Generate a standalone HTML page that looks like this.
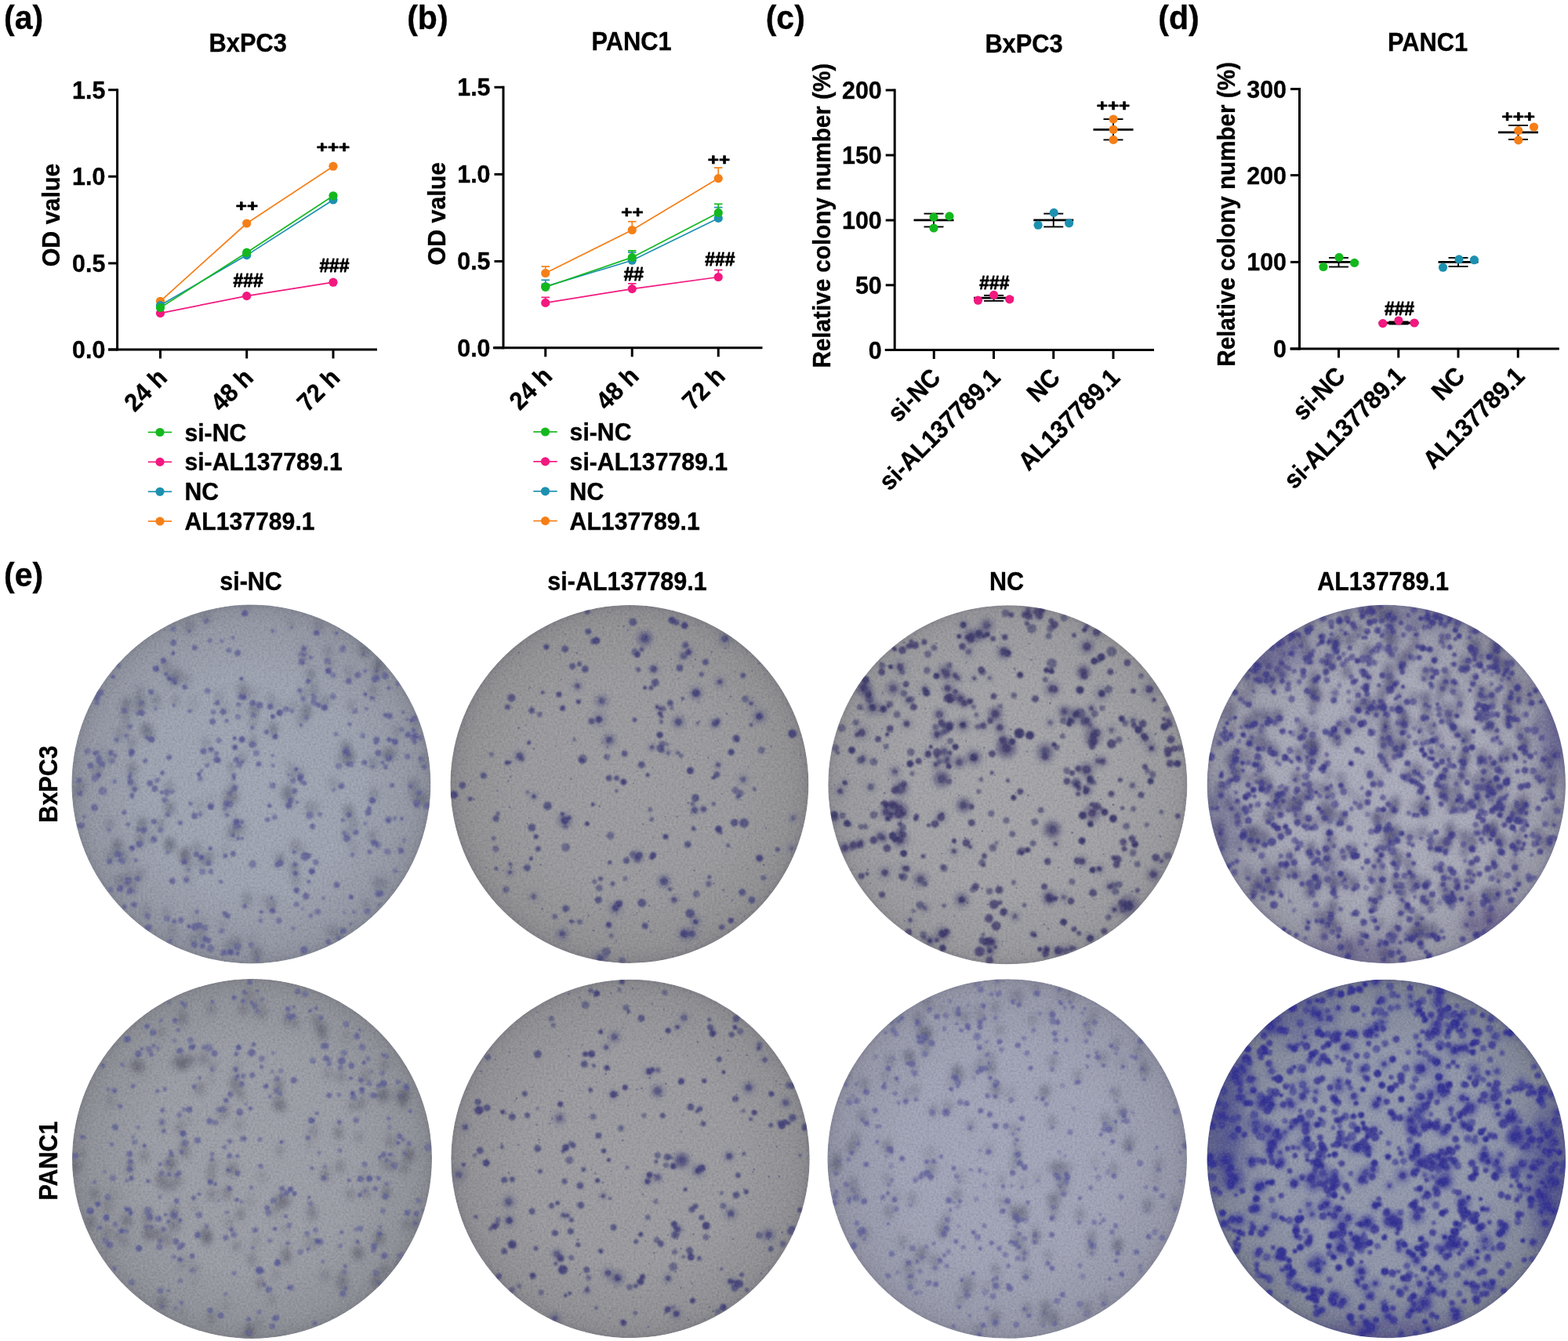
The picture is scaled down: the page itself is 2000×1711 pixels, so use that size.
<!DOCTYPE html>
<html lang="en"><head><meta charset="utf-8"><title>Figure</title>
<style>
html,body{margin:0;padding:0;background:#fff;}
body{width:2000px;height:1711px;overflow:hidden;}
svg{display:block;}
</style></head><body>
<svg width="2000" height="1711" viewBox="0 0 2000 1711" font-family="Liberation Sans, Arial, Helvetica, sans-serif" font-weight="bold" fill="#000">
<style>text{stroke:#000;stroke-width:0.35px;stroke-linejoin:round}</style>
<rect width="2000" height="1711" fill="#fff"/>
<text transform="translate(5 36.7) scale(1 1.03)" font-size="41" text-anchor="start">(a)</text>
<text transform="translate(519.2 36.7) scale(1 1.03)" font-size="41" text-anchor="start">(b)</text>
<text transform="translate(976.7 36.7) scale(1 1.03)" font-size="41" text-anchor="start">(c)</text>
<text transform="translate(1477.3 36.7) scale(1 1.03)" font-size="41" text-anchor="start">(d)</text>
<text transform="translate(5 748.2) scale(1 1.03)" font-size="41" text-anchor="start">(e)</text>
<text transform="translate(316.2 65.9) scale(1 1.06)" font-size="30.8" text-anchor="middle">BxPC3</text>
<text transform="translate(76.4 274.5) rotate(-90) scale(1 1.06)" font-size="30.4" text-anchor="middle">OD value</text>
<line x1="149.6" y1="113.2" x2="149.6" y2="447.4" stroke="#000" stroke-width="3.0" stroke-linecap="butt"/>
<line x1="138" y1="445.9" x2="481" y2="445.9" stroke="#000" stroke-width="3.0" stroke-linecap="butt"/>
<line x1="138.1" y1="114.7" x2="149.6" y2="114.7" stroke="#000" stroke-width="3.0" stroke-linecap="butt"/>
<text transform="translate(134.3 125.79) scale(1 1.06)" font-size="30.4" text-anchor="end">1.5</text>
<line x1="138.1" y1="225.2" x2="149.6" y2="225.2" stroke="#000" stroke-width="3.0" stroke-linecap="butt"/>
<text transform="translate(134.3 236.29) scale(1 1.06)" font-size="30.4" text-anchor="end">1.0</text>
<line x1="138.1" y1="335.9" x2="149.6" y2="335.9" stroke="#000" stroke-width="3.0" stroke-linecap="butt"/>
<text transform="translate(134.3 346.99) scale(1 1.06)" font-size="30.4" text-anchor="end">0.5</text>
<line x1="138.1" y1="446" x2="149.6" y2="446" stroke="#000" stroke-width="3.0" stroke-linecap="butt"/>
<text transform="translate(134.3 457.09) scale(1 1.06)" font-size="30.4" text-anchor="end">0.0</text>
<line x1="204.5" y1="445.9" x2="204.5" y2="457.4" stroke="#000" stroke-width="3.0" stroke-linecap="butt"/>
<line x1="314.7" y1="445.9" x2="314.7" y2="457.4" stroke="#000" stroke-width="3.0" stroke-linecap="butt"/>
<line x1="425" y1="445.9" x2="425" y2="457.4" stroke="#000" stroke-width="3.0" stroke-linecap="butt"/>
<polyline points="204.5,384.3 314.7,285 425,212.2" fill="none" stroke="#F57F17" stroke-width="1.7"/>
<circle cx="204.5" cy="384.3" r="5.6" fill="#F57F17"/>
<circle cx="314.7" cy="285" r="5.6" fill="#F57F17"/>
<circle cx="425" cy="212.2" r="5.6" fill="#F57F17"/>
<polyline points="204.5,389.6 314.7,325.6 425,255" fill="none" stroke="#1D90B0" stroke-width="1.7"/>
<circle cx="204.5" cy="389.6" r="5.6" fill="#1D90B0"/>
<circle cx="314.7" cy="325.6" r="5.6" fill="#1D90B0"/>
<circle cx="425" cy="255" r="5.6" fill="#1D90B0"/>
<polyline points="204.5,399.6 314.7,377.6 425,360.2" fill="none" stroke="#F2187F" stroke-width="1.7"/>
<circle cx="204.5" cy="399.6" r="5.6" fill="#F2187F"/>
<circle cx="314.7" cy="377.6" r="5.6" fill="#F2187F"/>
<circle cx="425" cy="360.2" r="5.6" fill="#F2187F"/>
<polyline points="204.5,392.6 314.7,322.2 425,249.8" fill="none" stroke="#14B81E" stroke-width="1.7"/>
<circle cx="204.5" cy="392.6" r="5.6" fill="#14B81E"/>
<circle cx="314.7" cy="322.2" r="5.6" fill="#14B81E"/>
<circle cx="425" cy="249.8" r="5.6" fill="#14B81E"/>
<text transform="translate(315 269.72) scale(1.03 0.86)" font-size="23.5" text-anchor="middle" style="stroke-width:0.8px">++</text>
<text transform="translate(425 195.12) scale(1.03 0.86)" font-size="23.5" text-anchor="middle" style="stroke-width:0.8px">+++</text>
<text transform="translate(316.6 365.73) scale(0.97 1.03)" font-size="23.5" text-anchor="middle" style="stroke-width:0.85px">###</text>
<text transform="translate(426.4 347.43) scale(0.97 1.03)" font-size="23.5" text-anchor="middle" style="stroke-width:0.85px">###</text>
<text transform="translate(214.8 483.8) rotate(-45) scale(1 1.06)" font-size="30.4" text-anchor="end">24 h</text>
<text transform="translate(325.0 483.8) rotate(-45) scale(1 1.06)" font-size="30.4" text-anchor="end">48 h</text>
<text transform="translate(435.3 483.8) rotate(-45) scale(1 1.06)" font-size="30.4" text-anchor="end">72 h</text>
<line x1="188.8" y1="551.5" x2="219.2" y2="551.5" stroke="#14B81E" stroke-width="1.7" stroke-linecap="butt"/>
<circle cx="204" cy="551.5" r="5.6" fill="#14B81E"/>
<text transform="translate(235.4 562.5) scale(1 1.06)" font-size="30.2" text-anchor="start">si-NC</text>
<line x1="188.8" y1="589.4" x2="219.2" y2="589.4" stroke="#F2187F" stroke-width="1.7" stroke-linecap="butt"/>
<circle cx="204" cy="589.4" r="5.6" fill="#F2187F"/>
<text transform="translate(235.4 600.4) scale(1 1.06)" font-size="30.2" text-anchor="start">si-AL137789.1</text>
<line x1="188.8" y1="627.3" x2="219.2" y2="627.3" stroke="#1D90B0" stroke-width="1.7" stroke-linecap="butt"/>
<circle cx="204" cy="627.3" r="5.6" fill="#1D90B0"/>
<text transform="translate(235.4 638.3) scale(1 1.06)" font-size="30.2" text-anchor="start">NC</text>
<line x1="188.8" y1="665.1" x2="219.2" y2="665.1" stroke="#F57F17" stroke-width="1.7" stroke-linecap="butt"/>
<circle cx="204" cy="665.1" r="5.6" fill="#F57F17"/>
<text transform="translate(235.4 676.1) scale(1 1.06)" font-size="30.2" text-anchor="start">AL137789.1</text>
<text transform="translate(805.6 63.9) scale(1 1.06)" font-size="30.8" text-anchor="middle">PANC1</text>
<text transform="translate(567.8 272.6) rotate(-90) scale(1 1.06)" font-size="30.4" text-anchor="middle">OD value</text>
<line x1="642" y1="109.8" x2="642" y2="445.25" stroke="#000" stroke-width="3.0" stroke-linecap="butt"/>
<line x1="629" y1="443.75" x2="972.5" y2="443.75" stroke="#000" stroke-width="3.0" stroke-linecap="butt"/>
<line x1="630.5" y1="111.3" x2="642" y2="111.3" stroke="#000" stroke-width="3.0" stroke-linecap="butt"/>
<text transform="translate(625.5 122.39) scale(1 1.06)" font-size="30.4" text-anchor="end">1.5</text>
<line x1="630.5" y1="222.4" x2="642" y2="222.4" stroke="#000" stroke-width="3.0" stroke-linecap="butt"/>
<text transform="translate(625.5 233.49) scale(1 1.06)" font-size="30.4" text-anchor="end">1.0</text>
<line x1="630.5" y1="333.4" x2="642" y2="333.4" stroke="#000" stroke-width="3.0" stroke-linecap="butt"/>
<text transform="translate(625.5 344.49) scale(1 1.06)" font-size="30.4" text-anchor="end">0.5</text>
<line x1="630.5" y1="443.75" x2="642" y2="443.75" stroke="#000" stroke-width="3.0" stroke-linecap="butt"/>
<text transform="translate(625.5 454.84) scale(1 1.06)" font-size="30.4" text-anchor="end">0.0</text>
<line x1="695.75" y1="443.75" x2="695.75" y2="455.25" stroke="#000" stroke-width="3.0" stroke-linecap="butt"/>
<line x1="806.25" y1="443.75" x2="806.25" y2="455.25" stroke="#000" stroke-width="3.0" stroke-linecap="butt"/>
<line x1="916.25" y1="443.75" x2="916.25" y2="455.25" stroke="#000" stroke-width="3.0" stroke-linecap="butt"/>
<line x1="695.75" y1="348.5" x2="695.75" y2="340" stroke="#F57F17" stroke-width="1.7" stroke-linecap="butt"/>
<line x1="690.5" y1="340" x2="701.0" y2="340" stroke="#F57F17" stroke-width="1.7" stroke-linecap="butt"/>
<line x1="806.25" y1="293.5" x2="806.25" y2="282.7" stroke="#F57F17" stroke-width="1.7" stroke-linecap="butt"/>
<line x1="801.0" y1="282.7" x2="811.5" y2="282.7" stroke="#F57F17" stroke-width="1.7" stroke-linecap="butt"/>
<line x1="916.25" y1="227.6" x2="916.25" y2="214" stroke="#F57F17" stroke-width="1.7" stroke-linecap="butt"/>
<line x1="911.0" y1="214" x2="921.5" y2="214" stroke="#F57F17" stroke-width="1.7" stroke-linecap="butt"/>
<polyline points="695.75,348.5 806.25,293.5 916.25,227.6" fill="none" stroke="#F57F17" stroke-width="1.7"/>
<circle cx="695.75" cy="348.5" r="5.6" fill="#F57F17"/>
<circle cx="806.25" cy="293.5" r="5.6" fill="#F57F17"/>
<circle cx="916.25" cy="227.6" r="5.6" fill="#F57F17"/>
<line x1="695.75" y1="365.6" x2="695.75" y2="357.3" stroke="#1D90B0" stroke-width="1.7" stroke-linecap="butt"/>
<line x1="690.5" y1="357.3" x2="701.0" y2="357.3" stroke="#1D90B0" stroke-width="1.7" stroke-linecap="butt"/>
<line x1="806.25" y1="332.2" x2="806.25" y2="322" stroke="#1D90B0" stroke-width="1.7" stroke-linecap="butt"/>
<line x1="801.0" y1="322" x2="811.5" y2="322" stroke="#1D90B0" stroke-width="1.7" stroke-linecap="butt"/>
<line x1="916.25" y1="278.4" x2="916.25" y2="264.6" stroke="#1D90B0" stroke-width="1.7" stroke-linecap="butt"/>
<line x1="911.0" y1="264.6" x2="921.5" y2="264.6" stroke="#1D90B0" stroke-width="1.7" stroke-linecap="butt"/>
<polyline points="695.75,365.6 806.25,332.2 916.25,278.4" fill="none" stroke="#1D90B0" stroke-width="1.7"/>
<circle cx="695.75" cy="365.6" r="5.6" fill="#1D90B0"/>
<circle cx="806.25" cy="332.2" r="5.6" fill="#1D90B0"/>
<circle cx="916.25" cy="278.4" r="5.6" fill="#1D90B0"/>
<line x1="695.75" y1="386.4" x2="695.75" y2="379.4" stroke="#F2187F" stroke-width="1.7" stroke-linecap="butt"/>
<line x1="690.5" y1="379.4" x2="701.0" y2="379.4" stroke="#F2187F" stroke-width="1.7" stroke-linecap="butt"/>
<line x1="806.25" y1="368.6" x2="806.25" y2="361.8" stroke="#F2187F" stroke-width="1.7" stroke-linecap="butt"/>
<line x1="801.0" y1="361.8" x2="811.5" y2="361.8" stroke="#F2187F" stroke-width="1.7" stroke-linecap="butt"/>
<line x1="916.25" y1="353.5" x2="916.25" y2="344.5" stroke="#F2187F" stroke-width="1.7" stroke-linecap="butt"/>
<line x1="911.0" y1="344.5" x2="921.5" y2="344.5" stroke="#F2187F" stroke-width="1.7" stroke-linecap="butt"/>
<polyline points="695.75,386.4 806.25,368.6 916.25,353.5" fill="none" stroke="#F2187F" stroke-width="1.7"/>
<circle cx="695.75" cy="386.4" r="5.6" fill="#F2187F"/>
<circle cx="806.25" cy="368.6" r="5.6" fill="#F2187F"/>
<circle cx="916.25" cy="353.5" r="5.6" fill="#F2187F"/>
<line x1="695.75" y1="366.3" x2="695.75" y2="362.5" stroke="#14B81E" stroke-width="1.7" stroke-linecap="butt"/>
<line x1="690.5" y1="362.5" x2="701.0" y2="362.5" stroke="#14B81E" stroke-width="1.7" stroke-linecap="butt"/>
<line x1="806.25" y1="328.4" x2="806.25" y2="319.8" stroke="#14B81E" stroke-width="1.7" stroke-linecap="butt"/>
<line x1="801.0" y1="319.8" x2="811.5" y2="319.8" stroke="#14B81E" stroke-width="1.7" stroke-linecap="butt"/>
<line x1="916.25" y1="271.4" x2="916.25" y2="260.3" stroke="#14B81E" stroke-width="1.7" stroke-linecap="butt"/>
<line x1="911.0" y1="260.3" x2="921.5" y2="260.3" stroke="#14B81E" stroke-width="1.7" stroke-linecap="butt"/>
<polyline points="695.75,366.3 806.25,328.4 916.25,271.4" fill="none" stroke="#14B81E" stroke-width="1.7"/>
<circle cx="695.75" cy="366.3" r="5.6" fill="#14B81E"/>
<circle cx="806.25" cy="328.4" r="5.6" fill="#14B81E"/>
<circle cx="916.25" cy="271.4" r="5.6" fill="#14B81E"/>
<text transform="translate(806.5 278.12) scale(1.03 0.86)" font-size="23.5" text-anchor="middle" style="stroke-width:0.8px">++</text>
<text transform="translate(917 210.72) scale(1.03 0.86)" font-size="23.5" text-anchor="middle" style="stroke-width:0.8px">++</text>
<text transform="translate(808.3 357.93) scale(0.97 1.03)" font-size="23.5" text-anchor="middle" style="stroke-width:0.85px">##</text>
<text transform="translate(918.3 339.43) scale(0.97 1.03)" font-size="23.5" text-anchor="middle" style="stroke-width:0.85px">###</text>
<text transform="translate(706.05 481.8) rotate(-45) scale(1 1.06)" font-size="30.4" text-anchor="end">24 h</text>
<text transform="translate(816.55 481.8) rotate(-45) scale(1 1.06)" font-size="30.4" text-anchor="end">48 h</text>
<text transform="translate(926.55 481.8) rotate(-45) scale(1 1.06)" font-size="30.4" text-anchor="end">72 h</text>
<line x1="680.3" y1="551" x2="710.7" y2="551" stroke="#14B81E" stroke-width="1.7" stroke-linecap="butt"/>
<circle cx="695.5" cy="551" r="5.6" fill="#14B81E"/>
<text transform="translate(726.6 562.0) scale(1 1.06)" font-size="30.2" text-anchor="start">si-NC</text>
<line x1="680.3" y1="588.9" x2="710.7" y2="588.9" stroke="#F2187F" stroke-width="1.7" stroke-linecap="butt"/>
<circle cx="695.5" cy="588.9" r="5.6" fill="#F2187F"/>
<text transform="translate(726.6 599.9) scale(1 1.06)" font-size="30.2" text-anchor="start">si-AL137789.1</text>
<line x1="680.3" y1="626.8" x2="710.7" y2="626.8" stroke="#1D90B0" stroke-width="1.7" stroke-linecap="butt"/>
<circle cx="695.5" cy="626.8" r="5.6" fill="#1D90B0"/>
<text transform="translate(726.6 637.8) scale(1 1.06)" font-size="30.2" text-anchor="start">NC</text>
<line x1="680.3" y1="664.6" x2="710.7" y2="664.6" stroke="#F57F17" stroke-width="1.7" stroke-linecap="butt"/>
<circle cx="695.5" cy="664.6" r="5.6" fill="#F57F17"/>
<text transform="translate(726.6 675.6) scale(1 1.06)" font-size="30.2" text-anchor="start">AL137789.1</text>
<text transform="translate(1306 66.6) scale(1 1.06)" font-size="30.8" text-anchor="middle">BxPC3</text>
<text transform="translate(1059 275.2) rotate(-90) scale(1 1.06)" font-size="29.65" text-anchor="middle">Relative colony number (%)</text>
<line x1="1141.2" y1="113.5" x2="1141.2" y2="448.0" stroke="#000" stroke-width="3.0" stroke-linecap="butt"/>
<line x1="1128.75" y1="446.5" x2="1472" y2="446.5" stroke="#000" stroke-width="3.0" stroke-linecap="butt"/>
<line x1="1129.7" y1="115" x2="1141.2" y2="115" stroke="#000" stroke-width="3.0" stroke-linecap="butt"/>
<text transform="translate(1124.7 126.09) scale(1 1.06)" font-size="30.4" text-anchor="end">200</text>
<line x1="1129.7" y1="198" x2="1141.2" y2="198" stroke="#000" stroke-width="3.0" stroke-linecap="butt"/>
<text transform="translate(1124.7 209.09) scale(1 1.06)" font-size="30.4" text-anchor="end">150</text>
<line x1="1129.7" y1="281" x2="1141.2" y2="281" stroke="#000" stroke-width="3.0" stroke-linecap="butt"/>
<text transform="translate(1124.7 292.09) scale(1 1.06)" font-size="30.4" text-anchor="end">100</text>
<line x1="1129.7" y1="363.8" x2="1141.2" y2="363.8" stroke="#000" stroke-width="3.0" stroke-linecap="butt"/>
<text transform="translate(1124.7 374.89) scale(1 1.06)" font-size="30.4" text-anchor="end">50</text>
<line x1="1129.7" y1="446.5" x2="1141.2" y2="446.5" stroke="#000" stroke-width="3.0" stroke-linecap="butt"/>
<text transform="translate(1124.7 457.59) scale(1 1.06)" font-size="30.4" text-anchor="end">0</text>
<line x1="1191.25" y1="446.5" x2="1191.25" y2="458.0" stroke="#000" stroke-width="3.0" stroke-linecap="butt"/>
<line x1="1267.5" y1="446.5" x2="1267.5" y2="458.0" stroke="#000" stroke-width="3.0" stroke-linecap="butt"/>
<line x1="1343.75" y1="446.5" x2="1343.75" y2="458.0" stroke="#000" stroke-width="3.0" stroke-linecap="butt"/>
<line x1="1420" y1="446.5" x2="1420" y2="458.0" stroke="#000" stroke-width="3.0" stroke-linecap="butt"/>
<line x1="1165.5" y1="280.9" x2="1216.5" y2="280.9" stroke="#000" stroke-width="2.8" stroke-linecap="butt"/>
<line x1="1191" y1="272.6" x2="1191" y2="289.4" stroke="#000" stroke-width="1.9" stroke-linecap="butt"/>
<line x1="1178.5" y1="272.6" x2="1203.5" y2="272.6" stroke="#000" stroke-width="1.9" stroke-linecap="butt"/>
<line x1="1178.5" y1="289.4" x2="1203.5" y2="289.4" stroke="#000" stroke-width="1.9" stroke-linecap="butt"/>
<circle cx="1191" cy="277.1" r="5.6" fill="#14B81E"/>
<circle cx="1211" cy="275.9" r="5.6" fill="#14B81E"/>
<circle cx="1191" cy="291" r="5.6" fill="#14B81E"/>
<line x1="1242.1" y1="380.2" x2="1293.1" y2="380.2" stroke="#000" stroke-width="2.8" stroke-linecap="butt"/>
<line x1="1267.6" y1="376.9" x2="1267.6" y2="383.9" stroke="#000" stroke-width="1.9" stroke-linecap="butt"/>
<line x1="1255.1" y1="376.9" x2="1280.1" y2="376.9" stroke="#000" stroke-width="1.9" stroke-linecap="butt"/>
<line x1="1255.1" y1="383.9" x2="1280.1" y2="383.9" stroke="#000" stroke-width="1.9" stroke-linecap="butt"/>
<circle cx="1247.5" cy="383.2" r="5.6" fill="#F2187F"/>
<circle cx="1267.6" cy="376.4" r="5.6" fill="#F2187F"/>
<circle cx="1287.7" cy="381.9" r="5.6" fill="#F2187F"/>
<line x1="1318.25" y1="280.9" x2="1369.25" y2="280.9" stroke="#000" stroke-width="2.8" stroke-linecap="butt"/>
<line x1="1343.75" y1="272.6" x2="1343.75" y2="289.4" stroke="#000" stroke-width="1.9" stroke-linecap="butt"/>
<line x1="1331.25" y1="272.6" x2="1356.25" y2="272.6" stroke="#000" stroke-width="1.9" stroke-linecap="butt"/>
<line x1="1331.25" y1="289.4" x2="1356.25" y2="289.4" stroke="#000" stroke-width="1.9" stroke-linecap="butt"/>
<circle cx="1324.1" cy="287.2" r="5.6" fill="#1D90B0"/>
<circle cx="1344.2" cy="271.4" r="5.6" fill="#1D90B0"/>
<circle cx="1363.6" cy="284.7" r="5.6" fill="#1D90B0"/>
<line x1="1394.5" y1="165.3" x2="1445.5" y2="165.3" stroke="#000" stroke-width="2.8" stroke-linecap="butt"/>
<line x1="1420" y1="152" x2="1420" y2="178.4" stroke="#000" stroke-width="1.9" stroke-linecap="butt"/>
<line x1="1407.5" y1="152" x2="1432.5" y2="152" stroke="#000" stroke-width="1.9" stroke-linecap="butt"/>
<line x1="1407.5" y1="178.4" x2="1432.5" y2="178.4" stroke="#000" stroke-width="1.9" stroke-linecap="butt"/>
<circle cx="1420.1" cy="152" r="5.6" fill="#F57F17"/>
<circle cx="1420.1" cy="165.3" r="5.6" fill="#F57F17"/>
<circle cx="1420.1" cy="178.4" r="5.6" fill="#F57F17"/>
<text transform="translate(1420 141.92) scale(1.03 0.86)" font-size="23.5" text-anchor="middle" style="stroke-width:0.8px">+++</text>
<text transform="translate(1268.3 368.73) scale(0.97 1.03)" font-size="23.5" text-anchor="middle" style="stroke-width:0.85px">###</text>
<text transform="translate(1201.55 483.8) rotate(-45) scale(1 1.06)" font-size="30.4" text-anchor="end">si-NC</text>
<text transform="translate(1277.8 483.8) rotate(-45) scale(1 1.06)" font-size="30.4" text-anchor="end">si-AL137789.1</text>
<text transform="translate(1354.05 483.8) rotate(-45) scale(1 1.06)" font-size="30.4" text-anchor="end">NC</text>
<text transform="translate(1430.3 483.8) rotate(-45) scale(1 1.06)" font-size="30.4" text-anchor="end">AL137789.1</text>
<text transform="translate(1821 64.8) scale(1 1.06)" font-size="30.8" text-anchor="middle">PANC1</text>
<text transform="translate(1575.2 273.4) rotate(-90) scale(1 1.06)" font-size="29.65" text-anchor="middle">Relative colony number (%)</text>
<line x1="1657.5" y1="112.1" x2="1657.5" y2="446.5" stroke="#000" stroke-width="3.0" stroke-linecap="butt"/>
<line x1="1645.5" y1="445" x2="1988.75" y2="445" stroke="#000" stroke-width="3.0" stroke-linecap="butt"/>
<line x1="1646.0" y1="113.6" x2="1657.5" y2="113.6" stroke="#000" stroke-width="3.0" stroke-linecap="butt"/>
<text transform="translate(1641.0 124.69) scale(1 1.06)" font-size="30.4" text-anchor="end">300</text>
<line x1="1646.0" y1="223.6" x2="1657.5" y2="223.6" stroke="#000" stroke-width="3.0" stroke-linecap="butt"/>
<text transform="translate(1641.0 234.69) scale(1 1.06)" font-size="30.4" text-anchor="end">200</text>
<line x1="1646.0" y1="334.4" x2="1657.5" y2="334.4" stroke="#000" stroke-width="3.0" stroke-linecap="butt"/>
<text transform="translate(1641.0 345.49) scale(1 1.06)" font-size="30.4" text-anchor="end">100</text>
<line x1="1646.0" y1="445" x2="1657.5" y2="445" stroke="#000" stroke-width="3.0" stroke-linecap="butt"/>
<text transform="translate(1641.0 456.09) scale(1 1.06)" font-size="30.4" text-anchor="end">0</text>
<line x1="1707.5" y1="445" x2="1707.5" y2="456.5" stroke="#000" stroke-width="3.0" stroke-linecap="butt"/>
<line x1="1783.75" y1="445" x2="1783.75" y2="456.5" stroke="#000" stroke-width="3.0" stroke-linecap="butt"/>
<line x1="1860" y1="445" x2="1860" y2="456.5" stroke="#000" stroke-width="3.0" stroke-linecap="butt"/>
<line x1="1936.25" y1="445" x2="1936.25" y2="456.5" stroke="#000" stroke-width="3.0" stroke-linecap="butt"/>
<line x1="1682.0" y1="334.4" x2="1733.0" y2="334.4" stroke="#000" stroke-width="2.8" stroke-linecap="butt"/>
<line x1="1707.5" y1="328.9" x2="1707.5" y2="340.5" stroke="#000" stroke-width="1.9" stroke-linecap="butt"/>
<line x1="1695.0" y1="328.9" x2="1720.0" y2="328.9" stroke="#000" stroke-width="1.9" stroke-linecap="butt"/>
<line x1="1695.0" y1="340.5" x2="1720.0" y2="340.5" stroke="#000" stroke-width="1.9" stroke-linecap="butt"/>
<circle cx="1688" cy="340.5" r="5.6" fill="#14B81E"/>
<circle cx="1708" cy="328.4" r="5.6" fill="#14B81E"/>
<circle cx="1727.6" cy="335.4" r="5.6" fill="#14B81E"/>
<line x1="1758.5" y1="412" x2="1809.5" y2="412" stroke="#000" stroke-width="2.8" stroke-linecap="butt"/>
<line x1="1784" y1="410.5" x2="1784" y2="413.5" stroke="#000" stroke-width="1.9" stroke-linecap="butt"/>
<line x1="1771.5" y1="410.5" x2="1796.5" y2="410.5" stroke="#000" stroke-width="1.9" stroke-linecap="butt"/>
<line x1="1771.5" y1="413.5" x2="1796.5" y2="413.5" stroke="#000" stroke-width="1.9" stroke-linecap="butt"/>
<circle cx="1763.8" cy="412.6" r="5.6" fill="#F2187F"/>
<circle cx="1783.9" cy="409" r="5.6" fill="#F2187F"/>
<circle cx="1804" cy="412" r="5.6" fill="#F2187F"/>
<line x1="1834.5" y1="334.4" x2="1885.5" y2="334.4" stroke="#000" stroke-width="2.8" stroke-linecap="butt"/>
<line x1="1860" y1="328.9" x2="1860" y2="340" stroke="#000" stroke-width="1.9" stroke-linecap="butt"/>
<line x1="1847.5" y1="328.9" x2="1872.5" y2="328.9" stroke="#000" stroke-width="1.9" stroke-linecap="butt"/>
<line x1="1847.5" y1="340" x2="1872.5" y2="340" stroke="#000" stroke-width="1.9" stroke-linecap="butt"/>
<circle cx="1840.5" cy="341.2" r="5.6" fill="#1D90B0"/>
<circle cx="1861" cy="330.9" r="5.6" fill="#1D90B0"/>
<circle cx="1880.4" cy="331.7" r="5.6" fill="#1D90B0"/>
<line x1="1911.0" y1="168.8" x2="1962.0" y2="168.8" stroke="#000" stroke-width="2.8" stroke-linecap="butt"/>
<line x1="1936.5" y1="160" x2="1936.5" y2="177.9" stroke="#000" stroke-width="1.9" stroke-linecap="butt"/>
<line x1="1924.0" y1="160" x2="1949.0" y2="160" stroke="#000" stroke-width="1.9" stroke-linecap="butt"/>
<line x1="1924.0" y1="177.9" x2="1949.0" y2="177.9" stroke="#000" stroke-width="1.9" stroke-linecap="butt"/>
<circle cx="1936.7" cy="166.6" r="5.6" fill="#F57F17"/>
<circle cx="1956.5" cy="162" r="5.6" fill="#F57F17"/>
<circle cx="1936.7" cy="178.9" r="5.6" fill="#F57F17"/>
<text transform="translate(1936.7 156.22) scale(1.03 0.86)" font-size="23.5" text-anchor="middle" style="stroke-width:0.8px">+++</text>
<text transform="translate(1785 401.93) scale(0.97 1.03)" font-size="23.5" text-anchor="middle" style="stroke-width:0.85px">###</text>
<text transform="translate(1717.8 481.8) rotate(-45) scale(1 1.06)" font-size="30.4" text-anchor="end">si-NC</text>
<text transform="translate(1794.05 481.8) rotate(-45) scale(1 1.06)" font-size="30.4" text-anchor="end">si-AL137789.1</text>
<text transform="translate(1870.3 481.8) rotate(-45) scale(1 1.06)" font-size="30.4" text-anchor="end">NC</text>
<text transform="translate(1946.55 481.8) rotate(-45) scale(1 1.06)" font-size="30.4" text-anchor="end">AL137789.1</text>
<text transform="translate(320 752.5) scale(1 1.06)" font-size="30.5" text-anchor="middle">si-NC</text>
<text transform="translate(800 752.5) scale(1 1.06)" font-size="30.5" text-anchor="middle">si-AL137789.1</text>
<text transform="translate(1284 752.5) scale(1 1.06)" font-size="30.5" text-anchor="middle">NC</text>
<text transform="translate(1764 752.5) scale(1 1.06)" font-size="30.5" text-anchor="middle">AL137789.1</text>
<text transform="translate(73.2 1000.5) rotate(-90) scale(1 1.06)" font-size="30.5" text-anchor="middle">BxPC3</text>
<text transform="translate(73.2 1481) rotate(-90) scale(1 1.06)" font-size="30.5" text-anchor="middle">PANC1</text>
<defs>
<filter id="bS9" x="-5%" y="-5%" width="110%" height="110%"><feGaussianBlur stdDeviation="0.9"/></filter>
<filter id="bS10" x="-5%" y="-5%" width="110%" height="110%"><feGaussianBlur stdDeviation="1.0"/></filter>
<filter id="bS11" x="-5%" y="-5%" width="110%" height="110%"><feGaussianBlur stdDeviation="1.1"/></filter>
<filter id="bS12" x="-5%" y="-5%" width="110%" height="110%"><feGaussianBlur stdDeviation="1.2"/></filter>
<filter id="bL" x="-5%" y="-5%" width="110%" height="110%"><feGaussianBlur stdDeviation="4"/></filter>
<filter id="bB" x="-5%" y="-5%" width="110%" height="110%"><feGaussianBlur stdDeviation="12"/></filter>
<filter id="bH" x="-5%" y="-5%" width="110%" height="110%"><feGaussianBlur stdDeviation="3"/></filter>
<filter id="bR" x="-5%" y="-5%" width="110%" height="110%"><feGaussianBlur stdDeviation="2.5"/></filter>
<filter id="grain" x="0" y="0" width="100%" height="100%"><feTurbulence type="fractalNoise" baseFrequency="0.35" numOctaves="2" seed="3"/><feColorMatrix type="matrix" values="0 0 0 0 0  0 0 0 0 0  0 0 0 0 0  1.6 0 0 0 -0.62"/></filter>
<filter id="grainw" x="0" y="0" width="100%" height="100%"><feTurbulence type="fractalNoise" baseFrequency="0.35" numOctaves="2" seed="9"/><feColorMatrix type="matrix" values="0 0 0 0 1  0 0 0 0 1  0 0 0 0 1  1.6 0 0 0 -0.62"/></filter>
<radialGradient id="pg0" gradientUnits="userSpaceOnUse" cx="320.4" cy="1000.5" r="229.0"><stop offset="0" stop-color="#a3a8b7"/><stop offset="0.6" stop-color="#a0a5b3"/><stop offset="0.9" stop-color="#9599a6"/><stop offset="1" stop-color="#8a8e9a"/></radialGradient>
<clipPath id="pc0"><circle cx="320.4" cy="1000.5" r="229.0"/></clipPath>
<radialGradient id="pg1" gradientUnits="userSpaceOnUse" cx="802.9" cy="1000.5" r="228.5"><stop offset="0" stop-color="#9f9fa3"/><stop offset="0.6" stop-color="#9c9ca0"/><stop offset="0.9" stop-color="#939396"/><stop offset="1" stop-color="#89898d"/></radialGradient>
<clipPath id="pc1"><circle cx="802.9" cy="1000.5" r="228.5"/></clipPath>
<radialGradient id="pg2" gradientUnits="userSpaceOnUse" cx="1285.3" cy="1001.3" r="229.0"><stop offset="0" stop-color="#a6a6ab"/><stop offset="0.6" stop-color="#a3a3a8"/><stop offset="0.9" stop-color="#9b9ba0"/><stop offset="1" stop-color="#939397"/></radialGradient>
<clipPath id="pc2"><circle cx="1285.3" cy="1001.3" r="229.0"/></clipPath>
<radialGradient id="pg3" gradientUnits="userSpaceOnUse" cx="1768.3" cy="1000.5" r="228.7"><stop offset="0" stop-color="#adaebe"/><stop offset="0.6" stop-color="#aaabba"/><stop offset="0.9" stop-color="#9d9eac"/><stop offset="1" stop-color="#90919e"/></radialGradient>
<clipPath id="pc3"><circle cx="1768.3" cy="1000.5" r="228.7"/></clipPath>
<radialGradient id="pg4" gradientUnits="userSpaceOnUse" cx="321.5" cy="1478.5" r="229.5"><stop offset="0" stop-color="#a0a2ab"/><stop offset="0.6" stop-color="#9d9fa8"/><stop offset="0.9" stop-color="#92949c"/><stop offset="1" stop-color="#878990"/></radialGradient>
<clipPath id="pc4"><circle cx="321.5" cy="1478.5" r="229.5"/></clipPath>
<radialGradient id="pg5" gradientUnits="userSpaceOnUse" cx="804.0" cy="1478.5" r="228.7"><stop offset="0" stop-color="#9f9fa4"/><stop offset="0.6" stop-color="#9c9ca1"/><stop offset="0.9" stop-color="#939397"/><stop offset="1" stop-color="#89898e"/></radialGradient>
<clipPath id="pc5"><circle cx="804.0" cy="1478.5" r="228.7"/></clipPath>
<radialGradient id="pg6" gradientUnits="userSpaceOnUse" cx="1284.7" cy="1478.5" r="229.3"><stop offset="0" stop-color="#a5a8bc"/><stop offset="0.6" stop-color="#a2a5b8"/><stop offset="0.9" stop-color="#989bad"/><stop offset="1" stop-color="#8f91a2"/></radialGradient>
<clipPath id="pc6"><circle cx="1284.7" cy="1478.5" r="229.3"/></clipPath>
<radialGradient id="pg7" gradientUnits="userSpaceOnUse" cx="1768.3" cy="1478.5" r="228.7"><stop offset="0" stop-color="#959baf"/><stop offset="0.6" stop-color="#9298ac"/><stop offset="0.9" stop-color="#83899b"/><stop offset="1" stop-color="#757a8a"/></radialGradient>
<clipPath id="pc7"><circle cx="1768.3" cy="1478.5" r="228.7"/></clipPath>
</defs>
<g clip-path="url(#pc0)">
<circle cx="320.4" cy="1000.5" r="229.0" fill="url(#pg0)"/>
<g filter="url(#bL)" fill="none" stroke="#565a6e" stroke-linecap="round">
<path stroke-width="7" stroke-opacity="0.2" d="M246.9 1166.5v6M219.8 789v6M510.7 1076.1v6M154.8 1123.8v6M305.8 900.1v6M303.7 1058.2v6"/>
<path stroke-width="7" stroke-opacity="0.4" d="M127.1 976.9v6M467.2 1149.9v6M178.6 1065.3v6M346.9 892.8v6M279.3 884.2v6M314.4 769.9v6M373.6 897v6M163.9 1120.9v6M122.8 981.5v6M211.9 1161.3v6"/>
<path stroke-width="7" stroke-opacity="0.6" d="M495.3 958.3v6M237.6 1084v6"/>
<path stroke-width="8" stroke-opacity="0.2" d="M268.9 1017.9v6M432.6 964v6M265.7 964.7v6M123 981.1v6M356.8 898.6v6"/>
<path stroke-width="8" stroke-opacity="0.4" d="M528.6 921.6v6M150.9 1119.1v6M296.5 999.2v6M178.2 878.5v6M444.9 854.8v6M420.5 844v6M505.8 929.8v6M424.4 995.6v6M386.9 881.8v6M262.5 944.6v6M140.6 962.8v6M170.3 998.4v6M152.2 1119.2v6M98.7 1005.7v6M297.9 1055.7v6M448 896.9v6M420.8 1183.8v6M493.1 961.3v6M490.5 958.9v6M296.9 1010.8v6M167.9 1126.6v6M238.5 863.6v6M186.7 1157.7v6M322.9 919.3v6M489.6 1124.5v6M223.7 890.6v6"/>
<path stroke-width="8" stroke-opacity="0.6" d="M140.8 1090.4v6M392.7 904.8v6M162.1 893v6M325.4 903.4v6"/>
<path stroke-width="9" stroke-opacity="0.2" d="M128 957.4v6M385.1 980.8v6M531.6 999.5v6M161.5 925.7v6M443.9 964.5v6M344 885.2v6M289.3 1016.6v6M323.9 940.9v6M265.1 1091.8v6M387.2 823.9v6"/>
<path stroke-width="9" stroke-opacity="0.4" d="M220 1184.2v6M348.4 926.1v6M479.2 854.2v6M160.3 913.7v6M446.2 962.7v6M179.6 1070.9v6M321.6 903.1v6M139.4 1048.8v6M400.7 875.8v6M418.2 827.3v6M289.9 1012.1v6M151.7 933.6v6M311.7 881.7v6M430.1 1187.9v6M288.4 1027.3v6M376.4 1102v6M368.1 1006.6v6M181.1 898.7v6M295.1 975.6v6M240.7 1100.4v6M268.5 1090v6M263.7 784.7v6"/>
<path stroke-width="9" stroke-opacity="0.6" d="M357 1092.4v6M396.4 857.2v6"/>
<path stroke-width="10" stroke-opacity="0.2" d="M371.5 792v6M287.6 1082v6M298.7 1042.2v6M284.7 1175.8v6M440.5 947.6v6M403.9 1026.2v6M346.2 1153.4v6M219.7 862.8v6M171.9 1129.2v6M321.7 1194.1v6M534 1018.8v6"/>
<path stroke-width="10" stroke-opacity="0.4" d="M159.3 1090.5v6M308.3 1053v6M308.6 963.9v6M150.4 1077.4v6M387.2 836.8v6M384.5 915.4v6M178.5 1112.6v6M234.9 1090v6M245.8 1195.5v6M168.2 944.4v6M215.7 1001.7v6M377.7 1118.7v6M476.9 1010.1v6M451.2 1048v6M476.3 876.9v6M474.8 1063.1v6M204.5 1048.8v6M251 1078.3v6M291.9 1203.3v6M448 962.4v6M181.5 1048.8v6M394.8 1027.2v6M442.9 1061.1v6M482.2 848.4v6M217.9 1075.8v6"/>
<path stroke-width="10" stroke-opacity="0.6" d="M149.1 1075.2v6M185.9 928.3v6"/>
<path stroke-width="11" stroke-opacity="0.2" d="M255 1026.1v6M372.7 1106.1v6M257.2 1174.4v6M399.9 879.1v6M194.3 1064.9v6M175.9 899.6v6M168.2 978v6M246 893.5v6M368 1006.8v6M385.6 1083.6v6M336.5 1145v6M158.8 1119.5v6M322 941.9v6M324.1 881.2v6M369.1 973.5v6"/>
<path stroke-width="11" stroke-opacity="0.4" d="M159 900.6v6M390.3 901.7v6M374.7 986.1v6M212.6 847.2v6M294.8 1059.3v6M185.9 927.2v6M439.6 963.3v6M528.8 1011.9v6M369.7 1018v6M475.4 970.1v6M198.7 889.9v6M348.4 927.8v6M376.3 1076.3v6M223 864.8v6M168.6 977.9v6M414.5 892.1v6M327.2 1213.2v6M406.4 796.3v6M500.4 958.4v6M257.1 1188.7v6M103.5 1000.4v6M541.8 968.7v6M527 996.9v6M346.8 1149.6v6M191.3 932.9v6"/>
<path stroke-width="11" stroke-opacity="0.6" d="M216.6 1028.2v6M539.6 1016.7v6M483.7 843.8v6M444.7 1031.9v6"/>
<path stroke-width="12" stroke-opacity="0.2" d="M286.8 901.3v6M239.7 1116.5v6M450.6 1077.7v6M164.6 1109.5v6"/>
<path stroke-width="12" stroke-opacity="0.4" d="M302.1 1199.3v6M481.5 1123.6v6M315.1 1144.1v6M224 859.1v6M258 1095.2v6M241.4 796.8v6M364.5 1008.7v6M298.4 1014.7v6M181.8 1048.9v6M177.6 891.1v6M327.5 1214.5v6M309.3 876.1v6M441.6 950.8v6M226.1 858.3v6"/>
<path stroke-width="12" stroke-opacity="0.6" d="M235.7 1089.1v6M216.1 1074.3v6M464.7 826.2v6"/>
</g>
<g filter="url(#bS10)" fill="none" stroke="#5c5c96" stroke-linecap="round">
<path stroke-width="4" stroke-opacity="0.6" d="M367.8 988.5h.01M385.9 1159.7h.01M240.5 1109.4h.01M371.8 800.4h.01M439.4 1164.6h.01M489.7 859.2h.01"/>
<path stroke-width="4" stroke-opacity="0.8" d="M347.8 964h.01M399 886.3h.01M447.6 1178.8h.01M241.6 805.3h.01M378.9 1023.4h.01M221.8 900.1h.01M412.5 1146.2h.01M346.2 1145.4h.01M483.3 1154.4h.01M383.6 925.2h.01M308.9 1070.1h.01M514.5 908.8h.01M519.7 918h.01M463.7 835.3h.01"/>
<path stroke-width="4" d="M305.7 1054.5h.01M480.4 856.4h.01M298.5 993.4h.01"/>
<path stroke-width="5" stroke-opacity="0.6" d="M438.6 825.5h.01M347.9 976.6h.01M466.2 1050.6h.01M213.8 1087.3h.01M377.7 1134.8h.01M425.6 1007.9h.01M166.4 987.4h.01M297 813.7h.01M256.8 983.6h.01M287 1032h.01M451.6 1164h.01M467.3 904.3h.01M494.7 969.6h.01M198.6 904.5h.01M374 1184.5h.01M170.1 1137.5h.01M476.1 978h.01M168.3 1017h.01M503.7 1043.7h.01M220.1 1009.9h.01M282.7 817.8h.01M328.1 1225.1h.01M139 1059.1h.01M161.5 1128.1h.01M515.5 1071.7h.01M107.5 1042.1h.01M309.1 971.7h.01"/>
<path stroke-width="5" stroke-opacity="0.8" d="M242.1 907.2h.01M303.8 1069.8h.01M206 1011.1h.01M429.1 808.1h.01M333.3 1163.6h.01M487.8 973h.01M475.7 891.3h.01M163.3 1051.7h.01M175.7 910.2h.01M393.8 1124.9h.01M281.8 1125h.01M465.5 856h.01M496 878h.01M166.1 1134.8h.01M348.3 804.9h.01M394.4 868.9h.01M437.4 1046.6h.01M293 1012.1h.01M172.9 1097.5h.01M396.5 838.9h.01M289.1 919.8h.01M374.9 1087.2h.01M251.3 1163.2h.01M187.3 940.9h.01M475.2 1074h.01M297.1 1065.7h.01M473.8 890.2h.01M179.4 907.7h.01M512.6 1044.6h.01M289.4 1039.9h.01M321.8 928.4h.01M146.9 964.1h.01M446 924.1h.01M176.2 1058.6h.01M243.2 1025.3h.01"/>
<path stroke-width="5" d="M377.8 981.6h.01M466 885.8h.01M165.2 991.5h.01M241 1182.1h.01M303 1216.6h.01M343.7 1028h.01M144.3 863.5h.01M307.9 866.1h.01M253.6 987.9h.01M439.3 959.6h.01M220.9 833.5h.01M268.5 1082.6h.01M525.4 919.1h.01M299.2 942h.01"/>
<path stroke-width="6" stroke-opacity="0.6" d="M495.4 1047.9h.01M220.8 867h.01M408 1039.2h.01M297.9 1007.1h.01M439.1 1063.2h.01M384 834.5h.01M166.9 963.4h.01M449.5 1090.8h.01M152.5 1097.6h.01M267.8 817.4h.01M507.3 872.8h.01M372 907h.01M123.9 960.7h.01M391.3 916.1h.01M396.3 1168.4h.01M146.3 997.3h.01M323.6 912.8h.01M222.8 867h.01M332.2 1174.5h.01M512.7 930.8h.01M160.9 939.1h.01M428.6 936.5h.01M264.4 976.5h.01M255.5 1038.9h.01M304.2 898.9h.01M387.9 835.4h.01M384.1 996.8h.01M308.1 1048.4h.01M504.2 1111.3h.01"/>
<path stroke-width="6" stroke-opacity="0.8" d="M207.1 986.1h.01M212 860.2h.01M180.6 896.8h.01M541.2 978.7h.01M481.9 865h.01M298 989.8h.01M125.3 966.8h.01M479.7 947.3h.01M341.3 1046.1h.01M388.3 999.2h.01M376.2 1103.3h.01M491.9 978.4h.01M382.3 881h.01M158.5 1157h.01M214 1039.4h.01M229.8 1049.9h.01M120.9 960.8h.01M470.9 1031.4h.01M222 1176.1h.01M312.2 1156.2h.01M170.2 1154.1h.01M286.3 1165.4h.01M125.4 971.6h.01M491.1 912.3h.01M392.6 869.4h.01M339.7 934h.01M471.4 1086.8h.01M528.9 946.8h.01M287.2 1092.1h.01M168.4 1014.5h.01M127.6 968.1h.01M291.8 830.1h.01M394.3 1091.8h.01M185.2 970.8h.01M158.5 1036.4h.01M500 1002h.01M536.7 968.2h.01M527.7 932.1h.01"/>
<path stroke-width="6" d="M216 865.8h.01M376.8 1114.2h.01M347.9 914.3h.01M222.8 870.5h.01M447.7 1144.6h.01M496.6 943.8h.01M125.8 988.8h.01"/>
<path stroke-width="7" stroke-opacity="0.6" d="M255.5 993.4h.01M275.9 961.6h.01M165.5 927.3h.01M303.6 914.8h.01M536.3 941.6h.01M350.1 1042.5h.01M443.6 975h.01M142.7 971h.01M200.5 995.5h.01M263 792.6h.01M373.8 996.3h.01M386.7 891.7h.01M148.8 944.1h.01M432 1197.1h.01M462.7 938.5h.01M424.7 861.8h.01M171.9 1154.2h.01M268.9 1111.9h.01M217.1 1200.7h.01M272.1 908.6h.01M300.7 1055.3h.01M531.4 939h.01M221 802.6h.01M523.6 1003.1h.01M141.1 1135.1h.01M453.1 907.4h.01M204.9 1059h.01M320.4 1205.4h.01M480.5 864.2h.01M306.3 889.1h.01M153 1134.9h.01M150.7 849.5h.01M378.3 1153.7h.01M123.8 896.6h.01M282.7 1187.8h.01M279.1 944.7h.01"/>
<path stroke-width="7" stroke-opacity="0.8" d="M235.8 876.7h.01M299.6 1005.1h.01M171.7 1006.7h.01M175.6 1121.1h.01M534.9 1011.6h.01M101.9 1053.4h.01M329.9 975h.01M445.2 1039.8h.01M215.5 966.2h.01M301.5 969.5h.01M254.4 1180.6h.01M406.1 899.4h.01M464.9 973h.01M486.2 1140.1h.01M181.2 909.9h.01M269.1 956.2h.01M278.7 970.3h.01M443.2 961.9h.01M375.8 1009.2h.01M250.4 1089.9h.01M290.2 1168.4h.01M158.8 906.8h.01M297.6 1089.3h.01M141.3 960.6h.01M387.7 827.7h.01M191.9 943.5h.01M258.1 1207.1h.01M370.5 1020.6h.01M100.6 995.8h.01M101.8 1012.2h.01M266.1 1101.3h.01M277 896.7h.01M237.6 1122.8h.01M398.7 1054.5h.01M196.2 1048.2h.01M353.4 1103.4h.01M139.8 1099.1h.01M192.6 882.7h.01M453.7 1062h.01M230.7 1174.1h.01M265.9 1200.1h.01M418.8 1201.4h.01M248.4 826.3h.01"/>
<path stroke-width="7" d="M347.6 1161.9h.01M382.8 992.4h.01M256.9 1094.3h.01M208.4 843.1h.01M529.1 939h.01M168.5 1081.9h.01M234.9 1099.4h.01M403.7 807.6h.01M350.9 939.7h.01M299.6 953.5h.01"/>
<path stroke-width="8" stroke-opacity="0.6" d="M531.1 1023.7h.01M400.1 896.2h.01M383.6 990.1h.01M436.6 828.4h.01M327 961h.01M264.6 881.5h.01M258.1 1112.2h.01M447.4 974.9h.01M364.7 904.7h.01M425 888.8h.01M153.2 1090.2h.01M210.3 1020.7h.01M402.8 1099.9h.01M305.5 975.8h.01M368.3 1027.7h.01M111.2 958.6h.01M213.2 1172.1h.01M104.4 1053.2h.01M468.6 1162.4h.01M417.8 843.2h.01M188.3 1169.1h.01M405.2 1163.2h.01M156.3 1098.8h.01M432 977.5h.01M261.2 1183.8h.01M527.2 941.4h.01M494.1 1086.5h.01M400.8 890.8h.01M519.8 965.2h.01M164.9 1137.9h.01M355.6 1174.8h.01"/>
<path stroke-width="8" stroke-opacity="0.8" d="M166.4 997.9h.01M378.3 1136.1h.01M191.2 999.2h.01M261.4 1198.6h.01M130.5 975.1h.01M183.3 1059.1h.01M247.9 1205.3h.01M496.5 967.1h.01M303.1 833.1h.01M480.2 943.8h.01M322.2 897h.01M437.7 1187.8h.01M444.7 869.1h.01M385 844.4h.01M477.6 1075.6h.01M477.7 866.9h.01M221.2 820h.01M128.4 883.4h.01M115.5 976.9h.01M429.6 1129.1h.01M456.3 861.2h.01M496.8 913.4h.01M482.5 960.8h.01M197.4 1006.3h.01M259.5 958.4h.01M344.6 901.5h.01M491.3 862.4h.01M193.7 943.4h.01M285.6 1215.5h.01M219.8 1123.9h.01M435.3 1003.1h.01M544.5 1028h.01M495.5 1046h.01M276.1 969.3h.01M123.9 890h.01M368.5 1027.2h.01M520.4 937.6h.01M149.4 1090.1h.01M153.5 1133.1h.01M288.7 1025.5h.01M511.4 1085.3h.01M163.5 1123.2h.01M196.1 1070.9h.01M284.7 908h.01M469.7 1037.1h.01M271.1 920.7h.01M248.1 1041.1h.01M531.7 1026.4h.01M125.5 884.6h.01"/>
<path stroke-width="8" d="M293.9 1214.7h.01M413.9 902.8h.01M312.2 782.6h.01M503.8 946.6h.01M268.9 1029.1h.01M397.8 1111.7h.01M418.8 856.1h.01M310.5 889.2h.01M308.6 943.5h.01M301.3 1048.7h.01M199 853.3h.01M356.7 909.4h.01M474.8 1021.3h.01M167.9 959.4h.01"/>
<path stroke-width="9" stroke-opacity="0.6" d="M347.7 1002.5h.01M441.9 957.3h.01M212.9 1011h.01M293.4 1026.1h.01M528.5 916.7h.01M481.7 1078.1h.01"/>
<path stroke-width="9" stroke-opacity="0.8" d="M189.1 1183.7h.01M321.9 949.9h.01M177.8 1077h.01M120.5 1030.6h.01M357.4 1100.9h.01M331 899.7h.01M482.7 1140.2h.01M390.2 1143.6h.01M442.4 1069.7h.01"/>
<path stroke-width="10" stroke-opacity="0.6" d="M268.4 1210.3h.01M395.2 1040.3h.01M322.1 1102.7h.01M121.3 992.8h.01M302.9 1208.1h.01"/>
<path stroke-width="10" stroke-opacity="0.8" d="M248.9 1182.7h.01M387.8 1212.2h.01"/>
<path stroke-width="11" stroke-opacity="0.6" d="M131 1009.3h.01"/>
<path stroke-width="11" stroke-opacity="0.8" d="M389.1 1092.6h.01"/>
</g>
<rect x="91.4" y="771.5" width="458" height="458" filter="url(#grain)" opacity="0.14"/>
<rect x="91.4" y="771.5" width="458" height="458" filter="url(#grainw)" opacity="0.12"/>
<circle cx="320.4" cy="1000.5" r="228.5" fill="none" stroke="#696c7d" stroke-width="2" stroke-opacity="0.6" filter="url(#bR)"/>
</g>
<g clip-path="url(#pc1)">
<circle cx="802.9" cy="1000.5" r="228.5" fill="url(#pg1)"/>
<g filter="url(#bH)" fill="none" stroke="#46447a" stroke-linecap="round">
<path stroke-width="8" stroke-opacity="0.2" d="M779.8 1193.7h.01"/>
<path stroke-width="8" stroke-opacity="0.4" d="M852.2 960.4h.01"/>
<path stroke-width="9" stroke-opacity="0.4" d="M650.5 1112.9h.01M842.6 904.1h.01"/>
<path stroke-width="10" stroke-opacity="0.4" d="M1009.7 1082.4h.01M1011.5 1044h.01M831.8 953.5h.01M681 1016.3h.01"/>
<path stroke-width="11" stroke-opacity="0.2" d="M776.4 1180h.01M957.9 897.4h.01"/>
<path stroke-width="11" stroke-opacity="0.4" d="M878.7 831.4h.01"/>
<path stroke-width="12" stroke-opacity="0.4" d="M736.5 875.2h.01"/>
<path stroke-width="13" stroke-opacity="0.2" d="M915.9 976h.01"/>
<path stroke-width="13" stroke-opacity="0.4" d="M918.1 870h.01"/>
<path stroke-width="14" stroke-opacity="0.2" d="M680.6 1143.9h.01M859.9 1147.9h.01M886 1033.8h.01"/>
<path stroke-width="14" stroke-opacity="0.4" d="M662.6 964.8h.01M887.1 1176.1h.01M911.9 923.2h.01M882.4 1191.5h.01"/>
<path stroke-width="15" stroke-opacity="0.2" d="M834.7 854h.01M871.9 837h.01"/>
<path stroke-width="16" stroke-opacity="0.4" d="M813.2 1093.1h.01M717.2 1191.5h.01M822.5 814.4h.01"/>
<path stroke-width="17" stroke-opacity="0.2" d="M947.9 994.2h.01"/>
<path stroke-width="17" stroke-opacity="0.4" d="M872.9 1191.5h.01M784.9 1158.9h.01M767.3 894.3h.01M865.3 921.2h.01"/>
<path stroke-width="18" stroke-opacity="0.4" d="M847.1 1124.5h.01M887.8 884.5h.01M968.5 914h.01M776.8 944.3h.01"/>
<path stroke-width="19" stroke-opacity="0.4" d="M766 1223h.01"/>
<path stroke-width="20" stroke-opacity="0.4" d="M822.5 814.4h.01M720.4 1046.7h.01"/>
<path stroke-width="21" stroke-opacity="0.2" d="M924.8 815.1h.01"/>
<path stroke-width="22" stroke-opacity="0.2" d="M763.9 917.9h.01"/>
</g>
<g fill="none" stroke="#46447a" stroke-linecap="round">
<path stroke-width="1" stroke-opacity="0.4" d="M613.3 966.4h.01M834 1134.4h.01M775.6 1156.7h.01M805.1 908.2h.01M817.3 903.3h.01M888.6 1059.6h.01M759.6 885.7h.01M665.4 993.1h.01M709.7 796.1h.01M680.6 983.6h.01M883.8 1161.4h.01"/>
<path stroke-width="2" stroke-opacity="0.4" d="M808.4 1167.9h.01M869.5 894.5h.01M848.5 1041.7h.01M856.5 840.9h.01M674.7 1043.8h.01M915.8 1166.9h.01M883.5 1054.5h.01M651 981.9h.01M721.5 1008.1h.01M783.3 985.9h.01M857.2 855.2h.01M954.6 978.4h.01M943.8 993.8h.01M920.4 1013.1h.01M1013 959.5h.01M1021.6 963.3h.01M954.2 1067.8h.01M641.4 1111.1h.01M950 1169.1h.01M778.6 782h.01M600.1 996.8h.01M661.9 1077h.01M645.1 903.7h.01M882.3 1037.4h.01M891.2 896.4h.01M833 1068.5h.01M944.8 1020.5h.01M769.3 801.1h.01M712.6 1006.2h.01M859.3 1133.5h.01M865.2 865.7h.01M591.7 969.6h.01M766.3 1159.4h.01M959.1 855.9h.01M816.1 1111.1h.01M647.5 901.8h.01M870.6 914.1h.01M960.1 890h.01M866.8 1148.9h.01M672.4 1050.7h.01M893.8 1188.3h.01M964.1 900.8h.01M708.5 951.7h.01M720.7 809.2h.01M937.8 856.8h.01M986.6 931.5h.01M676 876.9h.01M934.5 1081.9h.01M788.7 799.1h.01M810.7 852.3h.01M842.3 1122.9h.01M601.7 1048.4h.01M715.9 867.2h.01M884.1 850h.01M620.5 1107.4h.01M740.1 1147.4h.01M733.2 1176.8h.01M981 1138.1h.01M714 835h.01M694.9 1030.4h.01M871.5 1004.7h.01M952.4 906.1h.01M889.4 961.3h.01M890.8 797.6h.01M944.1 1165.3h.01M880.6 991h.01M762.7 1065h.01M953.2 1108.9h.01M719.1 1196.4h.01M886.2 968.7h.01M812.7 984h.01M927 1143.4h.01M642.9 1092.8h.01M808 999.4h.01M800.4 1093.4h.01M915.6 944.4h.01M674.6 878.5h.01M832.3 979.6h.01M733.1 1096.7h.01M653.3 903h.01M903.4 1002.3h.01M767.6 947.9h.01M816 1020.5h.01M663.2 849h.01M738.3 846.6h.01M671.1 925.4h.01M918.5 816.3h.01M987.7 1091.2h.01M592.4 924h.01M842.5 1145.6h.01M1001.1 920.4h.01M812.2 1164.5h.01"/>
<path stroke-width="3" stroke-opacity="0.4" d="M728.3 994h.01M907.8 831.7h.01M634.6 1008.8h.01M795.7 799h.01M829.9 1189.1h.01M650.9 990.9h.01M863.7 1042h.01M786.1 1200.7h.01M648.1 996.5h.01M910.6 1127.2h.01M828.6 1155.8h.01M885.4 1110.8h.01M772.4 964.1h.01M887 841.4h.01M934 1148.8h.01M680.9 955.3h.01M926.9 910.7h.01M983.7 951.9h.01M974.1 1103.3h.01M977 1057.1h.01M689.7 1103.2h.01M661.7 928.5h.01M841.7 905h.01M903.3 966.5h.01M821.1 1136.2h.01M827.2 1175.5h.01M735.9 833.1h.01M892.1 920.3h.01M750.8 1167.7h.01M661.8 832.8h.01M759.1 1147.4h.01M774.6 953h.01M604.4 1019.3h.01M650.2 1029.9h.01M968.3 846.6h.01M756.9 1187.3h.01M877.6 1024.6h.01M820.3 1051.6h.01M764.9 1028.8h.01M925.5 826.9h.01M931.7 889.1h.01M824.8 1183.8h.01M922.5 1135.6h.01M962.6 1008.5h.01M691.5 1159.3h.01M651.8 1106.7h.01M800.6 804.1h.01"/>
</g>
<g filter="url(#bS9)" fill="none" stroke="#46447a" stroke-linecap="round">
<path stroke-width="4" stroke-opacity="0.6" d="M1009.7 1082.4h.01"/>
<path stroke-width="4" d="M871 891.2h.01"/>
<path stroke-width="5" stroke-opacity="0.6" d="M852.2 960.4h.01M962.2 1006.4h.01M857.1 903.8h.01M786.4 1009h.01M672.7 1010.8h.01M779.8 1193.7h.01M1011.5 1044h.01M732.5 943.7h.01M850.7 949.6h.01M889.7 923h.01"/>
<path stroke-width="5" stroke-opacity="0.8" d="M843.8 914h.01M831.8 953.5h.01M918.9 1062.2h.01M691.9 883.5h.01M632.9 1108.5h.01M842.6 904.1h.01M854.5 1134.6h.01M904.9 1118.9h.01M958.2 924.8h.01M650.9 1102.5h.01M650.1 972.8h.01M635.2 1038.1h.01M928.7 1078.8h.01M650.5 1112.9h.01M910.1 1025.7h.01"/>
<path stroke-width="5" d="M681 1016.3h.01M726 1043.7h.01M756.3 1026.6h.01M717.2 1038.6h.01M940.3 944.4h.01M838.1 901.9h.01M674.8 947.6h.01M677.4 1095.6h.01M777.7 1100.5h.01M822.6 877.5h.01M826.1 988.8h.01M910.2 992.3h.01M957.9 897.4h.01"/>
<path stroke-width="6" stroke-opacity="0.6" d="M629.5 1069.7h.01M844.4 958.3h.01M846.7 904.3h.01M883.3 1025.8h.01M864.4 960.4h.01M758.2 1124.9h.01M843.3 920.7h.01M831.3 1045.6h.01M797.5 1121h.01M868.7 964.2h.01M626.7 962.4h.01M829 1033h.01M721.3 1054.4h.01"/>
<path stroke-width="6" stroke-opacity="0.8" d="M814.2 854.4h.01M781.5 1127.7h.01M991.9 1083.9h.01M599.6 1019.2h.01M739.1 847.2h.01M729 1175.7h.01M766 1121.2h.01M736.5 875.2h.01M830.3 877.8h.01M809.5 918.6h.01M818.4 828.6h.01M918.1 870h.01M915.9 976h.01M894.7 860.5h.01M941.4 1016.6h.01M884.7 1057.2h.01"/>
<path stroke-width="6" d="M877.8 832.8h.01M831.1 1094h.01M841.9 910.6h.01M737.9 895.2h.01M683.7 1067.6h.01M887.1 1176.1h.01M646.7 973.2h.01M748.8 1051h.01"/>
<path stroke-width="7" stroke-opacity="0.6" d="M973.9 1120.1h.01M791.1 1151.8h.01M834.7 854h.01M947.9 994.2h.01M688.4 911.4h.01M739.5 1176.3h.01M707.7 1169.5h.01M665.6 968.2h.01M680.6 1143.9h.01"/>
<path stroke-width="7" stroke-opacity="0.8" d="M920.6 1182.9h.01M784.9 1158.9h.01M647.4 902h.01M813.2 1093.1h.01M947.7 861.7h.01M878.7 831.4h.01M749.1 780.6h.01M686.3 1083h.01M915.4 919.7h.01M938.8 941.4h.01M786.6 992.8h.01M859.9 1147.9h.01M717.2 1191.5h.01M914.8 921.3h.01"/>
<path stroke-width="7" d="M717.6 903.5h.01M932.3 1174.6h.01M776.4 1180h.01M742.2 970.3h.01M849 1067.5h.01M696.7 825.4h.01M712.9 886h.01"/>
<path stroke-width="8" stroke-opacity="0.6" d="M844.5 949.1h.01M632.3 1083h.01M903.8 1127.7h.01M774.3 965.9h.01M813.1 1096.5h.01M767.3 894.3h.01"/>
<path stroke-width="8" stroke-opacity="0.8" d="M914.3 988.2h.01M730 850.3h.01M862.6 794.2h.01M886 1033.8h.01M874.3 823h.01M855 897h.01M750.3 805.7h.01M662.6 964.8h.01M882.4 1191.5h.01M632.5 1044.4h.01M897.3 1032.5h.01M678.2 906.4h.01M616.8 989.5h.01M757.1 818.2h.01M911.9 923.2h.01M796.7 961.6h.01M899.9 844.7h.01M776.7 992.8h.01M815.8 1091h.01M799 1098.1h.01M754.4 920.3h.01M776.8 944.3h.01M822.7 1181.3h.01"/>
<path stroke-width="8" d="M833.2 1091.2h.01M784.9 1158.5h.01M795.3 997.7h.01M812.8 835.1h.01M841.6 937.8h.01M932.6 959.8h.01"/>
<path stroke-width="9" stroke-opacity="0.6" d="M871.9 837h.01M807.4 1090.4h.01M888.1 1140.6h.01M950.5 891.7h.01M944.3 1012.1h.01M971.3 957.1h.01M809.7 831.6h.01M645.3 1135.1h.01M937.8 1008.5h.01M793.6 1225.7h.01M764.2 1133.1h.01"/>
<path stroke-width="9" stroke-opacity="0.8" d="M746.3 853.7h.01M867 852.2h.01M822.5 814.4h.01M721.6 1159.2h.01M924.8 815.1h.01M589.8 1001.9h.01M766 1223h.01M720.6 827.9h.01M818.3 975.7h.01M877.3 1077.4h.01M763.5 1148.3h.01M946.8 1138.5h.01M959 1148.2h.01M865.3 921.2h.01M672.2 1107.2h.01"/>
<path stroke-width="9" d="M789 1153.5h.01M873.2 798.1h.01M968.5 914h.01M760.8 817.2h.01M916.5 1057.7h.01M857.1 791.2h.01M968.7 1095h.01M880.4 983.3h.01M763.9 917.9h.01"/>
<path stroke-width="10" stroke-opacity="0.6" d="M833.1 853.5h.01M939.1 942.3h.01M778.5 1066.3h.01"/>
<path stroke-width="10" stroke-opacity="0.8" d="M842.5 954.8h.01M678.3 1055.9h.01M652.3 890.4h.01M887 1018.1h.01M936.7 1049.8h.01M807.3 793.8h.01M847.1 1124.5h.01M835.7 871.1h.01"/>
<path stroke-width="10" d="M720.4 1046.7h.01M579 1014.1h.01M887.8 884.5h.01M872.9 1191.5h.01"/>
<path stroke-width="11" stroke-opacity="0.6" d="M721.7 1081h.01M773.4 1214.2h.01"/>
<path stroke-width="11" stroke-opacity="0.8" d="M818.7 1151.9h.01M698.5 1028.3h.01"/>
<path stroke-width="11" d="M1010.8 936.1h.01"/>
<path stroke-width="12" stroke-opacity="0.6" d="M743.1 968.6h.01"/>
<path stroke-width="12" stroke-opacity="0.8" d="M949 1050h.01M880.2 1165.5h.01"/>
</g>
<rect x="574.4" y="772" width="457" height="457" filter="url(#grain)" opacity="0.14"/>
<rect x="574.4" y="772" width="457" height="457" filter="url(#grainw)" opacity="0.12"/>
<circle cx="802.9" cy="1000.5" r="228.0" fill="none" stroke="#5f5f6e" stroke-width="2" stroke-opacity="0.6" filter="url(#bR)"/>
</g>
<g clip-path="url(#pc2)">
<circle cx="1285.3" cy="1001.3" r="229.0" fill="url(#pg2)"/>
<g filter="url(#bH)" fill="none" stroke="#3e3a6c" stroke-linecap="round">
<path stroke-width="8" stroke-opacity="0.2" d="M1392 903.6h.01M1319.9 1193.6h.01"/>
<path stroke-width="8" stroke-opacity="0.4" d="M1136.7 1041.7h.01M1136.7 1041.7h.01"/>
<path stroke-width="9" stroke-opacity="0.2" d="M1390.2 925.6h.01M1395.8 935.6h.01M1237.5 1080.6h.01M1262.3 864.9h.01M1395.8 935.6h.01"/>
<path stroke-width="9" stroke-opacity="0.4" d="M1392 903.6h.01M1481.7 1098.7h.01M1208.2 967.8h.01"/>
<path stroke-width="10" stroke-opacity="0.2" d="M1242.6 865.5h.01M1130.5 1029.1h.01M1392 903.6h.01M1077.7 998.8h.01"/>
<path stroke-width="10" stroke-opacity="0.4" d="M1183.7 960.7h.01M1208.2 967.8h.01M1490.5 919.9h.01M1294.6 1169.5h.01"/>
<path stroke-width="11" stroke-opacity="0.2" d="M1346.4 1076.8h.01M1218.9 882.6h.01M1207.6 971.9h.01M1237.4 894.7h.01M1444.5 1002.3h.01M1386.4 918.1h.01M1161.1 1173.9h.01M1098.6 1074.2h.01M1367.8 920.4h.01M1395.8 935.6h.01M1095.6 1075.9h.01M1294.6 1169.5h.01"/>
<path stroke-width="11" stroke-opacity="0.4" d="M1193.7 975.6h.01M1387.3 1007.6h.01M1179.5 1158.4h.01M1402.5 1109h.01M1095.6 1075.9h.01"/>
<path stroke-width="12" stroke-opacity="0.4" d="M1391.3 946.7h.01M1100.7 968.6h.01M1421.3 1160.6h.01M1373.4 1000.5h.01M1100.7 968.6h.01M1126.4 1069.2h.01M1400.5 970.9h.01M1262.4 1213h.01M1357.5 907.9h.01"/>
<path stroke-width="13" stroke-opacity="0.2" d="M1334.7 1211.6h.01M1366.5 1210.2h.01M1386.1 799.3h.01M1339.7 922h.01"/>
<path stroke-width="13" stroke-opacity="0.4" d="M1382 857.2h.01M1468.8 954.8h.01M1223.5 972.4h.01M1310.6 781.9h.01M1186.1 1200.3h.01M1224.9 891.6h.01M1148.1 1062.2h.01M1122.8 1066.9h.01M1230 897.2h.01M1406.4 971.6h.01M1338.9 1147h.01"/>
<path stroke-width="14" stroke-opacity="0.2" d="M1417.8 931.6h.01M1356.8 1144.8h.01M1262.4 1213h.01M1186.1 1200.3h.01M1348.7 1214h.01M1153.2 1107.8h.01M1228.7 797.3h.01M1208.2 925.8h.01M1158.6 893h.01M1216.8 1086.2h.01"/>
<path stroke-width="14" stroke-opacity="0.4" d="M1224.9 891.6h.01M1204.2 958.7h.01M1141.4 984.5h.01M1265.5 1202.2h.01"/>
<path stroke-width="15" stroke-opacity="0.2" d="M1438.5 1154.2h.01M1156.5 923.4h.01M1445.3 919.7h.01M1138.1 1028.3h.01M1235.6 831.4h.01M1221.5 865.3h.01M1110.6 1004h.01M1179.6 879.3h.01"/>
<path stroke-width="15" stroke-opacity="0.4" d="M1382 857.2h.01M1130.1 1036.1h.01M1223.5 972.4h.01M1275.3 928.2h.01M1208.7 877.9h.01M1141.7 1028.2h.01"/>
<path stroke-width="16" stroke-opacity="0.2" d="M1254 926.1h.01M1385 1009.8h.01M1390.6 1197.3h.01M1415.6 1131.2h.01M1280.1 832.5h.01"/>
<path stroke-width="16" stroke-opacity="0.4" d="M1101.5 877.5h.01M1077.5 1081.8h.01M1198.2 911.6h.01M1152 1037.5h.01M1195.3 937.8h.01M1357.5 907.9h.01"/>
<path stroke-width="17" stroke-opacity="0.2" d="M1126.7 904.8h.01M1071.6 1009.6h.01M1380.2 1099h.01"/>
<path stroke-width="17" stroke-opacity="0.4" d="M1386.3 920.6h.01M1242.1 966.4h.01M1269.4 910.8h.01M1226.8 1147.9h.01M1229.2 1027.5h.01M1107.7 886.1h.01M1280.1 832.5h.01M1201.3 993.5h.01M1382 857.2h.01"/>
<path stroke-width="18" stroke-opacity="0.2" d="M1239 813h.01M1200 1042.6h.01M1461.2 942.1h.01"/>
<path stroke-width="18" stroke-opacity="0.4" d="M1228.2 925h.01M1249.5 809.6h.01M1471.2 1115.8h.01M1269.4 910.8h.01M1342.1 1058.3h.01M1323.1 780.5h.01"/>
<path stroke-width="19" stroke-opacity="0.2" d="M1226.8 1147.9h.01M1372.3 911.6h.01M1128.6 1113.4h.01M1398.7 806.7h.01M1279.2 944.2h.01M1359.4 1213.6h.01M1064.5 1043.7h.01"/>
<path stroke-width="19" stroke-opacity="0.4" d="M1202.2 1191.6h.01M1341.9 879h.01M1258.5 797.7h.01M1139.2 878.4h.01M1174 1122.2h.01M1238.7 811.7h.01M1338.1 1144.9h.01M1386.4 824.9h.01M1229.2 1027.5h.01"/>
<path stroke-width="20" stroke-opacity="0.2" d="M1098.9 934.9h.01M1214.6 890.7h.01M1148 850.7h.01"/>
<path stroke-width="20" stroke-opacity="0.4" d="M1112.9 902.4h.01"/>
<path stroke-width="21" stroke-opacity="0.2" d="M1372.3 911.6h.01M1405.4 885h.01M1333.1 965.3h.01"/>
<path stroke-width="21" stroke-opacity="0.4" d="M1148.6 1071.2h.01M1206.1 857.5h.01M1147.4 1031.8h.01M1148.8 1006.2h.01M1385.8 982.2h.01M1101.5 877.5h.01"/>
<path stroke-width="22" stroke-opacity="0.2" d="M1466.1 879.5h.01"/>
<path stroke-width="22" stroke-opacity="0.4" d="M1283.6 954.5h.01"/>
<path stroke-width="23" stroke-opacity="0.2" d="M1242.1 966.4h.01"/>
<path stroke-width="23" stroke-opacity="0.4" d="M1201.3 993.5h.01M1393.2 1037.2h.01M1342.1 1058.3h.01M1333.2 958.3h.01"/>
<path stroke-width="24" stroke-opacity="0.4" d="M1394.8 938.6h.01"/>
<path stroke-width="26" stroke-opacity="0.4" d="M1283.6 954.5h.01"/>
<path stroke-width="29" stroke-opacity="0.4" d="M1439.4 1155.6h.01"/>
</g>
<g fill="none" stroke="#3e3a6c" stroke-linecap="round">
<path stroke-width="1" stroke-opacity="0.4" d="M1344.6 985.9h.01M1445 857.8h.01M1438.8 1077.5h.01M1160.3 814.4h.01M1081.7 965.6h.01M1150.6 865.4h.01M1107.5 1099.9h.01M1497.7 1057.1h.01M1239.2 809.6h.01"/>
<path stroke-width="2" stroke-opacity="0.4" d="M1333.9 1206.5h.01M1312.6 821.4h.01M1232.8 845.2h.01M1201.4 878.5h.01M1400.2 992.2h.01M1289.3 938.9h.01M1133.5 994.3h.01M1143.3 984.5h.01M1179.5 969h.01M1149.5 1046.9h.01M1401.5 1037.3h.01M1108 1033h.01M1377.6 1106.9h.01M1172.5 885.5h.01M1215.6 1112h.01M1294.7 1166.5h.01M1269.1 989h.01M1277 809.8h.01M1398.4 963.2h.01M1271.8 825h.01M1205.9 949.6h.01M1292.4 1021.3h.01M1180.1 904.1h.01M1395.4 1147.6h.01M1239.2 1071h.01M1334.8 1099.4h.01M1404.3 1020.1h.01M1383.2 1156.5h.01M1294.9 855.3h.01M1303.9 1216.8h.01M1272.8 1129.2h.01M1064.3 1001.6h.01M1439.4 942.2h.01M1137.8 934.2h.01M1192.4 937.9h.01M1494.6 936h.01M1121.9 843.9h.01M1386.1 1165.5h.01M1223.1 1015.1h.01M1349.9 1107.2h.01M1369.6 958.4h.01M1268.6 1207.8h.01M1349.3 1207.9h.01M1109.8 1127h.01M1421 831.7h.01M1154 1174.9h.01M1125.5 929.8h.01M1218.8 992.8h.01M1151.6 976.8h.01M1461.5 988h.01M1253 1060.3h.01M1108.3 1098.2h.01M1358.9 1152.9h.01M1510.7 1020.8h.01M1217.1 1168.8h.01M1271.3 956.2h.01M1265 1219.4h.01M1423.7 858.3h.01M1167.1 809.4h.01M1101.9 905.3h.01M1347.3 1212.8h.01M1407.6 1090h.01M1278.9 1201.6h.01M1128.1 959.1h.01M1201.2 1088.9h.01M1236 897.9h.01M1262.2 1023.5h.01M1349 1144.7h.01M1415 1169h.01M1295.3 1012.1h.01M1163.2 824.3h.01M1215.1 883.8h.01M1486.2 951.4h.01M1232 946h.01M1081.8 988.1h.01M1386 962.4h.01M1194.2 820.7h.01M1296.7 1133.3h.01M1163.8 1132.8h.01M1123.6 845.4h.01M1441.7 1098.9h.01M1370.8 1107.4h.01"/>
<path stroke-width="3" stroke-opacity="0.4" d="M1100.3 964.4h.01M1255.3 954.1h.01M1373.3 908.1h.01M1316.4 789.5h.01M1315.4 842h.01M1282.7 949.3h.01M1245.9 1135.6h.01M1152.9 819.6h.01M1419.9 1026.8h.01M1230.7 1068.9h.01M1259.9 1153.7h.01M1444 1137.4h.01M1473.9 936.4h.01M1252.6 1133.7h.01M1479.8 1067.1h.01M1337 1184.6h.01M1381.1 1077.1h.01M1125.8 884h.01M1294 853h.01M1339.6 896.9h.01M1311.6 1014.7h.01M1393 905.7h.01M1289.4 930.8h.01M1309.9 958.9h.01M1332 1179.3h.01M1106.6 1109.5h.01M1128.4 1011.7h.01M1234.1 1151.7h.01M1367.6 1062.3h.01"/>
</g>
<g filter="url(#bS11)" fill="none" stroke="#3e3a6c" stroke-linecap="round">
<path stroke-width="5" stroke-opacity="0.6" d="M1146.2 1075h.01M1262.3 864.9h.01M1254.1 1192.3h.01M1133.3 901.2h.01M1178.7 1196.7h.01M1294.6 1169.5h.01M1092.1 1080.2h.01M1098.6 1074.2h.01M1202.8 856h.01M1165.3 1162.3h.01M1208.2 967.8h.01M1179.5 1158.4h.01M1390.2 925.6h.01M1095.6 1075.9h.01M1167.5 1043.5h.01M1404.4 1031.6h.01M1271.2 1075.3h.01"/>
<path stroke-width="5" stroke-opacity="0.8" d="M1269.9 1208.6h.01M1384.1 1004.8h.01M1136.7 1041.7h.01M1106 1115h.01M1396.4 939.6h.01M1125.7 1025.1h.01M1130.5 1029.1h.01M1162.1 818h.01M1242.6 865.5h.01M1392 903.6h.01M1265.2 985.9h.01M1285.5 996h.01M1161.1 1173.9h.01M1481.7 1098.7h.01M1346.4 1076.8h.01M1254.5 1104h.01M1484.6 917.6h.01M1431.7 1031.3h.01M1184.5 1053h.01M1237.5 1080.6h.01M1201.9 1038.8h.01"/>
<path stroke-width="5" d="M1421.3 1160.6h.01M1187.3 952.7h.01M1402.5 1109h.01M1387.3 1007.6h.01M1131.7 937.1h.01M1319.9 1193.6h.01"/>
<path stroke-width="6" stroke-opacity="0.6" d="M1339.7 922h.01M1195 965.5h.01M1481.4 1036h.01M1208.4 889.1h.01M1241.8 902.1h.01M1148.1 1062.2h.01M1083.3 1052.2h.01M1163.5 986.9h.01M1153.2 1107.8h.01M1400.5 970.9h.01M1417.8 931.6h.01M1068.3 959.9h.01M1401.6 842.9h.01M1248.3 1009.8h.01M1251.3 994.5h.01M1356.8 1144.8h.01M1292.9 1125.9h.01M1141.4 984.5h.01M1306.7 1155h.01M1462.8 1052.3h.01M1245.5 912.3h.01M1204.2 1155.4h.01M1275.9 900.9h.01M1369.8 1209.8h.01"/>
<path stroke-width="6" stroke-opacity="0.8" d="M1261.7 1200.9h.01M1489.9 962h.01M1183.7 960.7h.01M1256 1203.6h.01M1128.8 1023.9h.01M1370 810.4h.01M1168.1 1044.9h.01M1310.6 781.9h.01M1211.6 960.7h.01M1395.8 935.6h.01M1254.7 811.8h.01M1275.5 1151.7h.01M1147.8 1051h.01M1093.1 937.4h.01M1471.8 893.1h.01M1366.5 1210.2h.01M1386.1 799.3h.01M1311.5 778h.01M1216.8 1086.2h.01M1438.5 1154.2h.01M1177.6 1092.5h.01M1490.5 919.9h.01M1194.9 1199.5h.01M1218.9 882.6h.01M1392.6 1026.4h.01M1309.9 795.6h.01M1428.8 994.9h.01M1386.4 918.1h.01M1193.7 975.6h.01M1450.8 1135.9h.01M1375.1 1013h.01M1376.3 1191.1h.01"/>
<path stroke-width="6" d="M1345.9 1146.5h.01M1303.4 1088.3h.01M1373.4 1000.5h.01M1217 1072.9h.01M1383.4 803.7h.01M1468.8 954.8h.01M1140.8 828.1h.01M1136.5 1039h.01M1262.4 1213h.01M1077.7 998.8h.01M1186.1 1200.3h.01M1223.3 812h.01M1402 1108.6h.01M1344.2 950h.01M1326.4 1211.2h.01M1136 850.7h.01M1233.9 813.2h.01M1258.8 1199.2h.01"/>
<path stroke-width="7" stroke-opacity="0.6" d="M1252.4 1198.6h.01M1299.7 1087.6h.01M1348.7 1214h.01M1195.3 937.8h.01M1126.4 1069.2h.01M1100.7 968.6h.01M1158.3 824.4h.01M1338.9 1147h.01M1130.2 952.4h.01M1405.8 903.6h.01M1367.8 920.4h.01M1207.6 971.9h.01M1463.6 983.5h.01M1098.3 1054.8h.01M1455.5 862.5h.01M1223.5 972.4h.01M1357.5 907.9h.01M1246.8 927.2h.01M1235.6 831.4h.01M1221.5 865.3h.01M1333.3 867.1h.01M1210.6 997.3h.01M1445.5 1032.2h.01M1386.3 920.6h.01M1210.8 848.6h.01M1202.8 926.3h.01M1395.4 998.3h.01M1179.8 1127.7h.01M1103.9 1054.8h.01M1445.3 919.7h.01M1202.3 1105.9h.01M1355.5 939.2h.01M1444.5 1002.3h.01"/>
<path stroke-width="7" stroke-opacity="0.8" d="M1144.3 1070.6h.01M1195.3 936.5h.01M1160.7 823.9h.01M1375.8 1005.2h.01M1415.6 1131.2h.01M1370 1185.5h.01M1420.6 1094.6h.01M1266.6 814.9h.01M1460.4 978.3h.01M1446.4 925.6h.01M1406.4 971.6h.01M1224.9 891.6h.01M1207.1 1188.2h.01M1071.6 1009.6h.01M1239.2 1029.2h.01M1149.5 1118h.01M1210.9 888.1h.01M1445.6 881.4h.01M1255.5 1091.9h.01M1179.6 879.3h.01M1179 818.8h.01M1178.7 819.6h.01M1502.4 1041.2h.01M1367.7 986.5h.01M1158.6 893h.01M1340.9 791.9h.01M1218.2 861.7h.01M1152 1037.5h.01M1289.9 784.6h.01M1317.5 1191.8h.01M1168.9 1041.7h.01M1434.1 1083h.01M1491.8 924.4h.01"/>
<path stroke-width="7" d="M1310.8 1084.4h.01M1210.2 977.8h.01M1385 1009.8h.01M1363.7 923.5h.01M1292.8 1017.8h.01M1132.4 1044.5h.01M1259.4 809.6h.01M1365 918.8h.01M1237.4 894.7h.01M1334.8 855.3h.01M1341.3 856.6h.01M1265.5 1202.2h.01"/>
<path stroke-width="8" stroke-opacity="0.6" d="M1260.2 1204.5h.01M1202.9 934.4h.01M1283.4 1046.7h.01M1198.9 971.5h.01M1238.6 815.4h.01M1435 922.7h.01M1212.1 945.4h.01M1150.5 857.2h.01M1420.2 1129.4h.01M1347.9 953.4h.01M1264.4 1038.1h.01M1240.9 1134.8h.01M1413.9 1170.4h.01M1279.3 1164.4h.01M1091.8 921.7h.01M1110.6 1004h.01M1291.3 1064.1h.01M1204.2 958.7h.01M1191.4 826.6h.01M1391.3 946.7h.01M1162.3 892.6h.01M1339.2 1148h.01M1317.5 1076.1h.01M1122.8 1066.9h.01M1280.1 832.5h.01M1367.4 1124.9h.01M1450.8 1102.4h.01M1337.8 811.5h.01M1193.3 927.4h.01M1487.9 904.6h.01M1327.6 1033.7h.01M1293.2 887.5h.01M1074.9 1040.7h.01M1382 857.2h.01M1096.9 902.3h.01"/>
<path stroke-width="8" stroke-opacity="0.8" d="M1171.7 971.1h.01M1497.9 955.2h.01M1151.9 1064.6h.01M1307.1 784.5h.01M1254 926.1h.01M1408.5 1188.1h.01M1281.7 812.9h.01M1263.2 919.6h.01M1275.3 928.2h.01M1156.5 1108.4h.01M1230 897.2h.01M1301.3 1010h.01M1152.8 1000.5h.01M1141.7 1028.2h.01M1120.1 943.1h.01M1208.7 877.9h.01M1461.2 942.1h.01M1416.3 857.2h.01M1332.1 1131.3h.01M1267.5 888.5h.01M1239 813h.01M1417.5 1013h.01M1156.5 923.4h.01M1455.5 1014.3h.01M1375.2 980.8h.01M1088 1077.3h.01M1155.6 872.9h.01M1393.2 952.5h.01M1183.8 962.7h.01M1125.1 1141.5h.01M1098.6 1117.8h.01"/>
<path stroke-width="8" d="M1141.7 1070.8h.01M1459 939.3h.01M1301.1 861.3h.01M1194.4 862.4h.01M1291.2 946.2h.01M1228.2 925h.01M1107.7 886.1h.01M1430.7 917.1h.01M1228.7 797.3h.01M1130 1027.1h.01M1390.9 1051.2h.01M1218.6 952.9h.01M1393.5 1110h.01M1467.7 996.7h.01M1226.8 1147.9h.01M1334.7 1211.6h.01M1248 808h.01"/>
<path stroke-width="9" stroke-opacity="0.6" d="M1065.7 954.2h.01M1357.2 788.3h.01M1207.2 1189.7h.01M1427.1 943.9h.01M1198.2 911.6h.01M1489.7 962.4h.01M1135 898.4h.01M1125 849.4h.01M1504.3 954.4h.01M1427.4 1128.5h.01M1182.4 855.5h.01M1396.2 910.8h.01M1097.5 970.2h.01M1207.6 861.3h.01M1436.7 1054.1h.01M1177.6 1192.5h.01M1470.2 988.1h.01M1262.2 1137.1h.01M1359.4 1213.6h.01M1152.9 884.6h.01M1422.8 1137.7h.01M1204.5 1108.1h.01M1252.9 1200.8h.01M1183.6 834.8h.01M1208.2 925.8h.01M1253.2 857.4h.01M1138.1 1028.3h.01M1144.2 911.6h.01M1064.5 1043.7h.01M1139.2 878.4h.01M1360.8 983.2h.01M1280.2 830.5h.01M1258.5 797.7h.01M1390.5 997.2h.01M1432.9 1160h.01M1445.1 1088.1h.01M1356.2 919.8h.01M1207.8 931.8h.01M1319.8 1048.7h.01M1252.5 1100.4h.01M1087.2 1081h.01M1229.2 1027.5h.01M1151.4 1055.6h.01"/>
<path stroke-width="9" stroke-opacity="0.8" d="M1148.6 1071.2h.01M1124.6 857.6h.01M1336.2 1099.3h.01M1244.5 1130.9h.01M1432.7 1074.4h.01M1251.6 854.8h.01M1148 850.7h.01M1366 1149.8h.01M1159 1189.2h.01M1130.1 1036.1h.01M1374.2 1098.2h.01M1360.9 996.7h.01M1424 1103.3h.01M1200.8 922.3h.01M1333.5 1217.4h.01M1238.7 811.7h.01M1269.4 910.8h.01M1227.5 824.7h.01M1444 1070h.01M1135.2 929.7h.01M1320.5 891.7h.01M1165.3 902.1h.01M1437.9 845.6h.01M1312.1 786.2h.01M1265.4 961.7h.01M1137.8 1026.1h.01M1326 786h.01M1096.9 1077.7h.01M1345 879.4h.01M1239.3 1049.7h.01M1380.2 1099h.01M1471.2 1115.8h.01M1341.9 879h.01M1382.8 862.7h.01M1323.1 780.5h.01M1077.5 1081.8h.01M1128.6 1113.4h.01M1333.1 965.3h.01"/>
<path stroke-width="9" d="M1080.4 1050.6h.01M1390.3 993.7h.01M1395.4 946.4h.01M1211.7 892.8h.01M1390.6 1197.3h.01M1161 974.6h.01M1086.5 957.2h.01M1112.9 902.4h.01M1328.5 778.2h.01M1152.6 1088.9h.01M1202.3 1209.8h.01M1101.5 877.5h.01M1285.3 833.6h.01M1409 1036.3h.01M1380.1 1072.7h.01M1356.6 1176.6h.01M1502 974.2h.01M1447.7 1077.3h.01M1181.8 884.1h.01M1405.4 885h.01M1395.7 843.5h.01M1372.3 911.6h.01M1126.7 904.8h.01"/>
<path stroke-width="10" stroke-opacity="0.6" d="M1212 925.1h.01M1152.7 1119.1h.01M1249.5 809.6h.01M1147.4 1031.8h.01M1489.4 1091.9h.01M1237.9 815.2h.01M1382.7 920.7h.01M1303 1085.5h.01M1109 892.4h.01M1282.6 782.5h.01M1073.7 928.9h.01M1173.4 1154.7h.01M1174 1122.2h.01M1214.6 890.7h.01M1342.1 1058.3h.01M1333.2 958.3h.01M1114.6 1039.9h.01M1340.3 801.6h.01M1114.4 972h.01M1266.4 1081.8h.01M1414 879.5h.01M1206.1 857.5h.01M1201.3 993.5h.01M1398.6 934.6h.01M1161.9 959.7h.01"/>
<path stroke-width="10" stroke-opacity="0.8" d="M1131.4 1082.2h.01M1338.1 1144.9h.01M1263.1 1200.7h.01M1493.4 943.6h.01M1425.7 1096.5h.01M1150.9 829.6h.01M1345.1 797.1h.01M1393.2 1037.2h.01M1394 1139.3h.01M1398.7 806.7h.01M1192.6 1051.2h.01M1431.6 1152.6h.01M1386.4 824.9h.01M1098.9 934.9h.01M1457.6 923.5h.01M1394.8 938.6h.01M1262.2 1225.4h.01M1274.5 1135.5h.01M1398.9 1028.7h.01M1200 1042.6h.01M1208.4 891h.01M1279.2 944.2h.01M1232.5 1075.4h.01M1167.2 823.2h.01M1466.1 879.5h.01M1280.4 1163.6h.01M1474.2 1094.3h.01M1114.3 1072h.01M1141.7 1008.2h.01M1492.6 974.2h.01"/>
<path stroke-width="10" d="M1138.8 1066.6h.01M1419.9 1044.5h.01M1103.8 867.8h.01M1452.2 931.3h.01M1211 927.8h.01M1064 1040.1h.01M1377.5 880.4h.01M1404.6 838.5h.01M1242.1 966.4h.01M1202.2 1191.6h.01M1381 1040.5h.01M1485.3 927.3h.01"/>
<path stroke-width="11" stroke-opacity="0.8" d="M1350.2 1213h.01M1261.4 1171.8h.01M1283.6 954.5h.01M1195.3 960.3h.01M1490 957.8h.01M1385.8 982.2h.01"/>
<path stroke-width="11" d="M1313.6 938.2h.01"/>
<path stroke-width="12" stroke-opacity="0.6" d="M1316 801.9h.01M1372.6 999.1h.01"/>
<path stroke-width="12" stroke-opacity="0.8" d="M1417.8 949h.01M1270.5 1181.4h.01M1267.8 1153.9h.01"/>
<path stroke-width="13" stroke-opacity="0.6" d="M1341.5 846.4h.01M1148.8 1006.2h.01M1378.1 909.9h.01M1417.8 831.3h.01"/>
<path stroke-width="13" stroke-opacity="0.8" d="M1249.5 1214h.01M1146.5 1038.1h.01"/>
<path stroke-width="13" d="M1439.4 1155.6h.01M1300.1 935.6h.01"/>
</g>
<rect x="1056.3" y="772.3" width="458" height="458" filter="url(#grain)" opacity="0.14"/>
<rect x="1056.3" y="772.3" width="458" height="458" filter="url(#grainw)" opacity="0.12"/>
<circle cx="1285.3" cy="1001.3" r="228.5" fill="none" stroke="#5f5f70" stroke-width="2" stroke-opacity="0.6" filter="url(#bR)"/>
</g>
<g clip-path="url(#pc3)">
<circle cx="1768.3" cy="1000.5" r="228.7" fill="url(#pg3)"/>
<g filter="url(#bL)" fill="none" stroke="#484670" stroke-linecap="round">
<path stroke-width="7" stroke-opacity="0.2" d="M1715.1 1119.9v6M1605.4 1122.2v6M1668.9 1114.4v6M1619.7 865.4v6M1897 1063.9v6"/>
<path stroke-width="7" stroke-opacity="0.4" d="M1866.9 849.1v6M1730.1 877.9v6M1867.4 1024.4v6M1606.8 943.7v6M1973.9 1069.1v6M1910.2 936.2v6M1885.3 886.8v6M1903.8 1147.5v6M1891.7 909.1v6M1824.4 1065.9v6M1895.2 1055.1v6M1830.6 1187.3v6M1910.5 1002.4v6M1884.4 1052v6M1854.1 871.9v6M1910.5 820.9v6M1581.5 961.8v6M1694.9 1013.7v6M1696.3 1007.6v6M1850.5 1050.4v6M1831.7 832.1v6M1857.9 796.3v6M1813.4 1058.5v6M1696.3 1084.3v6M1772.9 794.3v6M1686.4 1172.2v6M1910.6 832.8v6M1675.7 940.8v6M1640.2 809.1v6M1684.5 807.5v6M1763.1 961.1v6M1688.6 970.1v6M1665.6 963.3v6M1746.4 979.7v6M1774.4 870v6M1824.4 847.9v6M1688 778.7v6M1671.1 998.8v6M1620.8 1037.4v6M1905.8 1006.9v6M1804.5 973.6v6M1777.9 777.9v6M1628.8 955.3v6M1875.9 1152.3v6M1754.7 1099.7v6M1561.4 908.5v6"/>
<path stroke-width="7" stroke-opacity="0.6" d="M1761.5 784.8v6M1890.6 983.7v6M1939 1022.7v6M1911.9 1135.8v6M1835.6 886.6v6M1711.1 1087.8v6M1771.1 1037.7v6M1655 1023v6M1666.5 944.3v6M1765.2 962.6v6M1704.5 1126.4v6M1589.6 855.7v6M1842.4 1108.6v6M1678.4 953.3v6M1687.2 1188v6M1761 784.3v6M1708.4 941.8v6M1755.9 1039v6M1934.9 1120.8v6M1945.8 950.9v6M1819.2 1122.6v6M1690.3 1185.2v6M1577.6 980.1v6M1618.3 1037v6M1695.7 1007.6v6M1783.7 845.7v6M1635.6 856.1v6M1858 1006.3v6M1601.8 911.7v6"/>
<path stroke-width="8" stroke-opacity="0.2" d="M1854 790.6v6M1632.5 907.3v6M1896.3 1182.9v6M1878.2 1101.6v6M1710.8 1195.6v6M1695.2 1055v6M1665.4 829v6"/>
<path stroke-width="8" stroke-opacity="0.4" d="M1786.8 785.8v6M1691.6 836.6v6M1855.3 902.9v6M1894.5 958v6M1810.9 919.1v6M1673.3 901.4v6M1595.7 938.3v6M1700.6 930.4v6M1934.5 1103v6M1938.2 884.2v6M1899.4 1006.2v6M1669.8 795.6v6M1866.5 837.7v6M1610.4 863.1v6M1900.2 996.9v6M1789.3 916.7v6M1690.5 1033.4v6M1806.8 1169.1v6M1766.5 916.7v6M1863.7 847.3v6M1671.6 970.6v6M1939.9 1017.4v6M1790.9 847.4v6M1756.7 895.3v6M1917.5 1004.4v6M1878.4 865.2v6M1864.7 963.8v6M1609.6 856.9v6M1583.6 883.4v6M1669.5 826.6v6M1776.3 957.7v6M1703.3 934.1v6M1757 1041.4v6M1978.2 989.5v6M1767.6 902.6v6M1810.3 924.8v6M1837.8 903.9v6M1897.3 1160.8v6M1679 1163v6M1937.4 1063.3v6M1862.5 1140.9v6M1860.5 887.2v6M1840.1 779.3v6M1899.7 1166.9v6M1622.8 1034.3v6M1929.8 1095.7v6M1605.2 840.2v6M1589 859v6M1555 1052v6M1971.9 1037.7v6M1791.5 1138.6v6M1813.6 1006.5v6M1831.4 1101.6v6M1894.8 995v6M1889.8 890.9v6M1615.1 1099.5v6M1782.2 1131.5v6M1592.3 855.2v6M1579.1 1028.9v6M1982.1 956.6v6M1670.8 998.4v6M1587.4 1056.6v6M1802.7 980.9v6M1874.6 1154.9v6M1710.8 796.8v6M1847.6 964.6v6M1896.2 903.3v6M1881.2 990.6v6M1944.7 1014.7v6M1675.3 957.8v6M1701 882v6M1817.3 855.9v6M1875.8 821.1v6M1672.7 839.1v6M1690.9 845.2v6M1946.4 1019.8v6M1601.2 1072.6v6M1856.8 1119.8v6M1607 993.4v6M1826.1 957.2v6M1916.1 1021.2v6M1807.3 818.7v6M1728.4 1118.9v6M1916.9 1075v6M1694.7 984.7v6M1938.2 879.9v6"/>
<path stroke-width="8" stroke-opacity="0.6" d="M1632.5 813.3v6M1813.7 1192.2v6M1624.5 1011.4v6M1865.1 985.2v6M1667 1042.6v6M1864.8 1062.9v6M1796.6 1097.3v6M1645.9 1088.6v6M1783.1 899.6v6M1823.4 793v6M1808.9 1168v6M1981.6 1047v6M1651.1 1108.7v6M1751.2 774.1v6M1595.4 944.2v6M1779.2 1091.4v6M1860 1007.2v6M1853.2 1022.7v6M1950.9 892.1v6M1851.6 1145.6v6M1670.5 946.4v6M1765.3 781.9v6M1815.1 1179.6v6M1926.5 866.5v6M1850.3 1056.1v6M1902.7 999.6v6M1769.7 811.7v6M1772.2 813.3v6M1660.6 921v6M1929.7 1029v6M1983.8 1026.2v6M1924.3 858.5v6M1710.7 989.8v6M1887.4 960.7v6M1641.4 1006.1v6M1614.9 842.4v6M1984 1026.4v6M1733.2 896.1v6M1797.4 1106v6M1791.4 944.9v6M1613 947v6"/>
<path stroke-width="9" stroke-opacity="0.2" d="M1690.8 1113.7v6M1786.6 835.8v6M1654.9 992.3v6M1655.5 960.3v6M1855.3 872.1v6M1633.3 1091.6v6"/>
<path stroke-width="9" stroke-opacity="0.4" d="M1604.8 988.2v6M1667 1173v6M1842.4 984v6M1721.7 929.9v6M1870.7 943.1v6M1964.9 1070.1v6M1846.6 957.7v6M1593.8 990.6v6M1863.1 904.3v6M1922.1 1042.3v6M1900.3 994.7v6M1814.5 1058.6v6M1698.2 1122.7v6M1862.1 885.9v6M1903.6 885.2v6M1739.7 772.1v6M1733 919.4v6M1804.6 1027.2v6M1835.4 1002.3v6M1781.5 813.7v6M1548.2 1018.6v6M1849.8 777.8v6M1816.3 1184.3v6M1759.4 1042.3v6M1901.9 1055.9v6M1713.7 1002.8v6M1854.4 777.8v6M1921.7 987.7v6M1963.2 989.3v6M1691.5 1002.7v6M1905.8 1136.9v6M1898.5 923.3v6M1910.4 1135.4v6M1593.2 888.8v6M1676.1 1046.1v6M1905.5 1056.1v6M1685.5 1025.1v6M1760.4 1175.1v6M1873.9 1022.4v6M1618 994.7v6M1814 941.2v6M1699.8 1037.2v6M1743.6 898v6M1916.1 1068.4v6M1571.8 928.9v6M1623.9 822.4v6M1699 840v6M1895.1 971.7v6M1900.1 1137.2v6M1604.2 964.5v6M1727.7 900.9v6M1797.8 828.9v6M1850.6 1141.1v6M1859.9 1025.9v6M1903.7 892.1v6M1762.7 782.3v6M1680.4 1125.2v6M1696.1 1162.7v6M1773.9 934.8v6M1604 943.9v6M1914.4 859.2v6M1628.9 915.9v6M1847.1 912.6v6M1604.4 1124.3v6M1662.1 929.4v6M1758 1043.2v6M1612.3 1126.2v6M1677.1 860.9v6M1617.2 1113.2v6M1778.1 782.9v6M1798.8 1119.5v6M1755.9 1041.3v6M1901.3 985.2v6M1664.9 831.6v6M1610 939v6M1650.4 1021.8v6M1574.5 965.7v6M1592.6 992.1v6M1735.8 1189.8v6M1896.1 1136.8v6"/>
<path stroke-width="9" stroke-opacity="0.6" d="M1846.8 1138.8v6M1917.9 845.9v6M1681 1118.9v6M1913.7 819.9v6M1771.9 1061.1v6M1790.6 836.7v6M1596.7 1074.8v6M1869.9 844.2v6M1976.8 1003.5v6M1858.5 931.1v6M1726.4 1081.2v6M1695 1171v6M1818.2 901.9v6M1795.1 986.5v6M1570.7 901.3v6M1632.2 1030.4v6M1781.8 1057.8v6M1961.3 1060v6M1912.3 974.6v6M1845.8 1074.8v6M1621.4 950.2v6M1817.7 1142.3v6M1706.5 813.2v6M1770.5 779.1v6M1845 856.9v6M1775.5 865v6M1859.6 1127v6M1938.1 929.1v6M1630 1110v6M1768.5 1057.5v6M1867.4 1083.6v6M1944.7 944v6M1867.2 962v6M1608.5 928.8v6M1815.3 1027.1v6M1924.6 909.2v6M1556.8 1001.4v6M1841.2 811.8v6M1824 1150.6v6M1595.7 872.5v6M1630.4 1015.2v6M1591.1 917.6v6M1759 1131.4v6M1656.2 957.3v6M1923.6 897.9v6M1911.7 1112.9v6M1888.3 1023.2v6"/>
<path stroke-width="10" stroke-opacity="0.2" d="M1788.9 896.9v6M1738.2 840.8v6M1944.5 946.6v6M1911.5 999.5v6M1747.7 918.9v6M1894.6 878.7v6M1611 990v6M1903.6 1054.2v6M1880.3 1002.2v6"/>
<path stroke-width="10" stroke-opacity="0.4" d="M1646.2 795.5v6M1676.9 924.7v6M1658.7 1115.1v6M1909 1028.5v6M1682.1 885.3v6M1879.3 1069.4v6M1788.8 914.4v6M1675.3 898.3v6M1736 1021.1v6M1983 958.2v6M1838.8 1130.6v6M1880 1176.4v6M1691.4 1082.5v6M1756.8 994.1v6M1804 814.4v6M1568.5 911.5v6M1777.9 1025v6M1737.5 776.9v6M1580 1071.4v6M1847.8 1055.2v6M1816.1 887.1v6M1906.3 1091.5v6M1553.8 943.2v6M1779 1123.4v6M1779.5 1057.2v6M1769.5 974.6v6M1903.5 890.7v6M1911.3 843.9v6M1836.6 960v6M1644.7 1111.1v6M1660.6 931.2v6M1883.4 790.4v6M1571.4 984.7v6M1805.5 1190.1v6M1691.9 1026.9v6M1803.2 1127.9v6M1635.6 832.1v6M1834.8 782.2v6M1839.3 776.9v6M1843.8 1124.9v6M1700.9 1178.1v6M1748.6 1113.6v6M1770.5 1069.3v6M1869.1 946.8v6M1751.5 1148.5v6M1964.3 984.2v6M1813 1185.5v6M1611.5 1069.6v6M1675.4 946.4v6M1669.4 792.4v6M1982.6 989.3v6M1703.3 815.9v6M1627.8 1013.1v6M1792.5 920.2v6M1578.3 983v6M1869.7 1175.2v6M1723.7 1213.5v6M1822.3 906.1v6M1710.8 1041.5v6M1705.6 1179.8v6M1858.6 991.8v6M1834.6 938.4v6M1876.6 1141.8v6M1745 862.1v6M1761.4 1115.8v6M1888 1020.3v6M1784.4 1094v6M1926.2 880.8v6M1762.3 1112.3v6M1960.2 921.5v6M1596.3 1062.8v6M1846.1 899.2v6M1673.4 869.5v6M1690.6 1033.9v6"/>
<path stroke-width="10" stroke-opacity="0.6" d="M1725.5 1126v6M1887.8 911.2v6M1842.5 1073.9v6M1613.7 1064v6M1896.3 1138.8v6M1754.8 904.9v6M1656.3 1039.5v6M1875.2 1113.2v6M1647.7 808v6M1898.6 1002.7v6M1676.9 883.9v6M1623.8 860.2v6M1701.7 1123v6M1671.9 948.3v6M1938.7 1024.6v6M1733.3 800.7v6M1819.8 887.6v6M1790.2 911v6M1763.1 882.7v6M1619 1130.5v6M1838 872.4v6M1644 803.4v6M1779.7 1020.3v6M1765.9 946.5v6M1772.8 1067.1v6M1711.8 1040.6v6M1906.6 838.9v6M1761.6 884.6v6M1596.8 1060.3v6M1923.2 843.8v6M1753.8 1147.4v6M1902.1 1058.9v6M1848.8 914v6M1602.8 1057.8v6M1912.8 1068.9v6M1759.6 769.2v6M1922.6 916.3v6M1591.2 920.7v6M1628.2 909.5v6"/>
<path stroke-width="11" stroke-opacity="0.2" d="M1547.1 1021.1v6M1725.1 1010.7v6M1641.6 863.9v6M1785.2 880.9v6M1942.8 957.1v6M1772.3 933.5v6M1782.5 1174.5v6M1769.3 1053.3v6M1832.5 778.3v6M1629.3 961.4v6"/>
<path stroke-width="11" stroke-opacity="0.4" d="M1699.5 1120.2v6M1935 910.4v6M1601.7 907.8v6M1682.8 1003.7v6M1936.6 881.3v6M1881.6 831.7v6M1672.3 1084.6v6M1776.3 829.8v6M1901.9 969.2v6M1847.2 1008.8v6M1797.3 830.5v6M1878.2 1074.3v6M1573 958v6M1788.5 1130.8v6M1633.2 1057.3v6M1888.5 837.2v6M1936.8 868.8v6M1686.3 1165.9v6M1698.1 844.7v6M1828.8 1077.8v6M1720.2 1082.5v6M1688.2 1040.9v6M1836.8 1073.6v6M1805.6 1184.8v6M1775.9 784.5v6M1591.7 1109.4v6M1789.3 1157.8v6M1899 1000.4v6M1776.3 799.5v6M1850.1 1025.9v6M1609.1 861.5v6M1952.8 876.1v6M1866.9 984.2v6M1687.6 780.3v6M1793.2 916v6M1903.5 1054v6M1700.4 1177.4v6M1742.5 899.2v6M1802.8 886.5v6M1763.2 1076.6v6M1885.3 1008.1v6M1777.2 1029.3v6M1804.7 796.1v6M1554.9 1056.1v6M1576.1 957v6M1914.7 1029v6M1656.5 1025.2v6M1677.2 860.9v6M1606.3 973.2v6M1633.9 847.9v6M1883.7 996.9v6M1849.1 1063.7v6M1780.1 1119.7v6M1635.2 1019v6M1674.3 960.9v6M1678.7 948.1v6M1935.9 887.8v6M1783 1088.4v6M1974.9 970.4v6M1597.2 1137.1v6M1763.9 1213.6v6M1760 1091v6M1907.7 1022.3v6M1790.8 947v6M1779.7 944.6v6M1878.4 820.3v6"/>
<path stroke-width="11" stroke-opacity="0.6" d="M1672.3 1131.3v6M1714.4 921.1v6M1943.7 1027.4v6M1715.3 1115v6M1975 967.7v6M1870.5 935.6v6M1615.6 998.5v6M1938.5 1035.9v6M1703 938.7v6M1600.4 1129.6v6M1843.1 987.5v6M1923.1 957.5v6M1772.6 811.6v6M1671.7 1130.3v6M1666.7 1009.9v6M1889.3 879.4v6M1628.3 1108.2v6M1767.8 920.1v6M1717.8 781.9v6M1904.8 1052.1v6M1881.2 796.6v6M1806 1188.1v6M1771.9 870.3v6M1924.7 892.8v6M1744.8 892.9v6M1696.7 1032v6M1692.3 1096.6v6M1674.1 880.3v6M1717.5 853.5v6M1825 924.9v6M1804.7 1186.4v6M1763.7 940.9v6M1919.5 960.3v6M1827.1 1182v6M1900.1 1168.1v6M1623.3 1127.2v6M1567.5 1021.9v6M1817.3 1030.3v6M1596.1 1059.5v6M1906.9 825.7v6M1937.4 1036.4v6M1883.5 819.1v6M1769.8 866.6v6M1933.8 1075.3v6M1720.4 1203.2v6M1675.2 948.6v6M1653.2 989.1v6M1671.8 1078.4v6M1868.3 963.4v6"/>
<path stroke-width="12" stroke-opacity="0.2" d="M1556.8 1005v6M1867.9 965.5v6M1876.7 1017.8v6M1840.7 1007.5v6M1788.1 1141v6M1889.1 831.1v6"/>
<path stroke-width="12" stroke-opacity="0.4" d="M1670 1135.8v6M1555.5 1052v6M1761.8 1133.3v6M1778.5 1186.6v6M1578.7 983.3v6M1603.4 854.9v6M1944.1 942.6v6M1747.2 782v6M1618.5 842.4v6M1907.3 838.3v6M1617.5 1039.9v6M1675.8 1106.9v6M1590.3 961.7v6M1700.8 1102.1v6M1798.6 1189.5v6M1802.2 1119.9v6M1799.5 1064.3v6M1903.7 827.7v6M1842.9 872.3v6M1604.4 1118.7v6M1978 992.9v6M1973.2 1074.6v6M1622.8 867.9v6M1786.8 925.9v6M1808.7 1121v6M1810.6 980.8v6M1819.5 858.4v6M1871.7 1065.3v6"/>
<path stroke-width="12" stroke-opacity="0.6" d="M1558 1071v6M1908.5 816v6M1697.3 1070v6M1816.3 1024.3v6M1744.5 828.2v6M1660.4 813.5v6M1766.1 923.8v6M1568.8 967.1v6M1756.4 1041.3v6M1702.5 817.8v6M1901.4 923.2v6M1768.5 1215.3v6M1613.9 910.4v6M1646.1 1024.1v6M1722 812.7v6M1699.8 1153.6v6M1770.5 851.8v6M1657.7 1015.6v6M1578.6 1040.2v6M1841.9 1007.7v6M1783.2 952.5v6M1676.6 880.5v6"/>
</g>
<g filter="url(#bB)">
<ellipse cx="1983.3" cy="930.5" rx="16" ry="60" fill="#3c3782" fill-opacity="0.55"/>
<ellipse cx="1618.3" cy="830.5" rx="50" ry="25" fill="#464287" fill-opacity="0.4"/>
<ellipse cx="1728.3" cy="1215.5" rx="70" ry="16" fill="#4b417d" fill-opacity="0.45"/>
<ellipse cx="1908.3" cy="1180.5" rx="40" ry="30" fill="#50427d" fill-opacity="0.4"/>
<ellipse cx="1558.3" cy="1060.5" rx="18" ry="60" fill="#464282" fill-opacity="0.35"/>
<ellipse cx="1828.3" cy="785.5" rx="60" ry="14" fill="#464287" fill-opacity="0.35"/>
</g>
<g filter="url(#bS11)" fill="none" stroke="#403c8a" stroke-linecap="round">
<path stroke-width="5" stroke-opacity="0.4" d="M1657.2 811.3h.01M1925.1 993.7h.01M1698.5 1131.5h.01M1790.3 908.6h.01M1977 1078.2h.01M1691.3 848.6h.01M1637.4 833.8h.01M1971.2 956.1h.01M1804.7 803h.01M1645.2 1150h.01M1744.5 837.1h.01M1895.7 888.5h.01M1841 1019.6h.01M1903 1013.4h.01M1672 1138.8h.01M1732.7 811.6h.01M1601.4 987.9h.01M1834 975h.01"/>
<path stroke-width="5" stroke-opacity="0.6" d="M1837.2 1016.7h.01M1694.9 1071.1h.01M1632.3 975.6h.01M1868.8 1098.3h.01M1632.5 1138.3h.01M1723.1 1087.2h.01M1738.5 861.8h.01M1861.4 938.5h.01M1742.2 878.3h.01M1820 779.6h.01M1736.8 788.2h.01M1889.4 1190.6h.01M1777.3 806.4h.01M1824.3 1217.2h.01M1640.1 1107.2h.01M1652.3 808.2h.01M1620.7 875.2h.01M1921.8 967.2h.01M1720 882.7h.01M1841.4 825h.01M1599 882.1h.01M1631.4 1029.2h.01M1902.5 873.1h.01M1932.3 1059.7h.01M1638.3 850h.01M1743.6 1212h.01M1628.5 972.7h.01M1873.9 1152.9h.01M1646.8 833.9h.01M1772.1 1071.9h.01M1892.1 1075.3h.01M1675.3 830h.01M1788.4 1164.4h.01M1650.5 1161.5h.01M1760.9 774.6h.01M1922.7 1014h.01M1822.6 902.3h.01M1635 1002.8h.01M1901 997.1h.01M1833.9 992.6h.01M1914.9 949h.01M1842.9 799.5h.01M1805.1 809.9h.01M1747.1 931.3h.01M1772.4 1138.6h.01M1665 1197h.01M1933.1 1090.1h.01M1576.6 1011h.01M1823.5 901.4h.01M1602.4 997.7h.01M1744.2 904.7h.01M1596.3 940.7h.01M1557.6 1059.8h.01M1583.1 928h.01M1981 1001.3h.01M1804.7 1144.2h.01M1958.8 961h.01M1632 1004.4h.01M1919.2 858.2h.01M1742.3 1077.6h.01M1603.1 1071.9h.01M1953.8 1090.7h.01M1880.9 849.6h.01M1680.8 823.1h.01M1812.3 1069.5h.01M1737.8 1107.4h.01M1737.3 1005.6h.01M1786.9 849.6h.01M1944.8 971.8h.01M1790.3 1150.4h.01"/>
<path stroke-width="5" stroke-opacity="0.8" d="M1585.4 983h.01M1600.3 1016.1h.01M1810.4 933.4h.01M1692.6 1016.7h.01M1741.8 875.1h.01M1856.3 815.3h.01M1905.2 1065.7h.01M1814 1172h.01M1572.9 971.1h.01M1595.2 855h.01M1561.5 928.4h.01M1964.2 997.2h.01M1802.1 1078.4h.01M1880.2 1116.7h.01M1662.8 1000.7h.01M1742 813.6h.01M1912.9 1024.8h.01M1787.6 1147.8h.01M1870.3 1180.3h.01M1647.6 971.9h.01M1645.5 934.1h.01M1804.5 983.8h.01M1738.8 813.5h.01M1780.4 891.4h.01M1620 954.3h.01M1924.4 865.6h.01M1683.4 981h.01M1897.2 1001.5h.01M1912.1 1077.5h.01M1860.1 1129.2h.01M1645 816.2h.01M1982 964.2h.01M1841.4 1196.4h.01M1667.2 966.2h.01M1773.1 782.2h.01M1701.6 1132.8h.01M1786.4 851.8h.01M1652 995.1h.01M1878 1125h.01M1967.9 1021.3h.01M1683.9 820.5h.01M1756.2 1085.5h.01M1786.1 1202.4h.01M1833.4 898.5h.01M1793.1 1199.3h.01M1982.4 1053.1h.01M1558.4 987.2h.01M1861.9 971.3h.01M1848 969h.01M1742.7 781.1h.01M1581.6 1083.5h.01M1804.1 1196.3h.01M1911.1 1124.3h.01M1874.9 880.8h.01M1866 944.9h.01M1715.5 1122.5h.01M1909.7 941h.01M1758.8 874.6h.01"/>
<path stroke-width="5" d="M1564.9 922.7h.01M1570.4 995.2h.01M1947.9 1053.2h.01M1719.5 793.8h.01M1789.6 876.2h.01M1575.3 915.8h.01M1677.7 868.6h.01M1901.2 1071h.01M1678.6 1010.9h.01M1821.2 782.8h.01M1946.1 1066.7h.01M1965.4 895.5h.01M1668.7 1176.5h.01"/>
<path stroke-width="6" stroke-opacity="0.4" d="M1914.2 964.4h.01M1900.4 1150.3h.01M1608.3 932.6h.01M1811.5 931.5h.01M1803.9 929.2h.01M1830.8 1193h.01M1891 1033.9h.01M1706.5 949.4h.01M1573.8 964.8h.01M1833.3 949h.01M1792.8 934h.01M1568.6 917.4h.01M1673.5 909.3h.01M1793.5 1193.3h.01M1558.1 985.3h.01M1909.5 845.4h.01M1826.9 935.8h.01M1823.9 956h.01M1710.9 804.6h.01M1772.1 822.9h.01M1720.6 894.7h.01M1865.6 992.6h.01M1670.1 1126.5h.01M1915.6 867.8h.01M1873.3 1031.5h.01M1700 1114h.01M1889.5 838h.01M1975.7 978.4h.01M1622.8 1044.5h.01M1708.5 874.2h.01M1884.6 1011.6h.01"/>
<path stroke-width="6" stroke-opacity="0.6" d="M1894 929.6h.01M1701.6 1079.6h.01M1844 1134.9h.01M1772 982.4h.01M1728.3 1024.6h.01M1891.9 905.4h.01M1796.9 1037.2h.01M1870.3 1124h.01M1633.8 1092.2h.01M1816 866.5h.01M1910.4 913h.01M1889.7 879.2h.01M1759.4 1080.9h.01M1969.2 995.1h.01M1644 969.2h.01M1906.2 1059.6h.01M1797.3 1076.1h.01M1572.4 1101.7h.01M1874.3 813.3h.01M1773 1075.4h.01M1923.2 852.7h.01M1587.3 896.2h.01M1643.3 1033.4h.01M1848.5 1120.6h.01M1703.9 1144.5h.01M1844.4 796.5h.01M1706.3 1051.6h.01M1836.8 1107.1h.01M1818.1 898.9h.01M1713.8 834.5h.01M1545.7 1031.6h.01M1710.1 1159.9h.01M1690.5 859.6h.01M1723.6 1032.1h.01M1655.6 980.7h.01M1625.3 883.8h.01M1558.6 1083.1h.01M1851.3 1035.7h.01M1788.3 955.3h.01M1698.4 808.9h.01M1900.5 967.1h.01M1909.2 849.2h.01M1903.7 975.8h.01M1656.6 968.9h.01M1869.1 856.2h.01M1659.1 823.9h.01M1644 1190.1h.01M1752.1 895.7h.01M1738.1 877h.01M1743.6 781.9h.01M1650.8 856.2h.01M1643.8 1117.9h.01M1838.7 811.7h.01M1937.1 896.4h.01M1725.4 1166.6h.01M1769.6 798.3h.01M1957.1 1119.8h.01M1578.9 1048.5h.01M1823.6 799.8h.01M1934.2 1023.8h.01M1829.5 924.9h.01M1620.8 961.1h.01M1839.1 1188.3h.01M1844.5 1019.9h.01M1797.3 939.6h.01M1708.6 789.2h.01M1925.5 926.5h.01M1961.7 1075.9h.01M1878.2 873.3h.01M1894 972.8h.01M1796.2 785h.01M1719.6 931.8h.01M1984.4 1070.2h.01M1841.6 991.1h.01M1746.2 848.2h.01M1982.1 1067.9h.01M1782.9 1138h.01M1854.6 954.5h.01M1652.7 1039.8h.01M1609.8 925.9h.01M1781.4 1182.9h.01M1683.3 1015.6h.01M1851.9 1063.5h.01M1910.2 830.1h.01M1680.1 1086h.01M1591.6 863.4h.01M1797.8 1113.6h.01M1650.8 1019.1h.01M1857.5 1000.3h.01M1871.4 1025.8h.01M1652.8 1011.3h.01M1934.8 1028.1h.01M1692.4 962.8h.01M1763.7 942.3h.01M1697.5 1003.1h.01M1913.4 1018.6h.01"/>
<path stroke-width="6" stroke-opacity="0.8" d="M1759.7 901.8h.01M1852.1 1138.9h.01M1859.1 1132.4h.01M1656.5 809.8h.01M1698.4 799.8h.01M1899.5 1007h.01M1855.1 835.6h.01M1823.2 967.5h.01M1837 1003.3h.01M1765.1 1224.3h.01M1737.4 959.9h.01M1790.3 992.5h.01M1575.1 972h.01M1951 886.1h.01M1746 793.8h.01M1690.6 1095.5h.01M1590.1 926.2h.01M1809.2 987.8h.01M1599.9 1084.2h.01M1826.1 959.4h.01M1778.6 788.6h.01M1726.8 1134.5h.01M1739.2 855.8h.01M1762.8 811.1h.01M1625.3 1052.5h.01M1708.3 792.7h.01M1909.6 932.1h.01M1787.1 795.1h.01M1672.6 1056.7h.01M1694.5 819.7h.01M1744.2 909.6h.01M1767.2 927.5h.01M1598.2 1144.3h.01M1808.3 824.9h.01M1747.8 1147.4h.01M1679.6 1175.1h.01M1808.1 1040.3h.01M1653.5 1193.1h.01M1705.9 940.9h.01M1570.9 1032.1h.01M1937.2 892.2h.01M1729.3 868.6h.01M1692.3 1006.2h.01M1761.6 1122.3h.01M1928.6 1038.4h.01M1766.9 910.5h.01M1881.1 841.8h.01M1935.5 984.1h.01M1824.8 872.6h.01M1617.5 1025.9h.01M1624.4 882.1h.01M1803.1 1101.8h.01M1936.8 1074.4h.01M1752.7 1105.5h.01M1806.8 809.7h.01M1682 1088.9h.01M1941.3 1082.5h.01M1595.1 1028h.01M1946.7 1037.5h.01M1556.9 1063.5h.01M1927.9 884h.01M1805.8 1193.6h.01M1721.5 826.7h.01M1663 1053.8h.01M1818.8 1214.4h.01M1577.6 1098.9h.01M1569.7 936.7h.01M1768.2 976.7h.01M1903.7 1032.8h.01M1914.3 968.9h.01M1889.1 1070.7h.01M1797.8 1113h.01M1759.2 1206h.01M1784.5 888.3h.01M1891.1 995h.01M1820.4 915.9h.01M1716.4 808.3h.01M1882.4 904.3h.01M1803.5 1040h.01M1774.7 877.6h.01M1774.6 1058.6h.01M1671.4 845h.01M1931.4 963.6h.01M1636.6 1022.1h.01M1755.5 912.2h.01M1918.3 861.1h.01M1686 1036.2h.01M1589.1 1037h.01M1821.8 828.5h.01M1648.4 834h.01M1685.8 1176.6h.01M1759.1 1097.9h.01M1777.9 1102.3h.01M1779.9 1130.9h.01M1760.6 894.8h.01M1856.6 871.4h.01M1552 1031.2h.01M1972.2 1019h.01M1617.5 916.8h.01M1848.3 792.5h.01M1634.1 1142.7h.01M1943.8 1076.7h.01M1883.2 864h.01"/>
<path stroke-width="6" d="M1746 864.3h.01M1864.2 1147.3h.01M1883.5 916.3h.01M1701.8 826h.01M1557.6 990h.01M1897.4 1015.7h.01M1959.2 881.4h.01M1827.5 968.5h.01M1812.2 788.9h.01M1858.3 913.4h.01M1681.5 864.2h.01M1753.6 1174.7h.01M1905.1 1009.9h.01M1932.3 1135.1h.01M1879.2 933h.01M1820.7 1018.2h.01M1637.7 1185.8h.01M1938.6 954.8h.01M1584.8 973.6h.01M1707.1 1194.5h.01M1910.8 1141h.01M1682 1031.4h.01M1903.7 1064.9h.01M1858.7 1021.3h.01M1655.8 967h.01M1826.8 864.3h.01"/>
<path stroke-width="7" stroke-opacity="0.4" d="M1789.8 921h.01M1818.7 1132.4h.01M1744.1 1038.8h.01M1610.1 979.6h.01M1902.4 860.1h.01M1699.3 837.2h.01M1742.4 1132.8h.01M1620.2 1003.2h.01M1712.4 1126h.01M1591.4 1013.2h.01M1765.2 932.1h.01M1913 946.8h.01M1699.6 1138.1h.01M1694.7 1096.3h.01M1623.4 1139.1h.01M1875.7 805.5h.01M1868 944.8h.01M1977.8 976.3h.01M1672.4 885.2h.01M1881.8 1062.9h.01M1836.1 1151.3h.01M1580.9 946h.01M1658.1 970.6h.01M1780 827.8h.01M1886.6 974.4h.01"/>
<path stroke-width="7" stroke-opacity="0.6" d="M1555.6 948.3h.01M1882.1 1052.3h.01M1592.3 973.3h.01M1756.1 903h.01M1658.6 1025.1h.01M1838.7 819h.01M1720 1080.9h.01M1805.3 947.9h.01M1686.5 1174.9h.01M1640.4 1006.7h.01M1899.8 1175.4h.01M1657.3 870h.01M1711.9 1085.7h.01M1716.4 1131.8h.01M1593.4 1071.8h.01M1958.5 881.1h.01M1710.6 1050.8h.01M1834.3 996.6h.01M1892 1155.1h.01M1814.4 1149.6h.01M1723.4 863.4h.01M1960.5 991.7h.01M1611 955.3h.01M1757.9 1032.7h.01M1941.5 1032.7h.01M1646 833.7h.01M1839.5 952.1h.01M1749.6 831.5h.01M1798.6 837.9h.01M1893.3 1188.2h.01M1643.7 852.6h.01M1699.6 1188.9h.01M1922 845.9h.01M1887.8 914.3h.01M1593.5 926.9h.01M1714.2 1094.2h.01M1830.1 785.4h.01M1781.8 871.1h.01M1591.9 1120.7h.01M1629 1120.7h.01M1901.7 837h.01M1826.2 876.2h.01M1817 800.2h.01M1840.1 878.5h.01M1696.6 816.8h.01M1680.1 891.8h.01M1610.9 1145.7h.01M1843.6 1088.7h.01M1814.6 949h.01M1914.5 876.5h.01M1826.1 854.6h.01M1893.1 856.1h.01M1882.5 829.4h.01M1824.8 792.7h.01M1747.9 1121.5h.01M1867.9 974.9h.01M1699.4 936.9h.01M1835.6 911.9h.01M1613.5 861.8h.01M1755.5 1084.6h.01M1804.4 986.6h.01M1643.4 872.4h.01M1831.1 1107.7h.01M1811 1002.1h.01M1812.8 1190.8h.01M1738.5 1193h.01M1654.4 918.8h.01M1818.2 854.9h.01M1790.3 810.1h.01M1788.7 989.9h.01M1889.6 918.2h.01M1717.8 842.2h.01M1578.2 1041.1h.01M1606.4 982.4h.01M1664.4 952.5h.01M1619.4 1004.3h.01M1761.1 1201.1h.01M1668.8 1044.7h.01M1783.2 922.5h.01M1657.1 1031.6h.01M1760.6 1145h.01M1747.2 839h.01M1582.3 891.9h.01M1727.7 1085.2h.01M1813.8 992.6h.01M1835.1 904.6h.01M1863.7 988.7h.01M1638.3 968.3h.01M1913.7 1077.6h.01M1921.5 968.2h.01M1867.1 853.3h.01"/>
<path stroke-width="7" stroke-opacity="0.8" d="M1622.7 866.7h.01M1830.7 1195h.01M1762.5 792.1h.01M1563 934.3h.01M1667.6 1183.9h.01M1771.4 1052.5h.01M1904 851h.01M1696.8 1062.4h.01M1675.5 1100.9h.01M1616.6 1124.1h.01M1852.9 1143.5h.01M1634.3 846.1h.01M1708.1 839.4h.01M1876.4 1025.4h.01M1732.6 887.1h.01M1870.8 1132.3h.01M1838.8 920.6h.01M1756.6 1184.1h.01M1924 921.4h.01M1832.2 1000.9h.01M1858.6 937.7h.01M1789.8 953.1h.01M1620.5 919.7h.01M1840.7 1128.6h.01M1687.8 983.4h.01M1604.6 1073.4h.01M1904.9 1100.5h.01M1784.2 1214.8h.01M1618 1048.7h.01M1921.3 855.5h.01M1928.5 858.7h.01M1849.3 789.5h.01M1743.7 885.7h.01M1887.2 1114.9h.01M1838 1025.8h.01M1753.6 792.2h.01M1616.4 861.9h.01M1578.3 1022.3h.01M1672.9 961.7h.01M1935.7 918.6h.01M1905.9 973h.01M1654.6 1082.7h.01M1601.9 867.2h.01M1760.5 964.5h.01M1844.2 869.7h.01M1810.4 838.9h.01M1814.3 1033.4h.01M1665 931.6h.01M1843.5 982.6h.01M1925.3 906.8h.01M1667.3 1017.6h.01M1837.8 1110.6h.01M1567 1105h.01M1788.6 857.5h.01M1842.8 1015.9h.01M1587.3 1065.8h.01M1887.7 971.8h.01M1922.5 995.3h.01M1831.6 1061.4h.01M1621.9 1139.1h.01M1807.6 1179.3h.01M1892.6 984.5h.01M1933 966.9h.01M1832.2 1083.2h.01M1918.9 1052.4h.01M1854.5 977.4h.01M1849.2 825.8h.01M1593.3 1014h.01M1885 1062.7h.01M1851 1064.5h.01M1936.8 1128.2h.01M1615.2 869h.01M1819.2 1151.2h.01M1592.3 1001.4h.01M1854.3 847.4h.01M1893.1 1143.1h.01M1962.1 1031.6h.01M1814.5 1004.5h.01M1871.4 998.5h.01M1919 1017.9h.01M1847.3 1145.1h.01M1595.8 1072.4h.01M1824.1 1081.7h.01M1814.8 1145.8h.01M1899.5 851.3h.01M1604.1 975.9h.01M1770.7 1025.9h.01M1786.3 1165.6h.01M1796.8 1091h.01M1888.8 886.2h.01M1635.3 869h.01M1838.2 795.2h.01M1777.1 1101.6h.01M1660.9 1127.8h.01M1675.4 889.2h.01M1843.9 1086h.01M1853.5 869.4h.01M1726 870.5h.01"/>
<path stroke-width="7" d="M1686.5 818.7h.01M1585.8 937.6h.01M1742.9 1194.6h.01M1639.9 1054.8h.01M1924.7 916.1h.01M1884.1 1017.9h.01M1723.3 974.1h.01M1710.4 1002.2h.01M1628.2 1022.3h.01M1764.6 1032.9h.01M1861.1 811.5h.01M1817.1 962.9h.01M1926.5 889.9h.01M1913.2 1040.1h.01M1787.7 1063.4h.01M1605 955.3h.01M1778.9 873.2h.01M1788.8 934.9h.01M1856.4 804h.01M1837.3 789h.01M1685.2 812.3h.01M1813.5 956.7h.01M1737.7 785.8h.01M1761.9 1091.1h.01M1915.1 1032.1h.01M1795.6 1154.5h.01M1731.4 843.2h.01M1888.4 849.4h.01M1631.1 822.4h.01M1749 1162.2h.01M1600 975.5h.01M1800.8 996.7h.01"/>
<path stroke-width="8" stroke-opacity="0.4" d="M1852.3 930h.01M1848 920.8h.01M1669.6 957.5h.01M1649.3 936.3h.01M1687.9 811.9h.01M1908.4 1146.5h.01M1783.3 1101.9h.01M1765.2 827.6h.01M1802.9 839.8h.01M1603.9 964.5h.01M1691.1 1108.6h.01M1787.2 1139.2h.01M1848.7 1151.4h.01M1673.2 1136.1h.01M1776.8 1031.5h.01M1802.4 1135.9h.01M1695.4 1177.1h.01M1674.1 1141.5h.01M1767.7 805.6h.01M1594.4 1033.7h.01M1825 1065.8h.01"/>
<path stroke-width="8" stroke-opacity="0.6" d="M1926.5 1044.1h.01M1675.8 960.6h.01M1759.4 823.1h.01M1821.1 1193.4h.01M1914.3 984.8h.01M1605.4 1129.9h.01M1821.2 946.8h.01M1710 1048.9h.01M1662.5 862h.01M1749 1061.2h.01M1623.6 1028.4h.01M1771.5 826.5h.01M1692.5 1094.8h.01M1672 1016.9h.01M1697.5 1171.7h.01M1873.6 1113h.01M1923.6 1138.4h.01M1570.6 939.7h.01M1895.6 915.6h.01M1763.9 1017.4h.01M1842.6 1145.3h.01M1827.9 794.5h.01M1672.6 1092.5h.01M1910.4 880.2h.01M1769.6 1081.8h.01M1736.8 856.5h.01M1864.4 1022.2h.01M1812.9 1208h.01M1764.6 951.3h.01M1734.4 1028.7h.01M1775.4 904.8h.01M1970.8 1051.6h.01M1945.1 1002.4h.01M1763 896.2h.01M1797.8 1068.6h.01M1558.4 937.4h.01M1857.8 1123.8h.01M1622.7 826.5h.01M1686.2 843.5h.01M1865.4 979.6h.01M1670.6 981.5h.01M1708 1186.5h.01M1916.4 1029.3h.01M1803.4 996.8h.01M1946.2 911.8h.01M1866.8 1077h.01M1642.6 878.8h.01M1746.8 844.4h.01M1838.2 1102.7h.01M1752.6 845.6h.01M1599.5 1139.6h.01M1713 847.6h.01M1696.9 936.3h.01M1909.1 911.3h.01M1574.9 1113h.01M1739.4 894.6h.01M1977.2 1069.5h.01M1625.9 921.9h.01M1775.1 835.3h.01M1625.1 1025.5h.01M1904.9 943.8h.01M1886.7 910.3h.01M1693.8 837h.01M1801.8 1117.7h.01M1942.3 1058h.01M1567.9 997.2h.01M1962.3 1069.2h.01M1763.5 1105h.01M1774.3 1192.3h.01M1770.8 785.4h.01M1902.5 1120.4h.01M1955 1065.6h.01M1750.3 1124.3h.01M1748.2 935.8h.01M1894.2 1037.8h.01M1892.2 969.3h.01M1831.2 943.1h.01M1778.7 1194.2h.01M1776.3 805.7h.01M1693.3 1180.3h.01M1853.5 1065.2h.01M1878.9 872.2h.01M1853.4 882.8h.01M1933.4 1045.9h.01M1789.9 1222.4h.01M1966.4 941.4h.01M1764.9 1082.2h.01M1626.7 961.4h.01M1920.9 901.9h.01M1861.9 898.8h.01M1692.5 867.7h.01M1558.4 1000.9h.01M1604.3 1026.6h.01M1727.5 800.7h.01M1707.5 923.6h.01M1665.7 839.5h.01M1571.3 977.5h.01M1617.6 1122h.01M1842.8 855.3h.01M1949.6 1118.1h.01M1718.2 790.1h.01M1781.4 1107.5h.01M1854.9 1033.7h.01M1682.4 1125.4h.01M1778.8 965.7h.01M1736.6 779.3h.01M1618.7 850.6h.01M1619.7 958.6h.01M1678.3 1154.2h.01M1685.7 1101.7h.01M1693.4 974h.01M1847 812.2h.01M1697.9 793.9h.01M1876.5 1022.8h.01M1791.3 1117.4h.01"/>
<path stroke-width="8" stroke-opacity="0.8" d="M1743.1 874.9h.01M1704.9 831.3h.01M1658.3 941.5h.01M1935.3 1047.7h.01M1668.4 806.4h.01M1575.2 883.5h.01M1739.8 922.2h.01M1980 1016.7h.01M1698 1166.8h.01M1852 925.6h.01M1672 835.3h.01M1891.6 1046.4h.01M1743.9 805.7h.01M1680.4 1131.2h.01M1751.4 1000.5h.01M1747.2 776.4h.01M1715.4 1038.5h.01M1780.8 1116.7h.01M1850.1 1067.6h.01M1624.1 961.6h.01M1654.7 1007.6h.01M1932.1 1107h.01M1903.9 1063.5h.01M1824.1 828.5h.01M1731.1 956.7h.01M1689.7 1043.6h.01M1910.3 855.9h.01M1948.9 1001.9h.01M1787.8 850.5h.01M1795.3 1157.4h.01M1880.9 835.1h.01M1651.7 1117.2h.01M1911 1074.1h.01M1908.8 829.7h.01M1624.5 1053.3h.01M1902.5 886.9h.01M1691.4 856.7h.01M1780.2 955h.01M1601 856.2h.01M1886 899.3h.01M1841.6 1120.3h.01M1690.7 933.7h.01M1916.1 1088h.01M1615.3 860h.01M1795.3 973.9h.01M1771.5 942h.01M1964.6 1086.4h.01M1924.4 925.9h.01M1839.3 971.8h.01M1865.6 1198.6h.01M1864.3 854h.01M1885.9 1042h.01M1725.7 796.4h.01M1613.4 1077.7h.01M1671.8 801.5h.01M1749.6 779.8h.01M1674.4 971.7h.01M1871.7 852.5h.01M1744 1099h.01M1797.7 1173h.01M1968.8 969.1h.01M1680.5 1097.1h.01M1794.5 895.6h.01M1937.7 1048.1h.01M1693.1 845h.01M1879.6 1029h.01M1930.4 916.9h.01M1933.3 1083.3h.01M1877 1165.8h.01M1883.9 1015.6h.01M1636.1 1012.5h.01M1807.6 999.2h.01M1577.3 959h.01M1662.2 856h.01M1826.9 1141.1h.01M1876.9 1101h.01M1557.3 1014.8h.01M1744.4 1023.5h.01M1872.9 843.1h.01M1606.8 868.2h.01M1826.8 794.2h.01M1635.9 932.9h.01M1778.7 1034.1h.01M1667.2 881.5h.01M1701.3 893.5h.01M1903.1 1034.7h.01M1945.5 960h.01M1882.1 805.3h.01M1896.4 1148.4h.01M1888.3 968.1h.01M1763.3 861.7h.01M1951.9 965h.01M1773.6 800.1h.01M1753.9 1149.7h.01M1634.1 1102.9h.01M1783.9 1184.8h.01M1912.7 1023.7h.01M1850 1109.1h.01M1953.5 897.1h.01M1592.7 898.9h.01M1927.4 1148.5h.01M1904.8 1012.3h.01M1633.3 1039.7h.01"/>
<path stroke-width="8" d="M1598.6 1007.8h.01M1929.3 1055.8h.01M1827.4 1193.2h.01M1877.7 953.4h.01M1893 901.8h.01M1758.7 1056.6h.01M1829.5 842.6h.01M1945.9 1026.9h.01M1703.8 820.4h.01M1593.5 948.5h.01M1899.2 838.1h.01M1908.1 1030.4h.01M1710 1115.1h.01M1730.6 1092h.01M1719.3 1220.1h.01M1929.2 1079.5h.01M1640.8 1102.6h.01M1588.8 1017h.01M1811.5 1203.5h.01M1688.5 978.5h.01M1831.5 786.6h.01M1647.9 811.6h.01M1767.5 1203.4h.01M1827.3 945.1h.01M1600.8 923.2h.01M1742.4 879.6h.01M1821.2 786.9h.01M1639.2 965.9h.01M1629.5 1056.8h.01M1822.8 1220.6h.01M1836 1083.7h.01"/>
<path stroke-width="9" stroke-opacity="0.4" d="M1876.3 1124.3h.01M1964.6 994h.01M1696.4 1047.3h.01M1929.9 1039.3h.01M1823.8 986h.01M1750.6 1172.4h.01M1757.5 1052.8h.01M1860.4 1033.6h.01M1578.8 1051.5h.01M1842.7 1004.3h.01M1573.7 983.6h.01M1772.4 862.5h.01M1779.6 1068.3h.01M1650 827.1h.01M1892.6 890.4h.01M1901.1 1020.4h.01M1699.6 1015.8h.01M1824.8 1161.1h.01M1703.3 883.9h.01"/>
<path stroke-width="9" stroke-opacity="0.6" d="M1735.8 1202.6h.01M1615.7 1009.1h.01M1938.8 939.9h.01M1730.6 1130.7h.01M1687.4 789.4h.01M1775.4 790.5h.01M1724.4 838.6h.01M1928.2 846.2h.01M1986.3 1034.9h.01M1955.7 983.8h.01M1899.8 1011.5h.01M1948.2 931.1h.01M1936.5 1045.7h.01M1902.9 901.3h.01M1819.2 788.6h.01M1858.6 1132h.01M1673.9 937.7h.01M1644.8 1092.2h.01M1645.3 957.4h.01M1771.2 1194.3h.01M1604.6 966h.01M1629.5 853.9h.01M1902.1 911.5h.01M1976.5 1010.9h.01M1689.4 1195.5h.01M1824.4 1073.5h.01M1908.2 842.5h.01M1849.1 976.1h.01M1764.1 970.2h.01M1868 1033.3h.01M1776 1200.1h.01M1891.4 1151.4h.01M1787.3 1130h.01M1847.8 910.7h.01M1609.3 1091.7h.01M1939.8 1035h.01M1677 1055.3h.01M1775.6 1075.9h.01M1773.8 948h.01M1611.8 1135.1h.01M1635.5 861.4h.01M1985.4 963.4h.01M1893.4 1062h.01M1796.7 801.4h.01M1883.7 1004.7h.01M1713.7 1010.2h.01M1788.1 1224.9h.01M1760.8 1000.2h.01M1803.6 778.1h.01M1669 1000.7h.01M1768.9 912.1h.01M1922.9 1116.7h.01M1800.5 1161.5h.01M1671 1009.2h.01M1894.6 908.3h.01M1888.5 1035.7h.01M1721.4 1057.1h.01M1634.2 819.8h.01M1667.2 1055.7h.01M1877.3 830.3h.01M1668.9 1043.9h.01M1651.5 1072.4h.01M1802.6 895.5h.01M1771.3 787.2h.01M1650.8 1032.3h.01M1909.3 824.5h.01M1750.5 934.4h.01M1839.5 1014.3h.01M1821.5 1127.1h.01M1693 1121.9h.01M1771.6 830.4h.01M1586.7 1062h.01M1951.1 1122h.01M1647.4 891.9h.01M1882.1 863.1h.01M1752.7 1159.8h.01M1677.6 867.7h.01M1662.1 939.7h.01M1957.6 1076.8h.01M1901.7 1159.3h.01M1676 956.5h.01"/>
<path stroke-width="9" stroke-opacity="0.8" d="M1592.3 1046.7h.01M1669.9 1087.7h.01M1729.6 1165h.01M1719.4 933h.01M1768.4 1058.4h.01M1741.1 860h.01M1691.2 1083.3h.01M1667.2 804.1h.01M1785.8 962.8h.01M1587.6 1031.9h.01M1774.8 1216.7h.01M1597.5 925.2h.01M1703.9 822.5h.01M1815.9 916.3h.01M1609.2 999h.01M1747.4 989.2h.01M1612.2 1111.6h.01M1866.2 972.2h.01M1883.6 1096.5h.01M1616.6 922.2h.01M1862.4 1016.9h.01M1854 1147.9h.01M1912.9 1003.9h.01M1914.1 1086.4h.01M1747.2 794.3h.01M1757.4 804.4h.01M1887.2 848.1h.01M1897.2 1056.9h.01M1943.3 954h.01M1739.4 1176.7h.01M1654.9 1049.5h.01M1869.6 956.5h.01M1910.5 982.2h.01M1831.9 976.4h.01M1633.6 1067.4h.01M1897.8 1108.4h.01M1807.1 1130.2h.01M1745.6 1012.6h.01M1763.7 1122.8h.01M1747.5 987.8h.01M1831.5 857.8h.01M1756.3 1059.5h.01M1643.3 1061.5h.01M1906.2 1104.8h.01M1710.2 1208.7h.01M1811.8 1009.8h.01M1699.4 851h.01M1939.8 1004h.01M1791.3 924.7h.01M1945.1 982.9h.01M1782.4 1072.6h.01M1650.6 1100.4h.01M1976.8 1073.8h.01M1700.9 1138.7h.01M1853.6 1113.3h.01M1563.8 942.3h.01M1817.5 1036.8h.01M1632.1 916.4h.01M1896.3 1055.7h.01M1789 847.7h.01"/>
<path stroke-width="9" d="M1877.8 1083.3h.01M1695.7 1062.7h.01M1883.2 1193h.01M1814.6 826.9h.01M1609.1 1006.6h.01M1784.4 905.6h.01M1896.1 903h.01M1630.9 1014.3h.01M1907.3 850.9h.01M1908.9 993.6h.01M1708.4 792.1h.01M1839.5 991h.01M1726.7 1092.3h.01M1854.1 927.8h.01M1576.3 969.1h.01M1748.8 902.8h.01M1818 1130.2h.01M1732.4 906.1h.01M1899.7 1007.2h.01M1925.1 1046.1h.01M1735.9 923.7h.01M1833.6 1197.4h.01M1750.3 780.6h.01M1876.3 826.9h.01M1677.4 1119.6h.01M1935.5 877.6h.01M1701.9 930.7h.01"/>
<path stroke-width="10" stroke-opacity="0.4" d="M1669.6 974.2h.01M1851.7 1156.5h.01"/>
<path stroke-width="10" stroke-opacity="0.6" d="M1658 1077.2h.01M1890.6 1004.8h.01M1725.5 917.7h.01M1670.4 1127h.01M1703.5 829.2h.01M1859.3 794.9h.01M1665.7 990.4h.01M1702.9 1026.1h.01M1944.1 1048.9h.01"/>
<path stroke-width="10" stroke-opacity="0.8" d="M1624.8 1154.6h.01M1576.9 993.4h.01"/>
<path stroke-width="10" d="M1585.4 1066.7h.01M1800 1197.8h.01M1921.5 998.2h.01M1764.4 902.7h.01"/>
<path stroke-width="11" stroke-opacity="0.4" d="M1563.8 1002.3h.01"/>
<path stroke-width="11" stroke-opacity="0.6" d="M1957.6 932.1h.01M1738.8 840.8h.01M1776.3 1085.9h.01M1846 1073.7h.01M1668 842.6h.01M1755.8 828.3h.01M1795.2 992h.01"/>
<path stroke-width="11" stroke-opacity="0.8" d="M1784.7 905.3h.01M1772.9 879.8h.01M1544.2 965.6h.01M1847.8 1148.6h.01M1622.4 1074.1h.01M1900.5 925.3h.01"/>
<path stroke-width="11" d="M1603.6 849.8h.01"/>
</g>
<rect x="1539.6" y="771.8" width="457.4" height="457.4" filter="url(#grain)" opacity="0.14"/>
<rect x="1539.6" y="771.8" width="457.4" height="457.4" filter="url(#grainw)" opacity="0.12"/>
<circle cx="1768.3" cy="1000.5" r="228.2" fill="none" stroke="#464287" stroke-width="2" stroke-opacity="0.6" filter="url(#bR)"/>
</g>
<g clip-path="url(#pc4)">
<circle cx="321.5" cy="1478.5" r="229.5" fill="url(#pg4)"/>
<g filter="url(#bL)" fill="none" stroke="#525464" stroke-linecap="round">
<path stroke-width="7" stroke-opacity="0.2" d="M166.6 1556.4v6M222.3 1558.6v6M247.5 1631.8v6M464.2 1403.9v6M230.6 1612.5v6M295.6 1556.5v6"/>
<path stroke-width="7" stroke-opacity="0.4" d="M149.1 1573.4v6M432.6 1443.2v6M351.6 1623v6M308 1547.3v6M330.8 1684.6v6M484.1 1395.6v6M346.5 1655.8v6M104.3 1467.8v6M505.4 1395.2v6M272.5 1356v6"/>
<path stroke-width="7" stroke-opacity="0.6" d="M317.5 1692v6M115.4 1555.6v6"/>
<path stroke-width="8" stroke-opacity="0.2" d="M307.6 1431.6v6M487.4 1381.4v6M229.6 1562.8v6M394.8 1457.1v6M233.1 1669.9v6M220.9 1561.8v6M323.3 1289v6M268.9 1372.9v6M166.1 1491.6v6"/>
<path stroke-width="8" stroke-opacity="0.4" d="M140.6 1401.6v6M291.5 1491v6M514.3 1393.1v6M354.7 1387.1v6M530.3 1556.2v6M230 1353.1v6M295.8 1485.6v6M95.4 1486v6M178.1 1355.2v6M222.4 1353.5v6M396.8 1539.4v6M121.4 1521.6v6M402.8 1583.5v6M521.1 1471.5v6M457.5 1447.4v6M356.7 1465.6v6M306.1 1545.3v6M165.5 1484.1v6M487.7 1397.5v6M215.6 1482v6M354.9 1536.9v6M459.5 1407.1v6M489.1 1481.6v6M218.9 1485.2v6M459.7 1597.4v6M417.9 1367.6v6M411.9 1320.7v6M205.3 1313.7v6M248.2 1615.3v6M115.2 1558.3v6"/>
<path stroke-width="8" stroke-opacity="0.6" d="M309.8 1284.7v6M331.9 1634v6"/>
<path stroke-width="9" stroke-opacity="0.2" d="M461.7 1399.8v6M281.1 1424.1v6M136.6 1593.7v6M248 1537.7v6M240.2 1426.1v6M214.6 1480.8v6M233.6 1357v6M363.1 1566.1v6"/>
<path stroke-width="9" stroke-opacity="0.4" d="M136.4 1569.7v6M237.5 1469.2v6M299.3 1490.1v6M366.1 1531.3v6M448.6 1408.1v6M307.9 1394.1v6M271.4 1482.3v6M158.6 1580.4v6M120 1519.3v6M364.3 1602.8v6M516.5 1559.6v6M160.7 1555.5v6M489.6 1392.6v6M260.5 1569.9v6M301.3 1587.2v6M376.4 1302.6v6M437.1 1625.9v6M414.6 1625v6"/>
<path stroke-width="9" stroke-opacity="0.6" d="M510.5 1611.2v6M414.7 1496.4v6M171 1356.1v6M201 1570.9v6M243.6 1349.7v6M513.4 1404v6M492.9 1518.3v6"/>
<path stroke-width="10" stroke-opacity="0.2" d="M409.5 1310.7v6M303.2 1357.6v6M219.5 1560.5v6M206.3 1431.8v6M290.5 1557.4v6M330.3 1274.7v6M303.3 1432.6v6M287.4 1663.2v6M258.4 1351.5v6M234 1296.2v6"/>
<path stroke-width="10" stroke-opacity="0.4" d="M227 1503.3v6M161.2 1552.9v6M269.4 1284.8v6M360 1407.8v6M232.6 1354.6v6M232.3 1291.9v6M514.5 1614.9v6M137.3 1535.7v6M431.1 1441.9v6M446.7 1520.6v6M489.5 1356.2v6M315.2 1698.2v6M220 1477.9v6M233 1298.9v6M465.9 1369.4v6M353.1 1405.1v6M229.1 1435.9v6M467.3 1518.8v6M399.6 1440.2v6M491.8 1393.9v6M521.6 1471.9v6M434.7 1371v6M365.9 1298.2v6M260.5 1346.4v6M218.8 1483v6"/>
<path stroke-width="10" stroke-opacity="0.6" d="M455.4 1595.1v6"/>
<path stroke-width="11" stroke-opacity="0.2" d="M347.7 1544.5v6M442 1319v6M327.1 1581.4v6M144.3 1520.6v6M319.4 1529.1v6M527.9 1560v6M234.2 1606.2v6M368.4 1603.8v6M438.9 1640.2v6"/>
<path stroke-width="11" stroke-opacity="0.4" d="M403.4 1300.2v6M499.1 1483.4v6M515.9 1395v6M356.2 1406.4v6M234.2 1459.6v6M365 1595v6M356 1380.2v6M398.5 1547.1v6M269.4 1495.9v6M317.9 1267.5v6M516 1487.2v6M433.7 1485.5v6M299 1376.4v6M286.9 1414.7v6M498 1452.9v6M184 1472v6M203.9 1499.8v6M484.3 1576.9v6M335 1289.6v6M179.1 1359.8v6M269.5 1677.9v6M320 1694.8v6M269.9 1520.7v6M321.2 1604.1v6"/>
<path stroke-width="11" stroke-opacity="0.6" d="M516.1 1394.5v6M479.7 1631.7v6M263.8 1577.2v6M410.9 1311.1v6"/>
<path stroke-width="12" stroke-opacity="0.2" d="M206.4 1659.3v6M334.6 1498.8v6M221.1 1560.3v6M464 1495v6M392.6 1581.8v6"/>
<path stroke-width="12" stroke-opacity="0.4" d="M264.2 1573.8v6M231.3 1349.2v6M301 1384.6v6M206.2 1659v6M522.8 1469.1v6M188.1 1552.4v6M490.1 1617.7v6M435.4 1634.4v6M188.6 1550.2v6M213.4 1578.4v6M217.7 1509.6v6M222.4 1543.5v6M96.7 1485.5v6M255.1 1386.4v6M483.3 1577v6M207.2 1506.8v6M233.3 1354.7v6M289.2 1519.2v6"/>
<path stroke-width="12" stroke-opacity="0.6" d="M189 1571.4v6M358.5 1528.2v6"/>
</g>
<g filter="url(#bS10)" fill="none" stroke="#5c5e96" stroke-linecap="round">
<path stroke-width="4" stroke-opacity="0.6" d="M313.8 1408.7h.01M279.1 1531.7h.01M473.5 1367.2h.01M538.8 1544.1h.01M219.1 1550h.01"/>
<path stroke-width="4" stroke-opacity="0.8" d="M133.6 1495h.01M169.6 1450.5h.01M215.1 1646.8h.01M328.3 1264.4h.01M347.2 1367.1h.01M348.1 1343.6h.01M335.3 1622.3h.01M203.6 1527h.01"/>
<path stroke-width="4" d="M180.9 1338.2h.01M211.1 1549.9h.01M394.1 1527.8h.01"/>
<path stroke-width="5" stroke-opacity="0.6" d="M322.4 1591.9h.01M134.8 1556.6h.01M374.5 1284.7h.01M222.8 1327.8h.01M287.8 1651h.01M509.9 1398.2h.01M411.8 1609.4h.01M334.3 1275.2h.01M161.4 1506.7h.01M453.5 1568.5h.01M308.3 1533.5h.01M137.6 1389.6h.01M344.6 1398.9h.01M176.3 1438.2h.01M215.7 1278.8h.01M499.7 1472.8h.01M370.5 1299.6h.01M223.8 1669.3h.01M407.2 1470.9h.01M484.8 1565.4h.01M205.5 1301.5h.01M289.7 1546.8h.01M254.5 1375.2h.01M414.7 1488.2h.01M465.2 1519.6h.01M201.7 1337.6h.01M497.1 1437.9h.01M459.2 1314h.01M312.6 1453.1h.01M120.6 1508.5h.01"/>
<path stroke-width="5" stroke-opacity="0.8" d="M234.5 1415.3h.01M104 1450.3h.01M217.7 1469.6h.01M227.1 1314.2h.01M445.3 1505.8h.01M440.2 1615.4h.01M435.6 1572.3h.01M523.2 1417.9h.01M142.4 1459.9h.01M496 1427.1h.01M200.8 1391.9h.01M404.2 1420.4h.01M274.7 1510.8h.01M493.1 1480.4h.01M484.4 1476.8h.01M364.5 1552.1h.01M106.9 1451.5h.01M514.3 1454.1h.01M303.3 1372.8h.01M303.1 1475.3h.01M210.3 1389.6h.01M253.9 1523.5h.01M270.5 1479.3h.01M397.9 1490.5h.01M320.5 1515.3h.01M336.9 1639h.01M231.9 1279h.01M333.7 1361.3h.01M393 1593.8h.01M206.7 1666.9h.01M447.7 1376.1h.01M196.1 1334.3h.01M440.7 1643.4h.01M489.1 1346.1h.01M271.1 1278.1h.01M395.7 1289.8h.01M204.3 1485.2h.01M186.6 1565.5h.01M403.2 1286.2h.01M367.1 1586.1h.01M214.6 1558.7h.01M193.1 1566h.01M227.1 1341.1h.01M497.1 1473.3h.01M320.9 1279.2h.01"/>
<path stroke-width="5" d="M323.7 1332.5h.01M291.3 1493h.01M229.8 1556.9h.01M368.5 1642.6h.01M145.9 1618.6h.01M247 1334.8h.01M184.4 1462h.01M456.1 1584.3h.01M359.3 1457.1h.01M479.1 1397.8h.01M339.7 1385h.01M507.6 1458.2h.01M350.6 1567.7h.01M464.3 1356h.01M319.5 1414.3h.01M349.8 1682.9h.01M302.1 1531h.01M208.8 1443.2h.01M188.8 1507h.01"/>
<path stroke-width="6" stroke-opacity="0.6" d="M487.5 1369.6h.01M432.3 1396.9h.01M344.1 1582.7h.01M259.6 1336.2h.01M359 1525.8h.01M298.6 1624.6h.01M419.6 1351.8h.01M161.3 1571.1h.01M433.4 1468.1h.01M439.5 1622.9h.01M301.3 1375.8h.01M515.8 1471.6h.01M270.6 1364.4h.01M396.2 1535.7h.01M245.2 1621.3h.01M493.2 1347.8h.01M328.3 1290.3h.01M330.5 1673.9h.01M263.6 1564.5h.01M156.2 1358.2h.01M493.2 1510.5h.01M286.5 1463.7h.01M270.3 1472.5h.01M229.9 1634.2h.01M490.1 1601.1h.01M358.4 1366.6h.01M434 1589.7h.01M214 1483.3h.01M331.3 1454.1h.01M469.5 1350.7h.01M231.3 1662.3h.01M221.7 1603.7h.01"/>
<path stroke-width="6" stroke-opacity="0.8" d="M295 1568.7h.01M293.1 1456.3h.01M459.1 1524.5h.01M311.7 1266.2h.01M225.3 1499.7h.01M153.2 1411.4h.01M432.7 1431.4h.01M409.2 1298.8h.01M164.8 1543.2h.01M218.5 1473.3h.01M228.6 1496.3h.01M482.9 1385.5h.01M401.5 1688.2h.01M301.5 1344.7h.01M392.8 1452.1h.01M208.6 1568.3h.01M521.4 1458.9h.01M204.2 1583.3h.01M317.2 1683.2h.01M530 1560.6h.01M332.4 1488h.01M478.9 1516.8h.01M169.8 1385.8h.01M482.9 1503.3h.01M127.1 1566.5h.01M131 1359.9h.01M215.9 1498.4h.01M231.6 1469.9h.01M192.8 1345.2h.01M247.7 1386.3h.01M246.9 1528.6h.01M310.4 1277.3h.01M338.7 1386.6h.01M207.4 1416.4h.01M223.3 1551.8h.01"/>
<path stroke-width="6" d="M375.6 1523h.01M449.6 1394.7h.01M166.7 1547.8h.01M161.5 1542.7h.01M484.1 1574.3h.01M461.5 1389.7h.01M229.6 1607.3h.01M167.4 1503.5h.01"/>
<path stroke-width="7" stroke-opacity="0.6" d="M228.8 1422.5h.01M147.2 1562.1h.01M353.1 1376.8h.01M171.7 1457.2h.01M235.7 1282.6h.01M462 1392.7h.01M484.4 1637.5h.01M488.5 1544.9h.01M391.8 1574.1h.01M419.5 1357.2h.01M206.2 1497.1h.01M357 1395.6h.01M398.6 1429.5h.01M310.5 1372.7h.01M278.9 1415.7h.01M533.9 1531.9h.01M476.6 1595.1h.01M368.8 1563.8h.01M465.3 1485.4h.01M471 1382h.01M434.2 1362.3h.01M383.2 1597.6h.01M507.8 1380.5h.01M352.6 1391.5h.01M402.7 1569.4h.01M274.6 1432.2h.01"/>
<path stroke-width="7" stroke-opacity="0.8" d="M308.5 1382.9h.01M321.9 1371.7h.01M230.1 1340.6h.01M245.1 1602.4h.01M419.8 1397.4h.01M325.4 1569.6h.01M415.4 1350.2h.01M288.5 1404h.01M292.3 1516.5h.01M303.2 1497h.01M365.3 1522.3h.01M518.9 1388h.01M267.9 1672.1h.01M347.5 1692.2h.01M367.1 1287.4h.01M298.5 1272.7h.01M359.7 1516.6h.01M489.5 1472.9h.01M488.2 1382.1h.01M223.1 1302.3h.01M166.5 1482.3h.01M232.7 1588.5h.01M318.6 1252.7h.01M531.3 1548.6h.01M187.4 1309.4h.01M340.8 1540.9h.01M145.8 1391.5h.01M251.7 1576.4h.01M460.5 1378.2h.01M413 1503.2h.01M287.7 1579.2h.01M292.9 1474.7h.01M225.4 1532.3h.01M293.7 1396.3h.01M509.7 1449.2h.01M229 1591.4h.01M374.2 1296.6h.01M300.4 1364.5h.01M354.5 1609.7h.01"/>
<path stroke-width="7" d="M370.5 1517.4h.01M268.2 1508h.01M404.9 1583.7h.01M244.5 1336.2h.01M124.8 1536.3h.01M155 1570.7h.01M304.4 1336.4h.01"/>
<path stroke-width="8" stroke-opacity="0.6" d="M298.5 1575.2h.01M479.3 1623.9h.01M517.6 1386h.01M324.8 1283.3h.01M409.1 1584.5h.01M243 1327.3h.01M398.9 1353.5h.01M333.7 1350.8h.01M439 1343.3h.01M475.2 1397.5h.01M389.4 1268.2h.01M510.9 1602.1h.01M203.3 1591.3h.01M379.8 1265h.01M189.9 1338.7h.01M459.3 1567.4h.01M137.3 1527.6h.01M284.3 1415.6h.01M206.9 1431.5h.01M368.2 1296.8h.01M348.4 1532.1h.01M317.3 1700.7h.01M342.2 1547.5h.01M204.5 1646.5h.01M454.2 1429.3h.01M168 1636h.01M441.4 1306.7h.01M134.2 1582.8h.01M143.9 1503.3h.01M371.2 1642.9h.01M309.8 1452.9h.01M252.4 1575h.01"/>
<path stroke-width="8" stroke-opacity="0.8" d="M195 1317.6h.01M437.4 1650.8h.01M115.9 1544.8h.01M147 1438.3h.01M477.1 1589.5h.01M491.6 1526.6h.01M281.5 1678.6h.01M342.8 1645.5h.01M95.9 1474.7h.01M374.8 1378.3h.01M251.8 1454.9h.01M224.4 1583.9h.01M413 1335.1h.01M191.6 1553.1h.01M396.8 1429.4h.01M455.2 1322.2h.01M448.3 1359.8h.01M519.7 1547.2h.01M165.3 1472.4h.01M459.7 1504.2h.01M165.6 1491.6h.01M267.3 1430.3h.01M489.5 1382.6h.01M202.3 1555h.01M273.5 1343.9h.01M415.6 1334.5h.01M490.1 1602.8h.01M352.2 1681.2h.01M241.5 1415.8h.01"/>
<path stroke-width="8" d="M471.1 1503.8h.01M135.6 1553.3h.01M233.5 1446.6h.01M177 1592.7h.01M162.4 1326h.01M353.9 1611.6h.01"/>
<path stroke-width="9" stroke-opacity="0.6" d="M253.8 1550.2h.01M236 1458.5h.01M450.6 1399.2h.01M462.1 1336h.01M502.9 1487.4h.01"/>
<path stroke-width="9" stroke-opacity="0.8" d="M176.4 1344.8h.01M114.4 1545.3h.01M305.7 1419.1h.01M139.7 1588.3h.01"/>
<path stroke-width="10" stroke-opacity="0.6" d="M545.8 1464.2h.01M266.3 1336.7h.01M221.9 1549.6h.01"/>
<path stroke-width="10" stroke-opacity="0.8" d="M320.9 1343.3h.01M435.8 1353.6h.01"/>
<path stroke-width="10" d="M330.9 1620.9h.01"/>
<path stroke-width="11" stroke-opacity="0.6" d="M188.6 1544.9h.01"/>
</g>
<rect x="92" y="1249" width="459" height="459" filter="url(#grain)" opacity="0.14"/>
<rect x="92" y="1249" width="459" height="459" filter="url(#grainw)" opacity="0.12"/>
<circle cx="321.5" cy="1478.5" r="229.0" fill="none" stroke="#696b78" stroke-width="2" stroke-opacity="0.6" filter="url(#bR)"/>
</g>
<g clip-path="url(#pc5)">
<circle cx="804.0" cy="1478.5" r="228.7" fill="url(#pg5)"/>
<g filter="url(#bH)" fill="none" stroke="#46447a" stroke-linecap="round">
<path stroke-width="7" stroke-opacity="0.4" d="M967.8 1337.5h.01"/>
<path stroke-width="8" stroke-opacity="0.2" d="M769.3 1525.7h.01"/>
<path stroke-width="8" stroke-opacity="0.4" d="M864 1310.5h.01M938.7 1636.1h.01"/>
<path stroke-width="9" stroke-opacity="0.4" d="M748.6 1646.8h.01"/>
<path stroke-width="10" stroke-opacity="0.4" d="M720.2 1550.8h.01"/>
<path stroke-width="11" stroke-opacity="0.2" d="M769.3 1525.7h.01M773.2 1336.2h.01"/>
<path stroke-width="12" stroke-opacity="0.2" d="M975.5 1352.2h.01"/>
<path stroke-width="12" stroke-opacity="0.4" d="M838.6 1502.2h.01M864.8 1568.6h.01"/>
<path stroke-width="13" stroke-opacity="0.2" d="M931.7 1634.9h.01"/>
<path stroke-width="13" stroke-opacity="0.4" d="M930 1475.2h.01M1002 1406.9h.01"/>
<path stroke-width="14" stroke-opacity="0.2" d="M825.9 1507.4h.01M593.3 1438.1h.01"/>
<path stroke-width="14" stroke-opacity="0.4" d="M710.3 1600h.01"/>
<path stroke-width="15" stroke-opacity="0.2" d="M782.5 1396.6h.01M872.6 1298.6h.01M828 1366.9h.01M852.1 1631.1h.01"/>
<path stroke-width="15" stroke-opacity="0.4" d="M707.5 1682.2h.01M783.9 1323.1h.01"/>
<path stroke-width="16" stroke-opacity="0.2" d="M932.2 1548.4h.01"/>
<path stroke-width="16" stroke-opacity="0.4" d="M955 1387.6h.01M869.5 1480.6h.01M713.5 1426.7h.01"/>
<path stroke-width="17" stroke-opacity="0.4" d="M890.4 1493.5h.01M648.8 1533.4h.01M648.8 1533.4h.01"/>
<path stroke-width="18" stroke-opacity="0.2" d="M932.2 1548.4h.01M862.6 1676.2h.01"/>
<path stroke-width="18" stroke-opacity="0.4" d="M980.3 1575.4h.01M869.5 1480.6h.01M838.8 1392.2h.01"/>
<path stroke-width="19" stroke-opacity="0.2" d="M775.4 1624.3h.01M649.5 1557.2h.01"/>
<path stroke-width="19" stroke-opacity="0.4" d="M787.5 1630.7h.01"/>
<path stroke-width="20" stroke-opacity="0.4" d="M869.5 1480.6h.01"/>
<path stroke-width="22" stroke-opacity="0.2" d="M585.2 1498.9h.01"/>
</g>
<g fill="none" stroke="#46447a" stroke-linecap="round">
<path stroke-width="1" stroke-opacity="0.4" d="M632.3 1457.8h.01M655.4 1599.4h.01M667.8 1472.7h.01M816 1520.1h.01M903.6 1420h.01M588.5 1469.8h.01M680.1 1634.8h.01M775.2 1658.1h.01"/>
<path stroke-width="2" stroke-opacity="0.4" d="M823.5 1564.4h.01M916.5 1649.1h.01M860.2 1471.6h.01M775.9 1323.8h.01M942.7 1463.9h.01M995.4 1383.5h.01M798 1568.9h.01M653.7 1502.7h.01M614.2 1469h.01M750.9 1425.1h.01M717.1 1391.9h.01M864.3 1580.9h.01M794.5 1311.6h.01M938.8 1617.4h.01M770.6 1312.7h.01M675.6 1614.9h.01M1010.3 1389h.01M812.4 1261.8h.01M1004.6 1561.4h.01M1021.9 1424.6h.01M734.8 1619h.01M823.3 1583.7h.01M980.1 1580.8h.01M740.2 1391.3h.01M879.9 1409.6h.01M660.3 1629.5h.01M797.8 1502.8h.01M876.1 1346.7h.01M711.8 1574.9h.01M846.7 1486h.01M852.1 1576.3h.01M845.2 1507.6h.01M783.9 1643h.01M753.9 1492.5h.01M652.9 1419.5h.01M909.9 1336.7h.01M807.5 1655.2h.01M629.3 1468.4h.01M817.3 1655.4h.01M656.6 1404.6h.01M683.5 1493.7h.01M837.5 1529.7h.01M742.5 1333.6h.01M952.7 1591h.01M702.2 1417.9h.01M621 1541h.01M684.7 1291h.01M777.8 1365.5h.01M725.2 1338.8h.01M857.1 1294.5h.01M760.7 1380.8h.01M679 1387.3h.01M719.1 1412.1h.01M779.3 1494.6h.01M744.2 1676.5h.01M828.2 1612.6h.01M633.9 1536.6h.01M905.7 1577.8h.01M882.9 1474.2h.01M801.2 1410.5h.01M850.1 1637.9h.01M713.5 1390.7h.01M688.2 1458h.01M631.4 1351.8h.01M958.2 1530.9h.01M981 1616.4h.01M800.9 1292.7h.01M912.9 1677.5h.01M677.3 1570.4h.01M973.6 1596.5h.01M846.9 1288.3h.01M968.6 1461.9h.01M647.5 1364.4h.01M898.6 1683h.01M623.7 1424.2h.01M698.1 1651.3h.01M870.8 1422.6h.01M753.5 1413.7h.01M892.8 1664.2h.01M853.2 1556.8h.01M777.6 1682.1h.01"/>
<path stroke-width="3" stroke-opacity="0.4" d="M701.2 1433.4h.01M768.9 1508.7h.01M648.9 1496.5h.01M834.7 1499.2h.01M645.1 1420.7h.01M849.3 1382.8h.01M787.7 1397.3h.01M661.3 1460.8h.01M725.1 1268.1h.01M890 1329.4h.01M613.4 1366.8h.01M891.1 1488.2h.01M997.6 1572.5h.01M818.7 1388.5h.01M828.7 1375.3h.01M843.1 1398.5h.01M786.6 1393.9h.01M868.5 1643.3h.01M940 1396.3h.01M737.1 1581.7h.01M961.9 1492.1h.01M909.8 1673h.01M935 1580.8h.01M843.1 1325.7h.01M928.8 1340.5h.01M658.9 1401.5h.01M993.8 1500.9h.01M878.1 1684.3h.01M684.9 1435.3h.01M772.7 1370.3h.01M826.8 1693h.01M948.9 1516.9h.01M687.5 1454.3h.01M861.7 1622.4h.01M960.5 1495.3h.01M820.1 1523.9h.01M868.6 1593h.01M807 1261.3h.01M704.1 1426.9h.01M884.8 1574.8h.01M952.6 1346.2h.01M794 1455h.01M832 1280.8h.01M725.9 1347.5h.01M905.2 1667.5h.01M812.4 1390h.01M779.2 1267h.01M739.8 1625.9h.01M834.2 1598.8h.01M980.7 1501.3h.01M989.9 1379h.01M758.2 1270.7h.01M650.2 1342.2h.01M759.1 1496.9h.01M990.4 1463.1h.01M639.5 1459.4h.01M847.5 1675.7h.01M869.1 1443.7h.01M883 1637.6h.01M970.9 1624.7h.01M739.3 1272.4h.01"/>
</g>
<g filter="url(#bS9)" fill="none" stroke="#46447a" stroke-linecap="round">
<path stroke-width="4" stroke-opacity="0.6" d="M685.9 1414.6h.01"/>
<path stroke-width="4" stroke-opacity="0.8" d="M778.1 1529.2h.01M769.2 1526.6h.01M920.3 1618.9h.01"/>
<path stroke-width="5" stroke-opacity="0.6" d="M947.9 1417.5h.01M855.7 1476.6h.01M858.7 1667.7h.01M853.6 1669h.01M717.5 1550.2h.01M749.5 1644h.01M920.2 1522.2h.01M1020.4 1473.9h.01M760.5 1668.7h.01M790.2 1262.9h.01M605.3 1474.3h.01M871.6 1603.6h.01M800 1489.5h.01"/>
<path stroke-width="5" stroke-opacity="0.8" d="M607.1 1416h.01M724.3 1551.3h.01M721.4 1653.1h.01M640.3 1463.5h.01M757.4 1359.8h.01M606.9 1552.6h.01M720.2 1550.8h.01M952.5 1645.8h.01M726.7 1650h.01M709 1612.2h.01M631.3 1566.7h.01M769.3 1525.7h.01M889.1 1418h.01M938.7 1636.1h.01M957.5 1428h.01M836.8 1481.9h.01M948.7 1472h.01M904.7 1301.1h.01M717.9 1468.9h.01M801.8 1290.4h.01M765.6 1595.8h.01"/>
<path stroke-width="5" d="M591.2 1486.1h.01M967.8 1337.5h.01M1026.1 1440.4h.01M922.8 1367.9h.01M1005.6 1432.9h.01M864 1310.5h.01M874.2 1517.7h.01M776.4 1479.9h.01"/>
<path stroke-width="6" stroke-opacity="0.6" d="M836.3 1533.2h.01M705.8 1308.2h.01M748.6 1646.8h.01M662.2 1640.7h.01M625.5 1567.8h.01M821.4 1423.2h.01M810.3 1675.3h.01"/>
<path stroke-width="6" stroke-opacity="0.8" d="M946.1 1626.5h.01M891.9 1605.8h.01M688.9 1494.4h.01M729 1556.6h.01M707.5 1682.2h.01M862 1567.2h.01M975.5 1352.2h.01M746.8 1345.2h.01M766.6 1596.6h.01M711.1 1535h.01M773.2 1336.2h.01M744.3 1492.3h.01M810.7 1640.7h.01M811.2 1584.3h.01M683.4 1592.7h.01M753.2 1390.8h.01M983.4 1435.8h.01M737.4 1588.2h.01"/>
<path stroke-width="6" d="M770.2 1468.5h.01M951.7 1520.8h.01M937.5 1310.7h.01M1020.3 1543.8h.01M817.2 1575.1h.01M766.3 1316.6h.01M794.3 1686.5h.01M898.3 1379h.01M762.2 1506.2h.01M832.3 1365.1h.01M641.3 1418.8h.01"/>
<path stroke-width="7" stroke-opacity="0.6" d="M915.7 1673.6h.01M713.5 1426.7h.01M848 1266.6h.01M750.7 1630.5h.01M690.3 1649h.01M968.7 1332.8h.01M703.1 1299.4h.01M860.7 1597.2h.01M936.3 1636.9h.01M753.5 1264.1h.01M849.5 1486.8h.01M839.2 1365.3h.01M826.2 1553.2h.01M728.2 1459.1h.01M728.7 1604.4h.01M634.8 1556.4h.01"/>
<path stroke-width="7" stroke-opacity="0.8" d="M669.3 1395.5h.01M852.1 1631.1h.01M897 1433.8h.01M933.2 1319.9h.01M720 1507.2h.01M703.4 1538.4h.01M845.2 1423.4h.01M892.7 1414.7h.01M633.5 1562.8h.01M917.3 1351.4h.01M886.9 1538.9h.01M894.9 1553.5h.01M593.3 1438.1h.01M653.5 1504.8h.01M746.3 1345h.01M672.6 1422.9h.01M941.3 1499.4h.01M864.8 1568.6h.01M731.1 1461.6h.01M983.1 1593.4h.01"/>
<path stroke-width="7" d="M774.1 1362.4h.01M931.7 1634.9h.01M714.7 1408.8h.01M883.4 1659.4h.01M996.6 1434.5h.01M630.1 1564.4h.01M825.9 1507.4h.01M793.4 1252.5h.01M851.1 1671.4h.01M819.6 1628.9h.01M962.1 1419.5h.01M983.9 1395.8h.01M797.4 1387.5h.01M1001 1431.5h.01M852.2 1314.9h.01"/>
<path stroke-width="8" stroke-opacity="0.6" d="M792 1439.6h.01M900.3 1578.6h.01M922.4 1538.5h.01M838.6 1502.2h.01M622.3 1349h.01M798.2 1285.6h.01M710.3 1600h.01M851.6 1670.5h.01M783.9 1323.1h.01M803.1 1642.2h.01M837.9 1582.2h.01M838.8 1474.3h.01M872.6 1298.6h.01M756.4 1424.8h.01M998.5 1587h.01M869.5 1480.6h.01M653.1 1646.1h.01M1002 1406.9h.01M944.3 1316.1h.01"/>
<path stroke-width="8" stroke-opacity="0.8" d="M938 1401.9h.01M930 1475.2h.01M995.2 1433.3h.01M609.6 1405.9h.01M955 1387.6h.01M906.2 1311.1h.01M678.6 1545.4h.01M643.4 1505.5h.01M932.2 1548.4h.01M782.5 1566.1h.01M882.5 1543.2h.01M1010.5 1384.8h.01M842.8 1586.9h.01M980.3 1575.4h.01M775.4 1624.3h.01M643 1596.4h.01M707.8 1573.3h.01M763.3 1448.9h.01M727.8 1571h.01M795.5 1688.3h.01M748.3 1620.2h.01M636.1 1628.5h.01"/>
<path stroke-width="8" d="M859.9 1561.9h.01M890.4 1493.5h.01M761 1267.5h.01M828 1366.9h.01M868.9 1379.8h.01M787.5 1630.7h.01M828.5 1499.3h.01M858.8 1488h.01M862.6 1676.2h.01M679.5 1627.8h.01"/>
<path stroke-width="9" stroke-opacity="0.6" d="M1006 1384.9h.01M968.2 1576.3h.01M585.2 1498.9h.01M648.8 1533.4h.01"/>
<path stroke-width="9" stroke-opacity="0.8" d="M621.2 1413.4h.01M612.3 1468.1h.01M1027.1 1437.5h.01M942.3 1637.5h.01M879.5 1595.6h.01M745.2 1357.8h.01M740.7 1537.8h.01M881 1412.5h.01M939 1524.8h.01M818 1299.2h.01M740 1512.7h.01M937.1 1643.3h.01M851.1 1476.4h.01M1010.1 1568.3h.01M1008.4 1571.3h.01M939 1299.7h.01M653.3 1425h.01M685.7 1465.6h.01"/>
<path stroke-width="9" d="M817 1635.3h.01M881.3 1603.8h.01M922.5 1668.3h.01M754.5 1344.7h.01M909.1 1318.6h.01M721.6 1464.2h.01M997.3 1436.2h.01M895.3 1490.4h.01M649.5 1557.2h.01M782.5 1396.6h.01M620.1 1483.8h.01M715.1 1605.6h.01"/>
<path stroke-width="10" stroke-opacity="0.6" d="M726.3 1480.2h.01M746.5 1282.3h.01M838.8 1392.2h.01"/>
<path stroke-width="10" stroke-opacity="0.8" d="M1010.9 1426.3h.01M943 1638.3h.01M861.1 1575.8h.01M685.9 1345.1h.01"/>
<path stroke-width="10" d="M900.6 1564.1h.01"/>
<path stroke-width="11" stroke-opacity="0.6" d="M858.8 1616.3h.01"/>
<path stroke-width="11" d="M611.1 1416.6h.01M653.3 1587.8h.01"/>
<path stroke-width="12" d="M717.9 1620.1h.01"/>
</g>
<rect x="575.3" y="1249.8" width="457.4" height="457.4" filter="url(#grain)" opacity="0.14"/>
<rect x="575.3" y="1249.8" width="457.4" height="457.4" filter="url(#grainw)" opacity="0.12"/>
<circle cx="804.0" cy="1478.5" r="228.2" fill="none" stroke="#5f5f6e" stroke-width="2" stroke-opacity="0.6" filter="url(#bR)"/>
</g>
<g clip-path="url(#pc6)">
<circle cx="1284.7" cy="1478.5" r="229.3" fill="url(#pg6)"/>
<g filter="url(#bL)" fill="none" stroke="#54576e" stroke-linecap="round">
<path stroke-width="7" stroke-opacity="0.2" d="M1256 1337.7v6M1395.9 1479.7v6M1170.6 1309.7v6M1307.7 1596.4v6M1396.5 1480.3v6"/>
<path stroke-width="7" stroke-opacity="0.4" d="M1165.8 1358.1v6M1339.3 1290.3v6M1343.7 1678.6v6M1218.2 1519.5v6M1276.9 1502.6v6M1265.5 1359.8v6M1225 1498.7v6M1331.6 1390.1v6M1156.3 1393.2v6"/>
<path stroke-width="8" stroke-opacity="0.2" d="M1256.5 1636.9v6M1104.8 1386v6M1310 1667.1v6M1419.8 1487.2v6M1272.2 1617.3v6M1323.5 1499.5v6M1160.9 1613.5v6M1167.9 1295.3v6M1086 1397.1v6M1337.3 1601v6M1320.1 1563.3v6M1308.4 1618.4v6M1271.4 1238.2v6M1265.1 1360.3v6"/>
<path stroke-width="8" stroke-opacity="0.4" d="M1219.5 1288.5v6M1420.8 1486.2v6M1322.4 1575.6v6M1224.3 1655.8v6M1140.7 1300.6v6M1309.8 1623.4v6M1293.1 1483.9v6M1340.3 1486.9v6M1272 1388.6v6M1497.7 1532v6M1220.4 1361.1v6M1344.4 1350.7v6M1431.7 1416.1v6M1293 1437v6M1296.1 1551.3v6M1199.8 1563.1v6M1265.3 1345.7v6M1129.2 1369.9v6M1475.9 1484.7v6M1362 1487.3v6M1084.9 1461.4v6M1299 1265v6M1277.6 1530v6M1065.8 1479.9v6M1320.9 1257.2v6M1295.3 1573.2v6M1131.5 1501.3v6M1131.5 1457.3v6M1222.7 1522.9v6M1271.7 1635.4v6M1180.5 1335.8v6M1420.2 1437v6"/>
<path stroke-width="8" stroke-opacity="0.6" d="M1183.3 1315v6"/>
<path stroke-width="9" stroke-opacity="0.2" d="M1189 1465.7v6M1245.4 1240.8v6M1414.3 1428.1v6M1343.7 1528.1v6M1142.8 1379.1v6M1182.2 1467.9v6M1442.3 1446.5v6M1305.2 1504.5v6M1461.5 1535.1v6M1479.7 1478.5v6M1250.6 1291.8v6M1343.7 1681v6M1393.2 1571.1v6"/>
<path stroke-width="9" stroke-opacity="0.4" d="M1374.2 1369.3v6M1423.7 1328v6M1425.6 1583.6v6M1514.5 1453.8v6M1143.3 1288.4v6M1162.1 1345.5v6M1299.7 1272.2v6M1269 1616.3v6M1307 1596.7v6M1365.3 1263.6v6M1317.1 1297.5v6M1264.5 1360.8v6M1167.2 1387.4v6M1131.2 1461.3v6M1068.2 1472v6M1077.3 1371.7v6M1425.5 1585.3v6M1310.5 1667.1v6M1181.2 1315.6v6M1246.7 1693v6M1238.2 1432.9v6M1274.9 1311.1v6M1408 1653.5v6M1206 1552.1v6M1267.7 1682v6"/>
<path stroke-width="10" stroke-opacity="0.2" d="M1143.2 1523.6v6M1212.1 1378.8v6M1337.1 1597.4v6M1460.9 1365.8v6M1090.5 1513.7v6M1229 1637.4v6M1241.3 1362.7v6M1365.9 1271.6v6M1251.5 1297.5v6M1330.6 1391.7v6M1340.3 1351.4v6"/>
<path stroke-width="10" stroke-opacity="0.4" d="M1304.7 1541.8v6M1409.3 1423.7v6M1334.5 1663.8v6M1348.6 1486.1v6M1209.3 1408.8v6M1391.8 1591.3v6M1163.2 1526.3v6M1295.4 1546.9v6M1251.2 1353.7v6M1161.5 1630.6v6M1387.6 1307.1v6M1340.5 1526.8v6M1430.6 1415.6v6M1392.1 1576v6M1320.9 1574v6M1087.9 1505.1v6M1452.1 1337.1v6M1092.3 1522.9v6M1151.2 1581.5v6M1191 1413.7v6M1407.5 1346.5v6M1459.6 1362.8v6M1177.5 1593.9v6M1341.8 1428.1v6M1181.7 1324.5v6"/>
<path stroke-width="10" stroke-opacity="0.6" d="M1158.4 1344.6v6"/>
<path stroke-width="11" stroke-opacity="0.2" d="M1297.2 1457.4v6M1287.6 1392.4v6M1079.5 1516.8v6M1201.2 1285.1v6M1081.1 1369.2v6M1288.6 1390.9v6M1474.7 1501.5v6M1143.6 1290.7v6M1248.5 1286v6M1431 1353v6M1289.6 1267.2v6"/>
<path stroke-width="11" stroke-opacity="0.4" d="M1334.1 1388.7v6M1086.7 1461.1v6M1231.2 1294.8v6M1459 1356.1v6M1439.2 1458.9v6M1355.3 1508.4v6M1191.7 1605.4v6M1172.9 1296.1v6M1100.9 1378.8v6M1423.3 1391.7v6M1218.9 1364.9v6M1346.8 1526.8v6M1091.3 1449v6M1394.1 1293.6v6M1066.4 1483.3v6M1305.5 1544.9v6M1377.7 1546.1v6M1268.5 1385.6v6M1332.7 1666.3v6M1270.1 1675.9v6M1352.3 1502.5v6M1158.6 1613.4v6M1292.4 1540.8v6M1134.6 1349.9v6M1235.7 1632.5v6M1296.6 1471.7v6M1102.9 1571v6M1387 1664.8v6M1183 1277.2v6M1344.6 1542.2v6M1269.4 1282.6v6"/>
<path stroke-width="11" stroke-opacity="0.6" d="M1425.6 1587.2v6"/>
<path stroke-width="12" stroke-opacity="0.2" d="M1182.3 1315.3v6M1176.9 1312v6M1355.2 1513.6v6M1260.1 1462.4v6M1351.9 1263v6"/>
<path stroke-width="12" stroke-opacity="0.4" d="M1345.2 1678.1v6M1331 1680.2v6M1224.1 1369.1v6M1066.7 1484.8v6M1439.1 1457.7v6M1351.6 1487.4v6M1100 1420.9v6M1273.3 1241.9v6M1134 1542.9v6M1464.5 1534.9v6M1300.1 1582.4v6M1234.5 1642.8v6M1188.4 1488.1v6M1202.2 1569.8v6M1178 1315.4v6M1172.8 1597.5v6"/>
</g>
<g filter="url(#bS11)" fill="none" stroke="#5e5e9c" stroke-linecap="round">
<path stroke-width="4" stroke-opacity="0.4" d="M1152.7 1592.5h.01M1162.8 1366.8h.01"/>
<path stroke-width="4" stroke-opacity="0.6" d="M1397.5 1490.9h.01M1330.8 1691.6h.01M1358.6 1474.7h.01M1424.5 1405.6h.01M1462.9 1544.9h.01M1249.6 1468.2h.01M1294.7 1459.8h.01M1223.7 1507.8h.01M1087.7 1398h.01M1216.6 1534.4h.01M1403 1549.3h.01M1432.8 1424.3h.01M1380.8 1292.7h.01M1290.5 1512.9h.01M1407.4 1472.1h.01"/>
<path stroke-width="4" stroke-opacity="0.8" d="M1129.5 1317.6h.01M1358 1286h.01M1095.1 1571.3h.01M1304.4 1555.8h.01M1505.1 1470h.01M1102.9 1581.2h.01M1403.4 1560.9h.01M1220.2 1306.3h.01M1472.9 1515.9h.01M1431.9 1430.8h.01M1423.7 1344.3h.01M1321.7 1400.7h.01M1092.4 1383.2h.01M1128.6 1382.6h.01M1238.1 1492.4h.01M1383.8 1287.1h.01M1303.9 1515.1h.01M1132.7 1561.4h.01M1261.8 1356.8h.01M1122.6 1436.9h.01"/>
<path stroke-width="5" stroke-opacity="0.4" d="M1257.6 1497.2h.01M1131.3 1475.2h.01M1369.7 1414.3h.01M1444.4 1419.4h.01M1174.5 1649h.01M1351.2 1469.5h.01M1222.9 1564.8h.01M1241.7 1375.6h.01M1234.4 1282.7h.01M1324.1 1506.8h.01M1418.4 1391.5h.01"/>
<path stroke-width="5" stroke-opacity="0.6" d="M1391.2 1319.8h.01M1386.8 1360.7h.01M1137.5 1506.1h.01M1326.3 1293.3h.01M1443.1 1347.5h.01M1398.7 1342.6h.01M1352.3 1512.8h.01M1299.6 1440.8h.01M1236.6 1678.6h.01M1212 1544.1h.01M1219.7 1374.5h.01M1191.2 1586.6h.01M1176.9 1329.9h.01M1295.6 1564.8h.01M1266.1 1633.2h.01M1475.7 1464h.01M1365.2 1278.9h.01M1221.7 1386.6h.01M1096 1576h.01M1459.6 1377.1h.01M1131.7 1466.7h.01M1454.3 1615.1h.01M1163.2 1627.6h.01M1181.8 1590.6h.01M1118.5 1437.7h.01M1146.1 1407.2h.01M1271.8 1251.3h.01M1342.1 1439h.01M1461.4 1514.8h.01M1134.3 1512h.01M1082.6 1533.9h.01M1506.1 1507.3h.01M1145.6 1303.1h.01M1137.9 1305.6h.01"/>
<path stroke-width="5" stroke-opacity="0.8" d="M1404 1447.7h.01M1066.8 1520.4h.01M1297 1454.2h.01M1279.5 1513.8h.01M1415.6 1631.7h.01M1423.9 1608.7h.01M1221.8 1288.1h.01M1407.5 1359.6h.01M1226.9 1632.9h.01M1224.3 1532.8h.01M1388.9 1317.4h.01M1132.4 1522.5h.01M1100.4 1429h.01M1346.5 1343.3h.01M1367.9 1285.2h.01M1170.1 1302.6h.01M1157.7 1356.8h.01M1377.4 1528.7h.01M1351.6 1277.9h.01M1204.4 1601.4h.01M1226 1314.5h.01M1434 1424.4h.01M1360.1 1326.9h.01M1432.7 1361h.01M1118.8 1456.8h.01M1351 1262.6h.01M1250.2 1593h.01M1306.3 1670.2h.01M1170 1609.6h.01M1300.4 1574.2h.01M1373 1381h.01M1223.3 1667.6h.01M1066.5 1497.3h.01M1255.8 1299.4h.01M1353.9 1280.3h.01M1311 1534.3h.01M1387.8 1347.4h.01M1241.3 1624.4h.01M1216.3 1692.3h.01M1457.1 1364.1h.01M1422.8 1431.1h.01M1222.7 1286.5h.01M1159.9 1628.6h.01M1305.9 1606.2h.01"/>
<path stroke-width="6" stroke-opacity="0.4" d="M1173.3 1502.6h.01M1232.4 1647h.01M1393.2 1599.7h.01M1332 1675.7h.01M1221.8 1539.5h.01M1211.5 1276.9h.01M1292.4 1447h.01M1070.1 1481.9h.01M1145 1623.5h.01M1258.7 1329.4h.01M1116.7 1348.1h.01M1161.7 1538h.01M1255.7 1512.4h.01M1138.9 1350.6h.01"/>
<path stroke-width="6" stroke-opacity="0.6" d="M1409.3 1434.5h.01M1229 1591.6h.01M1137.2 1470.1h.01M1168.7 1649.9h.01M1377.2 1614.4h.01M1478 1492.4h.01M1498.7 1542.6h.01M1255.5 1564.1h.01M1385.3 1328.4h.01M1306.1 1325h.01M1343.5 1540.5h.01M1440.4 1465.6h.01M1269.8 1298.7h.01M1168.3 1402.5h.01M1384.8 1306.9h.01M1258.7 1669.6h.01M1209.9 1597.1h.01M1259.5 1346.1h.01M1318.4 1314.5h.01M1277.5 1339.2h.01M1264.7 1268.2h.01M1342 1364.5h.01M1094.2 1459.4h.01M1141.6 1395.3h.01M1286 1615.2h.01M1376.8 1559.7h.01M1407.7 1556.7h.01M1306.7 1599.1h.01M1306.9 1580.3h.01M1216.1 1374.4h.01M1334.6 1409h.01M1082.2 1479.4h.01M1204.7 1312.5h.01M1176 1604.6h.01M1078.7 1384h.01M1173.5 1622h.01M1249.9 1493.6h.01M1207.7 1615.6h.01M1391.1 1515.4h.01M1220 1501.2h.01M1270.7 1630.8h.01M1237.5 1439.3h.01M1200.2 1475.5h.01"/>
<path stroke-width="6" stroke-opacity="0.8" d="M1319.8 1585h.01M1320.4 1575.9h.01M1312.6 1678.7h.01M1213.5 1389.5h.01M1299.7 1282.1h.01M1425.7 1599h.01M1291.8 1277.9h.01M1086.1 1470.9h.01M1419.3 1456.8h.01M1336.3 1611.9h.01M1190.7 1481.7h.01M1182.3 1482.2h.01M1241.8 1572.4h.01M1289.8 1584.8h.01M1360.1 1498.1h.01M1150.1 1299.2h.01M1269.5 1385.5h.01M1330 1402.1h.01M1263.1 1375.5h.01M1143.8 1376.2h.01M1314.6 1362.7h.01M1259.7 1398.2h.01M1286.1 1640.6h.01M1345.3 1689.2h.01M1417.5 1334.2h.01M1264.8 1585.9h.01M1448.2 1349.8h.01M1171.4 1322.8h.01M1269.5 1399h.01M1235.1 1312h.01M1375.6 1380.6h.01M1299.2 1591.4h.01M1219.1 1583.9h.01M1216.4 1490.5h.01"/>
<path stroke-width="7" stroke-opacity="0.4" d="M1412.9 1495.6h.01M1087.8 1517.9h.01M1455.1 1622.1h.01M1355.4 1385.2h.01M1136.5 1487.4h.01M1245.3 1529.9h.01M1424 1338h.01"/>
<path stroke-width="7" stroke-opacity="0.6" d="M1274.6 1592.8h.01M1423.2 1564.3h.01M1365 1444.6h.01M1418.3 1571.9h.01M1178.3 1325.1h.01M1391.8 1588h.01M1390.4 1584.2h.01M1298.3 1605.6h.01M1282.3 1600.7h.01M1092.8 1560.6h.01M1132.9 1627.8h.01M1346.5 1326.9h.01M1482.5 1525.8h.01M1208.6 1556.6h.01M1258 1363.5h.01M1407.9 1663.8h.01M1310 1344.1h.01M1185.7 1288.2h.01M1395.7 1559.6h.01M1083.4 1530.1h.01M1396.4 1304.5h.01M1167.5 1505.4h.01M1206.5 1296.1h.01M1429.8 1527.2h.01M1346.3 1498.4h.01M1079.1 1511.2h.01M1142.6 1319.5h.01M1473.3 1571.7h.01M1126 1527.7h.01M1247.2 1367.7h.01M1290.2 1403.5h.01M1143 1542.4h.01M1408 1441.5h.01M1192.7 1617.9h.01M1296.3 1554.1h.01M1065.4 1526.8h.01M1474.1 1517.3h.01"/>
<path stroke-width="7" stroke-opacity="0.8" d="M1158.5 1611.2h.01M1155.2 1405.3h.01M1400.2 1348.9h.01M1193.6 1638.6h.01M1172.9 1328.8h.01M1127.3 1387.1h.01M1295.2 1586.4h.01M1249.5 1336.5h.01M1308.3 1629.7h.01M1249.9 1304.1h.01M1150.6 1478.3h.01M1140.8 1530.5h.01M1298.3 1333.8h.01M1133.1 1363.5h.01M1303.3 1427.1h.01M1341.8 1617.9h.01M1350 1502.7h.01M1104.8 1485.7h.01M1349.2 1304.3h.01M1250 1310.2h.01M1261.3 1469.7h.01M1254.2 1283.4h.01M1341.5 1575.5h.01M1195.1 1296.9h.01M1262.5 1422.3h.01M1465.2 1577.8h.01M1233.9 1308.7h.01M1105.5 1433.5h.01M1420.8 1500.2h.01M1198.9 1608.5h.01M1254 1691.1h.01M1249.2 1703.1h.01M1341.9 1554.3h.01M1278.9 1545.2h.01M1222.5 1293.6h.01M1345.3 1318.4h.01M1233 1407.8h.01M1355.3 1651.9h.01M1449.5 1597.4h.01M1250.8 1417.2h.01M1291.5 1496.6h.01M1116.3 1416.8h.01M1170.3 1305.8h.01M1064.4 1534.6h.01M1430.7 1626h.01M1274.8 1328.9h.01"/>
<path stroke-width="8" stroke-opacity="0.4" d="M1246.3 1256.6h.01M1401.1 1502.3h.01M1380.5 1628.6h.01M1308.1 1556.4h.01"/>
<path stroke-width="8" stroke-opacity="0.6" d="M1394.6 1590h.01M1175.5 1500.5h.01M1356.7 1523.3h.01M1295.1 1551.1h.01M1218 1374.7h.01M1083.2 1406.3h.01M1499.9 1418.1h.01M1092.8 1404.7h.01M1454 1484.2h.01M1482.7 1579.2h.01M1266.8 1654.1h.01M1161 1642.6h.01M1163.9 1592.6h.01M1437.3 1430.3h.01M1139.1 1314.4h.01M1177.5 1498.3h.01M1166.8 1369.6h.01M1137.4 1599.7h.01M1377.1 1664h.01M1283.2 1436.8h.01M1233.5 1653h.01M1188.8 1419.6h.01M1348.3 1660h.01M1251 1262.8h.01M1273.7 1267.9h.01M1296.3 1690.1h.01M1246.9 1578.8h.01M1184.5 1636.9h.01M1360 1507.5h.01M1224.8 1406.6h.01M1091.9 1528.3h.01M1179.7 1344.8h.01"/>
<path stroke-width="8" stroke-opacity="0.8" d="M1251.7 1364.3h.01M1187 1501.6h.01M1188.2 1330.9h.01M1207.3 1567.5h.01M1298.3 1472.9h.01M1288.2 1644.1h.01M1104.8 1393.2h.01M1322.7 1267.6h.01M1203.7 1574.6h.01M1210.1 1531.4h.01M1135.5 1466.5h.01M1102.2 1532.8h.01M1270 1640.7h.01M1163.3 1357.4h.01M1269.4 1687.6h.01M1298.7 1556.8h.01M1285 1532.4h.01M1361.4 1501.7h.01M1342.4 1294.6h.01M1300.7 1483.9h.01M1454.7 1328.4h.01M1511.8 1461.9h.01M1269.7 1436.6h.01M1182.9 1496.4h.01M1306.9 1489.6h.01"/>
<path stroke-width="9" stroke-opacity="0.4" d="M1386.1 1676.5h.01M1256.6 1648.5h.01"/>
<path stroke-width="9" stroke-opacity="0.6" d="M1343 1303.1h.01M1222 1381h.01M1433.1 1419.5h.01M1271 1381.6h.01"/>
<path stroke-width="9" stroke-opacity="0.8" d="M1414.5 1440.9h.01M1088.9 1589.7h.01"/>
<path stroke-width="10" stroke-opacity="0.6" d="M1179.7 1323h.01M1246.4 1322.6h.01"/>
<path stroke-width="10" stroke-opacity="0.8" d="M1099.8 1570.6h.01M1206.7 1419.4h.01"/>
</g>
<rect x="1055.4" y="1249.2" width="458.6" height="458.6" filter="url(#grain)" opacity="0.14"/>
<rect x="1055.4" y="1249.2" width="458.6" height="458.6" filter="url(#grainw)" opacity="0.12"/>
<circle cx="1284.7" cy="1478.5" r="228.8" fill="none" stroke="#6c6e87" stroke-width="2" stroke-opacity="0.6" filter="url(#bR)"/>
</g>
<g clip-path="url(#pc7)">
<circle cx="1768.3" cy="1478.5" r="228.7" fill="url(#pg7)"/>
<g filter="url(#bH)" fill="none" stroke="#323094" stroke-linecap="round">
<path stroke-width="9" stroke-opacity="0.2" d="M1827.2 1436h.01M1837.7 1598h.01M1659 1552.8h.01M1673.9 1292.1h.01M1712.7 1425.9h.01"/>
<path stroke-width="9" stroke-opacity="0.4" d="M1884.3 1596.4h.01M1810.5 1333.8h.01M1817.3 1499.1h.01M1670.9 1467.5h.01"/>
<path stroke-width="10" stroke-opacity="0.2" d="M1840 1592.3h.01M1833.9 1438.4h.01M1810 1342.9h.01M1783.4 1271.2h.01M1783.4 1271.2h.01M1827.2 1436h.01"/>
<path stroke-width="10" stroke-opacity="0.4" d="M1956.8 1394.3h.01M1614.3 1567.2h.01M1956.8 1394.3h.01M1843.3 1472.8h.01M1840.1 1594.1h.01M1718.2 1453.9h.01M1729.2 1319.1h.01M1653.6 1577.2h.01M1707.8 1319.5h.01M1870 1637.1h.01M1632.9 1470.3h.01"/>
<path stroke-width="11" stroke-opacity="0.2" d="M1800.3 1282.4h.01M1676.8 1495h.01M1616.7 1509.1h.01M1871.6 1402.2h.01M1649.7 1463.9h.01M1829.4 1473.7h.01M1650.9 1361.3h.01"/>
<path stroke-width="11" stroke-opacity="0.4" d="M1754.3 1637.5h.01M1798.8 1271.5h.01M1601.7 1441.3h.01M1625.9 1455.7h.01M1851.7 1582.3h.01M1754.3 1637.5h.01M1614.3 1567.2h.01M1985.7 1420h.01M1910 1421.7h.01M1645 1335.1h.01M1670.5 1352.7h.01M1838.2 1468.9h.01M1904.2 1593h.01M1678.2 1393h.01M1784.2 1591h.01M1890.5 1479.1h.01M1829.6 1483.5h.01M1739.7 1502.4h.01"/>
<path stroke-width="12" stroke-opacity="0.2" d="M1863.8 1313.9h.01M1843.1 1391.1h.01M1709.1 1592.9h.01M1654.2 1333.8h.01M1829.1 1316.6h.01M1755.7 1312.1h.01M1635.4 1620.1h.01M1836.1 1337h.01M1726.1 1317.3h.01M1893.7 1592h.01"/>
<path stroke-width="12" stroke-opacity="0.4" d="M1620.1 1400.7h.01M1942.6 1517.8h.01M1707 1285.9h.01M1793.1 1643.8h.01M1800.3 1282.4h.01M1745.2 1654.3h.01M1737.4 1622.9h.01M1772.2 1512.8h.01M1712.4 1566.4h.01M1707.5 1379.3h.01M1692.4 1535.4h.01M1646.6 1438.3h.01M1919.6 1564.1h.01"/>
<path stroke-width="13" stroke-opacity="0.2" d="M1853.7 1481.8h.01M1574.5 1556.6h.01M1754.3 1637.5h.01M1985.7 1420h.01M1554 1407h.01M1751.1 1491.9h.01M1731.1 1634.4h.01M1782.7 1284.7h.01M1841.7 1648.7h.01M1639 1445.1h.01M1670.7 1578.1h.01M1796.9 1597.4h.01M1850.6 1415.3h.01M1692 1518.2h.01M1574.5 1556.6h.01"/>
<path stroke-width="13" stroke-opacity="0.4" d="M1571.7 1428.3h.01M1828.1 1645.9h.01M1833.9 1438.4h.01M1978.4 1505.5h.01M1598.1 1566.5h.01M1914 1473h.01M1835.7 1274.3h.01M1901.6 1299.9h.01M1669.7 1278.7h.01M1598.8 1376.6h.01M1701.5 1661.3h.01M1828 1501.7h.01M1875.8 1611.3h.01M1765.6 1357.7h.01M1800.8 1672h.01M1633.3 1314.1h.01M1909.2 1366.9h.01M1633.7 1481.2h.01M1669.2 1537h.01M1978.4 1505.5h.01M1560.8 1560.7h.01"/>
<path stroke-width="14" stroke-opacity="0.2" d="M1956.8 1394.3h.01M1822.4 1324h.01M1897.2 1542.9h.01M1673.9 1482.4h.01M1825.8 1623.9h.01M1707.8 1319.5h.01M1803.5 1663.7h.01M1821.7 1436.9h.01M1700.1 1513.2h.01M1877.5 1412.8h.01M1748.3 1315.7h.01M1749 1652h.01"/>
<path stroke-width="14" stroke-opacity="0.4" d="M1955.7 1585.1h.01M1604.1 1600.1h.01M1745.3 1465.9h.01M1671.9 1613.3h.01M1629.9 1603.3h.01M1696.2 1506.5h.01M1598.5 1391.3h.01M1978.1 1396.1h.01M1728.7 1581.1h.01M1673.4 1549.2h.01M1966.4 1391.5h.01M1685 1671h.01M1754.3 1538.1h.01M1880.8 1455.5h.01M1894 1639h.01M1965.2 1435.3h.01M1619.3 1457.2h.01M1758.7 1402.4h.01M1582.3 1382.4h.01M1645.1 1626.2h.01M1877.5 1412.8h.01M1893.2 1474h.01M1661.5 1399h.01M1846.3 1590.2h.01"/>
<path stroke-width="15" stroke-opacity="0.2" d="M1847.6 1437.6h.01M1796.9 1597.4h.01M1890.3 1564.5h.01M1902.2 1641.5h.01M1663.9 1323.2h.01M1821.6 1695.9h.01M1660.9 1502.4h.01M1868.9 1587h.01M1906.1 1450h.01M1887.8 1404.3h.01M1574.3 1373.7h.01M1620.8 1475.3h.01M1810.9 1288h.01M1584.2 1400.3h.01M1667 1584.9h.01"/>
<path stroke-width="15" stroke-opacity="0.4" d="M1633.4 1485h.01M1739.4 1466.3h.01M1806.7 1607.9h.01M1681.1 1620.5h.01M1865.3 1401.1h.01M1770.8 1679.7h.01M1950 1443.7h.01M1650.3 1509.2h.01M1738.5 1364.6h.01M1672.9 1502h.01"/>
<path stroke-width="16" stroke-opacity="0.2" d="M1685 1352.4h.01M1730.5 1591h.01M1902.2 1641.5h.01M1806.7 1607.9h.01M1708.1 1542.3h.01M1562.5 1411.1h.01M1778.7 1425.9h.01M1776.7 1554.9h.01M1844.7 1603.4h.01M1885.2 1374.8h.01M1618.8 1632.5h.01"/>
<path stroke-width="16" stroke-opacity="0.4" d="M1867.4 1435.5h.01M1898.1 1481.9h.01M1824.5 1644.1h.01M1832.6 1355.3h.01M1841.3 1444.4h.01M1690.2 1537.4h.01M1712.5 1563.6h.01M1981.4 1455.6h.01M1771.3 1558.2h.01M1799.2 1429.5h.01M1754.9 1409.4h.01M1608.8 1512h.01M1609.7 1408.1h.01M1837.9 1390.1h.01M1619.9 1467.9h.01M1736.4 1505.4h.01M1696.9 1267.9h.01M1907.3 1322.4h.01"/>
<path stroke-width="17" stroke-opacity="0.2" d="M1875.8 1611.3h.01M1814.8 1414.6h.01M1842.7 1578.6h.01M1857.2 1680.2h.01M1766.9 1669.7h.01M1549.7 1517.5h.01M1765.5 1663h.01M1571.8 1555.6h.01M1881.3 1315.1h.01M1675.3 1646.1h.01M1752.3 1441.9h.01"/>
<path stroke-width="17" stroke-opacity="0.4" d="M1875.8 1611.3h.01M1741.9 1496.2h.01M1840.3 1509.2h.01M1663.9 1458.1h.01M1916.2 1571.2h.01M1652.4 1641.1h.01M1978.4 1505.5h.01M1771.3 1558.2h.01M1762.3 1304.7h.01M1867.1 1533.9h.01M1762.2 1275.9h.01M1940.7 1381.7h.01M1727.4 1464.7h.01M1868.8 1336.5h.01M1841 1395.3h.01M1935.7 1449.3h.01M1837.9 1390.1h.01M1646.7 1409.5h.01M1751.1 1491.9h.01"/>
<path stroke-width="18" stroke-opacity="0.2" d="M1935.3 1439.2h.01M1971 1468.9h.01M1909.3 1481.4h.01M1842.8 1627.8h.01M1868.3 1308.2h.01M1741.1 1642.1h.01M1727 1398.8h.01M1847.2 1468.9h.01M1555 1424.4h.01M1544.1 1475.7h.01"/>
<path stroke-width="18" stroke-opacity="0.4" d="M1843.5 1506.7h.01M1855.3 1587.9h.01M1857.6 1674.2h.01M1621.4 1409.8h.01M1555 1424.4h.01M1748.2 1693.9h.01M1875 1416.5h.01M1712.9 1660.2h.01M1596.8 1480.9h.01M1735.4 1621.4h.01M1799.2 1429.5h.01M1893.2 1474h.01M1605.2 1514.9h.01M1702 1551.1h.01M1703.1 1653h.01M1719.6 1554.1h.01M1931.8 1450.8h.01M1754.3 1251.9h.01M1879.8 1364.2h.01"/>
<path stroke-width="19" stroke-opacity="0.2" d="M1690.2 1537.4h.01M1584.2 1400.3h.01M1621.9 1366.6h.01M1834.6 1279.9h.01M1854.7 1586.8h.01M1857.2 1680.2h.01M1573.3 1449.7h.01M1929.8 1426.6h.01M1811 1638h.01"/>
<path stroke-width="19" stroke-opacity="0.4" d="M1601.7 1541.6h.01M1844.8 1489.2h.01M1912.3 1493.2h.01M1707.3 1386.7h.01M1854.8 1340.3h.01M1834.6 1279.9h.01M1834.6 1279.9h.01M1933.9 1491.5h.01M1929.8 1426.6h.01M1941.9 1485.1h.01M1574.3 1373.7h.01M1681.3 1293.6h.01M1717.3 1335.8h.01M1802.5 1441.4h.01M1834.1 1263.5h.01"/>
<path stroke-width="20" stroke-opacity="0.2" d="M1675.3 1646.1h.01M1696.1 1299.3h.01M1620.6 1310.2h.01M1867.2 1293.3h.01M1714.9 1594.4h.01M1625.3 1551.1h.01M1802.5 1441.4h.01"/>
<path stroke-width="20" stroke-opacity="0.4" d="M1563.5 1480.6h.01M1580.8 1556.5h.01M1894.2 1582.6h.01M1748.2 1693.9h.01M1737.9 1700.4h.01M1748.8 1315.8h.01M1833.1 1306.5h.01M1631.4 1450.2h.01M1789.1 1500h.01M1704.9 1574.7h.01M1743.8 1560.1h.01M1709.6 1592.5h.01M1925.3 1426.2h.01M1816.9 1662.7h.01"/>
<path stroke-width="21" stroke-opacity="0.2" d="M1818.3 1588.3h.01M1816.9 1662.7h.01M1973.8 1448.1h.01M1867.1 1533.9h.01M1824.3 1394.6h.01M1661.7 1384.1h.01M1806.5 1470.4h.01M1802.5 1441.4h.01"/>
<path stroke-width="21" stroke-opacity="0.4" d="M1743.8 1560.1h.01M1947.5 1461.5h.01M1665.4 1435.6h.01M1702.5 1505.9h.01M1831.2 1315.8h.01M1776.7 1554.9h.01M1807.3 1551.9h.01"/>
<path stroke-width="22" stroke-opacity="0.2" d="M1926.5 1317.7h.01M1570.9 1509.7h.01M1809.2 1485.1h.01M1777.9 1557.1h.01M1813.4 1399.8h.01M1729.8 1581h.01M1592 1352h.01"/>
<path stroke-width="22" stroke-opacity="0.4" d="M1981.2 1510.3h.01M1931.8 1450.8h.01M1681.1 1609.3h.01M1967.3 1525.9h.01M1843.5 1506.7h.01M1601.6 1433.4h.01M1609.7 1408.1h.01M1816.9 1662.7h.01M1620.6 1310.2h.01M1967.3 1525.9h.01"/>
<path stroke-width="23" stroke-opacity="0.2" d="M1835.3 1374.2h.01"/>
<path stroke-width="23" stroke-opacity="0.4" d="M1616.9 1440.8h.01M1806.5 1470.4h.01M1675.7 1511.3h.01M1808.8 1418.5h.01M1812.9 1363.1h.01M1563.5 1480.6h.01"/>
<path stroke-width="24" stroke-opacity="0.4" d="M1931.8 1450.8h.01M1905.8 1400.2h.01M1687.5 1497.1h.01M1973.8 1538.6h.01"/>
<path stroke-width="25" stroke-opacity="0.2" d="M1820.8 1524.9h.01"/>
<path stroke-width="25" stroke-opacity="0.4" d="M1583.5 1365.3h.01"/>
<path stroke-width="29" stroke-opacity="0.4" d="M1573.7 1503.6h.01"/>
</g>
<g filter="url(#bB)">
<ellipse cx="1563.3" cy="1438.5" rx="22" ry="80" fill="#2d2a87" fill-opacity="0.5"/>
<ellipse cx="1973.3" cy="1498.5" rx="22" ry="90" fill="#2d2a87" fill-opacity="0.5"/>
<ellipse cx="1768.3" cy="1696.5" rx="90" ry="14" fill="#2d2a87" fill-opacity="0.4"/>
<ellipse cx="1648.3" cy="1298.5" rx="50" ry="25" fill="#32308c" fill-opacity="0.3"/>
</g>
<g filter="url(#bS12)" fill="none" stroke="#323094" stroke-linecap="round">
<path stroke-width="5" stroke-opacity="0.6" d="M1707.6 1445.3h.01M1567.8 1492.6h.01M1950.3 1439.6h.01M1587.8 1366.4h.01M1753 1564.3h.01M1872.6 1341h.01M1828 1501.7h.01M1685 1428.5h.01M1829.6 1483.5h.01M1877.1 1560h.01M1821.3 1630.7h.01M1910 1421.7h.01M1817.3 1499.1h.01M1739.6 1295.1h.01M1670.9 1467.5h.01M1868 1564.9h.01M1659 1552.8h.01M1881.9 1449.9h.01M1806 1627.8h.01M1783.4 1568.6h.01"/>
<path stroke-width="5" stroke-opacity="0.8" d="M1736.5 1610.1h.01M1586.2 1350h.01M1761.2 1445.2h.01M1678.2 1393h.01M1935 1507.1h.01M1576.5 1525.1h.01M1712.5 1528.7h.01M1783.4 1271.2h.01M1564.9 1493.3h.01M1872.2 1440.8h.01M1712.7 1425.9h.01M1783.3 1586.9h.01M1927.6 1513.1h.01M1894 1406h.01M1783.9 1622.2h.01M1632.9 1470.3h.01M1691.2 1507.8h.01M1697.4 1356.5h.01M1840.1 1594.1h.01M1784.2 1591h.01M1707.5 1379.3h.01M1683 1427.2h.01M1625.9 1455.7h.01M1863.1 1537.2h.01M1772.2 1512.8h.01"/>
<path stroke-width="5" d="M1884.6 1605h.01M1827.2 1436h.01M1695.4 1474.3h.01M1982 1467.7h.01M1634.2 1397.4h.01M1871.6 1402.2h.01M1971 1514.3h.01M1650.9 1361.3h.01M1720.5 1267.4h.01M1863.8 1313.9h.01M1600.6 1531.6h.01M1718.2 1319.4h.01M1667.5 1479.9h.01M1888.5 1529.8h.01M1651.9 1285.1h.01M1990.5 1470.1h.01"/>
<path stroke-width="6" stroke-opacity="0.6" d="M1700.4 1438.9h.01M1982.3 1428.5h.01M1979.2 1462h.01M1857.1 1579.1h.01M1581.2 1588h.01M1850 1311.4h.01M1830.6 1516.5h.01M1973.7 1539.1h.01M1850.8 1421.6h.01M1568.1 1557.8h.01M1881 1385.1h.01M1962.8 1462.7h.01M1710.9 1580.1h.01M1736.5 1680.3h.01M1598.8 1376.6h.01M1677.8 1405.2h.01M1865 1432.1h.01M1914 1473h.01M1740.2 1373.6h.01M1658.7 1416.9h.01M1834.4 1271h.01M1669.2 1537h.01M1912 1421.3h.01M1662.1 1365.7h.01M1732.9 1639.5h.01M1666.1 1462.3h.01M1547.6 1438.7h.01M1596.6 1560.2h.01M1731 1561.9h.01M1825.3 1421.8h.01M1798.8 1271.5h.01M1805.2 1670.6h.01M1976.3 1543.9h.01M1656.1 1465.1h.01M1739.7 1502.4h.01M1942.6 1517.8h.01M1965.2 1435.3h.01M1708.5 1445.8h.01M1845.6 1307h.01M1708.5 1406h.01M1673.4 1549.2h.01M1601.7 1441.3h.01M1782.7 1584.6h.01M1567.9 1567.1h.01M1866.5 1557.2h.01M1634 1605.4h.01M1787.4 1699.7h.01M1729.2 1319.1h.01M1784.3 1465.3h.01M1833.9 1438.4h.01M1858.3 1283.5h.01M1712.7 1660.6h.01M1742.2 1507.8h.01M1676.8 1495h.01M1829.4 1473.7h.01M1893.7 1592h.01M1840.8 1294.4h.01M1806.1 1294.6h.01M1871.8 1436.5h.01M1660.2 1331.3h.01M1936.2 1553h.01M1739.9 1256.1h.01M1739.3 1574.2h.01M1682.3 1312.8h.01M1708.9 1437.3h.01M1679.5 1645.6h.01M1806 1517.6h.01M1862.4 1580.7h.01M1705.4 1348.5h.01M1828.7 1560.3h.01M1574.5 1556.6h.01M1667 1584.9h.01M1658.1 1545.3h.01M1815.9 1527.4h.01M1867.7 1660.3h.01M1639 1445.1h.01M1641.5 1660.9h.01M1985.7 1420h.01M1688.6 1611.6h.01M1766.7 1577.2h.01M1939.3 1431h.01M1755.9 1321.3h.01M1937.3 1447.1h.01M1897 1368h.01M1904.2 1593h.01M1718.2 1453.9h.01M1840 1592.3h.01M1793.1 1643.8h.01M1800.3 1282.4h.01"/>
<path stroke-width="6" stroke-opacity="0.8" d="M1685.2 1650.4h.01M1819.6 1489.2h.01M1859.7 1315.1h.01M1897.2 1542.9h.01M1707.8 1319.5h.01M1678.4 1667.5h.01M1952.2 1501.1h.01M1673.9 1292.1h.01M1744.2 1698.4h.01M1624 1591.8h.01M1876.2 1638.5h.01M1745.2 1654.3h.01M1709.1 1592.9h.01M1586.4 1353.5h.01M1754.3 1637.5h.01M1849.1 1477.8h.01M1841.3 1653h.01M1737.5 1631h.01M1864 1421h.01M1821.2 1408.5h.01M1843.1 1391.1h.01M1645 1335.1h.01M1646.6 1438.3h.01M1977.8 1494.9h.01M1843.3 1472.8h.01M1861.2 1599.5h.01M1671.5 1582.4h.01M1859.1 1360.6h.01M1707 1285.9h.01M1782.2 1573.5h.01M1765.6 1357.7h.01M1890.5 1479.1h.01M1942.1 1464.3h.01M1603 1620.1h.01M1758.7 1529.5h.01M1814.3 1316.2h.01M1747.3 1597.9h.01M1823.3 1637.6h.01M1637.4 1556h.01M1624.4 1376.1h.01M1837.7 1598h.01M1722.2 1260h.01M1649.7 1463.9h.01M1819.6 1505.5h.01M1774.6 1374.5h.01M1983.3 1484.8h.01M1862.2 1561.8h.01M1669.7 1278.7h.01M1751.8 1292.9h.01M1635.4 1620.1h.01M1929.2 1500.8h.01M1746.2 1474.2h.01M1799.9 1476.1h.01M1574.2 1570.2h.01M1899.8 1559.6h.01M1798.5 1415.4h.01M1810 1342.9h.01M1695 1548.7h.01M1663.9 1323.2h.01M1833.3 1508.7h.01M1808.6 1492.7h.01M1893.4 1441h.01M1819.7 1522.1h.01M1700.1 1461.4h.01"/>
<path stroke-width="6" d="M1826.4 1483h.01M1976.8 1468.5h.01M1851.5 1583.3h.01M1738.5 1433h.01M1829.1 1316.6h.01M1967 1508.5h.01M1868.4 1542.2h.01M1722.8 1573.9h.01M1942.3 1582.8h.01M1861.9 1425.3h.01M1712.4 1566.4h.01M1610.8 1336h.01M1651.7 1596.2h.01M1758.5 1278.7h.01M1647.3 1287.7h.01M1634.3 1553.8h.01M1728.7 1581.1h.01M1956.8 1394.3h.01M1870 1637.1h.01M1743.9 1450.7h.01M1812.9 1486.3h.01M1810.5 1333.8h.01M1873.1 1528.1h.01M1672.3 1347.9h.01M1758.7 1402.4h.01M1614.3 1567.2h.01M1542.9 1482.6h.01M1869.6 1587.2h.01M1679.5 1276.4h.01M1759.5 1536.4h.01M1616.7 1509.1h.01M1653.6 1577.2h.01M1729.6 1407.8h.01M1579.1 1580.1h.01M1832.8 1680.4h.01M1924.4 1429h.01M1884.3 1596.4h.01"/>
<path stroke-width="7" stroke-opacity="0.6" d="M1823.5 1434h.01M1867.5 1660.2h.01M1838.2 1480.6h.01M1675.6 1287.2h.01M1739.4 1466.3h.01M1685 1671h.01M1654.2 1333.8h.01M1865.2 1543.9h.01M1579.9 1555.7h.01M1749.7 1655.9h.01M1725.8 1580.5h.01M1892.2 1377.6h.01M1846.3 1590.2h.01M1676.9 1402.2h.01M1938.5 1526.2h.01M1701.5 1509.9h.01M1796.1 1342.7h.01M1944 1386.1h.01M1571.7 1428.3h.01M1754.8 1306.5h.01M1834 1430h.01M1684.9 1486.2h.01M1837.7 1633.6h.01M1619.3 1457.2h.01M1840.2 1507.5h.01M1683.8 1300.2h.01M1776.1 1643h.01M1665.4 1645.4h.01M1683.5 1673h.01M1743.6 1375.9h.01M1843.9 1444h.01M1677.2 1490.9h.01M1893.8 1465.1h.01M1835.7 1274.3h.01M1727.4 1464.7h.01M1805 1542.2h.01M1601.5 1443.8h.01M1675.9 1293.7h.01M1670.5 1352.7h.01M1762.3 1304.7h.01M1854.5 1307h.01M1862 1566.9h.01M1956.4 1482h.01M1726.1 1317.3h.01M1771.1 1458.5h.01M1722.8 1497.4h.01M1645.1 1626.2h.01M1949.7 1501.2h.01M1873.3 1410.1h.01M1713.9 1453.1h.01M1580 1442.2h.01M1753.7 1288.3h.01M1667 1473.9h.01M1563.5 1427.2h.01M1981.4 1455.6h.01M1722.5 1388h.01M1782.7 1284.7h.01M1978.1 1396.1h.01M1616.1 1629.2h.01M1810.8 1447.2h.01M1853.7 1481.8h.01M1752.3 1484.9h.01M1880.8 1455.5h.01M1784 1594.6h.01M1940.7 1381.7h.01M1924.9 1392.8h.01M1854.9 1519.9h.01M1728.7 1322.3h.01M1898.6 1369.6h.01M1835 1650.7h.01M1575.9 1504.2h.01M1897.5 1603.1h.01M1850.6 1592.9h.01M1865.2 1594.2h.01M1693.4 1289.4h.01M1652.7 1510.1h.01M1696.2 1506.5h.01M1851.7 1582.3h.01M1736.6 1458.2h.01M1909.2 1366.9h.01M1915.9 1343.6h.01M1639 1430.3h.01M1816.9 1485.9h.01M1734.6 1580.6h.01M1941.1 1549.3h.01"/>
<path stroke-width="7" stroke-opacity="0.8" d="M1822.1 1481.9h.01M1838.2 1468.9h.01M1823.9 1435h.01M1899.4 1383.8h.01M1834.7 1474.3h.01M1669.8 1505.3h.01M1839.1 1482.2h.01M1844.3 1545.2h.01M1712.5 1563.6h.01M1737.4 1622.9h.01M1852.1 1662.5h.01M1713.4 1351.9h.01M1949.6 1517.2h.01M1884.7 1641.5h.01M1689.6 1513h.01M1964.6 1396.3h.01M1833 1406.3h.01M1853.6 1355.3h.01M1909.3 1481.4h.01M1745.3 1465.9h.01M1984.6 1457.8h.01M1850.6 1415.3h.01M1846.4 1392.6h.01M1965.6 1546.6h.01M1894 1639h.01M1634.2 1525.6h.01M1869.1 1550.7h.01M1851.7 1662.2h.01M1651.8 1474.5h.01M1673.9 1482.4h.01M1826.4 1484.7h.01M1865.2 1550.2h.01M1843.5 1288.6h.01M1975.5 1537.3h.01M1851.9 1587.2h.01M1747.4 1320.6h.01M1886.5 1624.9h.01M1841.7 1648.7h.01M1895.2 1493.3h.01M1575.8 1585.4h.01M1701.5 1661.3h.01M1639 1605.6h.01M1934.7 1531h.01M1849 1601.1h.01M1814.9 1436.5h.01M1608.8 1512h.01M1805.6 1532.7h.01M1645.1 1493.9h.01M1745.6 1331.5h.01M1611.1 1628.2h.01M1602.8 1613.5h.01M1868.3 1436.8h.01M1751.1 1491.9h.01M1620.8 1475.3h.01M1738.5 1364.6h.01M1585.4 1574.5h.01M1887.8 1404.3h.01M1604.1 1600.1h.01M1725.9 1424.6h.01M1847.5 1360.2h.01M1852.8 1670.7h.01M1874.7 1375.1h.01M1687.9 1336.3h.01M1847.2 1587h.01M1642.4 1465.4h.01M1673.9 1657.2h.01M1823.2 1265.4h.01M1816.8 1301.9h.01M1944.3 1607.4h.01M1686.7 1671.5h.01M1787.3 1471.4h.01M1836.1 1337h.01M1692.4 1535.4h.01M1670.7 1578.1h.01M1776.9 1668.9h.01M1966.4 1391.5h.01M1716.5 1462.6h.01M1857.2 1569.9h.01M1560.8 1560.7h.01M1891 1295.3h.01M1555.7 1521.9h.01"/>
<path stroke-width="7" d="M1755.7 1312.1h.01M1668.7 1655.7h.01M1919.6 1564.1h.01M1847.2 1316h.01M1906.7 1499.1h.01M1697.3 1657.9h.01M1863.6 1337.4h.01M1644.3 1608.2h.01M1796.9 1597.4h.01M1700.1 1513.2h.01M1881.7 1329.4h.01M1741.2 1255.9h.01M1731.1 1634.4h.01M1701.8 1663h.01M1807.2 1592.6h.01M1809.5 1289.7h.01M1938.5 1512.8h.01M1989 1471.1h.01M1800.8 1672h.01M1740.3 1439.3h.01M1622.8 1458.6h.01M1660.3 1553.9h.01M1776.2 1420.7h.01M1891.2 1542.4h.01M1629.9 1487.2h.01M1877.8 1332.1h.01M1765.6 1579.3h.01M1629.9 1603.3h.01M1828.1 1645.9h.01M1821.6 1695.9h.01M1954.1 1489.1h.01M1881.3 1315.1h.01M1738.4 1390h.01M1814.1 1364.4h.01M1921.2 1317.5h.01M1595.7 1573h.01M1809.1 1593.5h.01M1842.7 1578.6h.01M1755.2 1684.1h.01M1629.5 1443.1h.01M1612.9 1337.7h.01M1652.5 1430.6h.01M1898.1 1481.9h.01M1817.5 1686.4h.01M1838.8 1507h.01"/>
<path stroke-width="8" stroke-opacity="0.6" d="M1842.3 1480.5h.01M1757 1589.9h.01M1777.2 1562.1h.01M1663.9 1458.1h.01M1885.2 1374.8h.01M1769.3 1545h.01M1648 1385.9h.01M1554 1407h.01M1726.5 1424.3h.01M1679.8 1613.7h.01M1854.7 1586.8h.01M1782.8 1560.7h.01M1665.6 1570.6h.01M1954 1606.6h.01M1868.3 1308.2h.01M1831.5 1487.6h.01M1698.8 1266h.01M1786.5 1546.9h.01M1953.2 1388.2h.01M1901.6 1299.9h.01M1935.3 1439.2h.01M1819.3 1477.8h.01M1695.8 1632.7h.01M1868.9 1587h.01M1593.7 1356h.01M1861.4 1650.7h.01M1805.7 1701h.01M1985.7 1485.6h.01M1671.9 1613.3h.01M1643.7 1636.9h.01M1784.7 1647.5h.01M1584.2 1361.2h.01M1695.3 1524.3h.01M1883.6 1656.1h.01M1619.5 1343.1h.01M1686 1465.5h.01M1798.9 1440.2h.01M1879.8 1364.2h.01M1633.7 1481.2h.01M1830.6 1354.6h.01M1749 1652h.01M1900.6 1352h.01M1741.9 1496.2h.01M1721.9 1316.7h.01M1960.5 1489.8h.01M1968.1 1442.5h.01M1894.2 1582.6h.01M1875 1416.5h.01M1767.4 1294h.01M1837.4 1508.3h.01M1806.3 1322.7h.01M1978.4 1505.5h.01M1605.5 1480.3h.01M1707.3 1386.7h.01M1833.2 1478h.01M1620.4 1411.7h.01M1927.9 1492.8h.01M1874.9 1413.3h.01M1685 1352.4h.01M1931.3 1497.8h.01M1862.5 1538h.01M1609 1513.4h.01M1696.9 1267.9h.01M1690.2 1537.4h.01M1616.9 1342.5h.01M1822.7 1404.3h.01M1652.4 1641.1h.01M1622.2 1531.1h.01M1839.4 1486.9h.01M1956.7 1361.3h.01M1682.1 1356.9h.01M1847.6 1437.6h.01M1877.5 1412.8h.01M1799.5 1537.8h.01M1657.9 1579.1h.01M1630.7 1301h.01M1702.3 1418.8h.01M1579.5 1425.8h.01M1582.3 1382.4h.01M1834.1 1263.5h.01"/>
<path stroke-width="8" stroke-opacity="0.8" d="M1706.3 1326.2h.01M1748.3 1315.7h.01M1847.7 1466.9h.01M1764.1 1312.6h.01M1955.3 1453.9h.01M1825.8 1623.9h.01M1620.1 1400.7h.01M1613.3 1404h.01M1858.9 1463.9h.01M1692 1518.2h.01M1847.2 1468.9h.01M1856.8 1570.4h.01M1868.8 1336.5h.01M1678.4 1342.4h.01M1890.5 1651.3h.01M1798.5 1260.5h.01M1923.4 1527.5h.01M1917.9 1646.7h.01M1854.1 1428.5h.01M1869.7 1384.2h.01M1660.9 1502.4h.01M1826.7 1677.7h.01M1952.7 1537.9h.01M1678.9 1659.9h.01M1696.5 1387.7h.01M1780.4 1384.8h.01M1598.1 1566.5h.01M1731 1287.3h.01M1803.5 1663.7h.01M1646.7 1409.5h.01M1806.7 1607.9h.01M1581.4 1390.9h.01M1962.7 1482.5h.01M1707.7 1451.9h.01M1870.1 1415h.01M1798.7 1657.5h.01M1865.3 1401.1h.01M1584.5 1519.2h.01M1685.7 1487.7h.01M1816.7 1440.4h.01M1882 1491.4h.01M1725 1688h.01M1705.1 1429.6h.01M1669.6 1583.7h.01M1820.9 1649h.01M1694.5 1518.4h.01M1743.2 1688.4h.01M1950.1 1395.3h.01M1847.5 1333.2h.01M1735.4 1621.4h.01M1714.1 1336.3h.01M1955.7 1585.1h.01M1963 1520.4h.01M1568.9 1498.5h.01M1860.3 1521.8h.01M1799.2 1429.5h.01M1965.9 1483.1h.01M1883.7 1549.9h.01M1711.3 1484.6h.01M1900.6 1448.4h.01M1577.1 1595.9h.01M1608.4 1348.8h.01M1619.1 1331.1h.01M1895.8 1650.5h.01M1824.9 1398.4h.01M1730.4 1347h.01M1619.3 1648.9h.01M1680.1 1480.3h.01M1733.6 1261.6h.01M1935.7 1449.3h.01M1683.7 1451.6h.01M1719.6 1381.1h.01M1768.8 1405.8h.01M1724 1320h.01M1684.4 1510.3h.01M1587.2 1447.8h.01M1810.2 1670.9h.01M1770.8 1679.7h.01M1862.2 1296.4h.01M1549.7 1517.5h.01M1961.4 1372.3h.01M1814 1543.8h.01M1988.1 1469.5h.01M1686.5 1376.1h.01M1810.9 1288h.01M1702.8 1502.1h.01M1726.8 1318.6h.01M1939.4 1388.9h.01M1811 1638h.01M1733 1261.7h.01M1640.1 1386.3h.01M1684.9 1540.6h.01M1906.1 1450h.01M1883.9 1329.5h.01"/>
<path stroke-width="8" d="M1923.8 1406.1h.01M1878.5 1342.6h.01M1686.6 1320.3h.01M1731.3 1440.5h.01M1662.9 1645.4h.01M1814.5 1294.4h.01M1680.1 1434.9h.01M1570.1 1490h.01M1787.4 1402.4h.01M1875.4 1440.2h.01M1812.6 1580.8h.01M1903.6 1636.1h.01M1736.1 1422.8h.01M1622.2 1508.4h.01M1857.6 1674.2h.01M1681.3 1293.6h.01M1695 1589.9h.01M1770.4 1475.9h.01M1789.7 1631.1h.01M1681.1 1620.5h.01M1702.5 1473h.01M1802 1601h.01M1981.6 1544.9h.01M1817.8 1300.7h.01M1644.3 1616.6h.01M1736.3 1668.2h.01M1633.3 1314.1h.01M1807.6 1462.6h.01M1581 1572.2h.01M1895.1 1453.6h.01M1875.8 1611.3h.01M1641.9 1617.1h.01M1598.5 1391.3h.01M1791.5 1588.3h.01M1872.3 1547.5h.01M1613.4 1342.3h.01M1701.2 1603.9h.01M1667.5 1452.9h.01M1882.2 1497.7h.01M1693.3 1353.5h.01M1589.3 1407.6h.01M1811.1 1516.6h.01M1594.6 1407.4h.01M1916.2 1571.2h.01M1735.9 1562.1h.01M1848.5 1383.7h.01M1857.1 1561.2h.01M1816.4 1619.1h.01"/>
<path stroke-width="9" stroke-opacity="0.6" d="M1578.6 1380.5h.01M1736.1 1595.3h.01M1837.7 1488.1h.01M1842.8 1627.8h.01M1846.2 1321.8h.01M1912.2 1494.1h.01M1981.2 1510.3h.01M1841 1395.3h.01M1824.3 1394.6h.01M1822.4 1324h.01M1555 1424.4h.01M1816 1410.3h.01M1702.5 1505.9h.01M1700.1 1515.9h.01M1902.2 1641.5h.01M1798.2 1455.3h.01M1584.2 1400.3h.01M1696 1599h.01M1867.2 1553h.01M1776.7 1554.9h.01M1699.1 1652.1h.01M1814.8 1414.6h.01M1833.8 1592.1h.01M1748.8 1315.8h.01M1621.9 1366.6h.01M1867.4 1435.5h.01M1867.1 1533.9h.01M1743.3 1346.8h.01M1605.7 1626.1h.01M1887 1565.6h.01M1936 1559.2h.01M1912.3 1493.2h.01M1866.9 1383.4h.01M1824.5 1644.1h.01M1835.7 1475.6h.01M1786.2 1373h.01M1733.8 1460.7h.01M1836.8 1623.4h.01M1928.4 1418.3h.01M1787 1704h.01M1633.4 1485h.01M1801.5 1477h.01M1969.2 1539.6h.01M1737.9 1667h.01M1863 1298.7h.01M1809.8 1398.7h.01M1801.9 1387.1h.01M1809.6 1366h.01M1892 1337.6h.01M1714.9 1594.4h.01M1574.3 1373.7h.01M1867.2 1293.3h.01M1744.6 1471.7h.01M1908.1 1485.5h.01M1911.3 1395.8h.01M1933.9 1491.5h.01M1705.1 1542.2h.01M1721.1 1356.4h.01M1808.7 1362.7h.01M1719.7 1518.9h.01M1868.3 1549.6h.01M1923.7 1614.2h.01M1861 1421.8h.01M1562.5 1411.1h.01M1601.6 1433.4h.01M1841.3 1444.4h.01M1790.3 1481.3h.01M1702.6 1495.5h.01M1806.7 1467.4h.01M1765.5 1663h.01M1743.6 1376.5h.01M1666.2 1288.9h.01M1573.2 1505.7h.01M1858.8 1626.3h.01M1865.3 1616.7h.01M1666.1 1391.8h.01M1625.3 1551.1h.01M1653 1564.5h.01M1881.6 1657h.01M1699.9 1661.9h.01M1879 1290.8h.01M1619.9 1391.9h.01M1787.8 1584.7h.01M1723.6 1600.8h.01M1805.3 1377.2h.01M1644.2 1404.7h.01M1621.1 1305.5h.01M1794.5 1615.4h.01M1779.8 1482.9h.01M1720.1 1365h.01M1907.3 1322.4h.01M1706.1 1407.2h.01M1773.9 1286.5h.01M1650.2 1512.1h.01M1834.6 1279.9h.01M1992.3 1493.6h.01M1766.6 1331.5h.01M1825.3 1321.4h.01M1712.3 1585.9h.01M1834.5 1492.8h.01"/>
<path stroke-width="9" stroke-opacity="0.8" d="M1825.7 1490.7h.01M1844.8 1489.2h.01M1708.5 1429.3h.01M1929.8 1426.6h.01M1730.5 1591h.01M1846.5 1438.5h.01M1780.9 1325.9h.01M1967.3 1525.9h.01M1947.5 1461.5h.01M1740.2 1455.9h.01M1645.2 1628.1h.01M1696.1 1299.3h.01M1863.2 1544.6h.01M1631.4 1450.2h.01M1892.4 1622.2h.01M1754.9 1409.4h.01M1710 1665h.01M1936.8 1549.5h.01M1837.2 1298.2h.01M1785.9 1426.2h.01M1701.1 1515.3h.01M1875.9 1554.9h.01M1622.8 1482.7h.01M1825.5 1475.4h.01M1686.3 1276.7h.01M1702 1551.1h.01M1914.9 1524.5h.01M1809.2 1280.1h.01M1579.9 1400.4h.01M1876.4 1502.6h.01M1843.5 1506.7h.01M1856.7 1453.5h.01M1609.7 1408.1h.01M1787.4 1379.2h.01M1778.7 1425.9h.01M1890.3 1564.5h.01M1571.8 1555.6h.01M1645.5 1366.7h.01M1580.8 1556.5h.01M1596.8 1480.9h.01M1745.8 1447.8h.01M1977.8 1444.2h.01M1879.9 1330.6h.01M1689.5 1466.7h.01M1932.2 1389.1h.01M1821.5 1318.4h.01M1703.1 1653h.01M1611.6 1482.1h.01M1737.9 1700.4h.01M1813.4 1399.8h.01M1661.5 1399h.01M1907.8 1502.3h.01M1606.5 1596h.01M1975.8 1472.6h.01M1559.8 1422.8h.01M1716.9 1513.2h.01M1909.5 1411.9h.01M1634.7 1604.5h.01M1833.1 1306.5h.01M1971 1468.9h.01M1592 1352h.01M1745 1442.7h.01M1743 1462.4h.01M1719.6 1554.1h.01M1650.3 1509.2h.01M1789.1 1500h.01M1612.2 1321.5h.01M1687.4 1415.1h.01M1636.7 1409.4h.01M1712.9 1660.2h.01M1741.1 1642.1h.01M1754.3 1251.9h.01M1796.7 1678h.01M1837.9 1390.1h.01M1774 1419.2h.01M1818.3 1588.3h.01M1985.1 1508.6h.01M1915 1623.6h.01M1734.9 1262.7h.01M1742 1686.7h.01M1736.4 1505.4h.01M1844.7 1603.4h.01M1864 1534.3h.01M1750.3 1501.5h.01M1827.4 1572.8h.01M1778 1560.2h.01M1821.7 1436.9h.01M1575.8 1366.2h.01M1685.4 1460.1h.01M1575.6 1373.8h.01M1913.8 1560.1h.01M1618.5 1357.1h.01M1727 1398.8h.01M1684.9 1647.6h.01M1762.2 1275.9h.01M1708.1 1542.3h.01M1825.2 1294.9h.01M1803.2 1444h.01"/>
<path stroke-width="9" d="M1973.8 1448.1h.01M1546.6 1485h.01M1619.9 1467.9h.01M1674.9 1654.2h.01M1813.3 1591.6h.01M1912.7 1574.2h.01M1621.4 1409.8h.01M1964.6 1454.5h.01M1602.5 1529.3h.01M1544.1 1475.7h.01M1707.7 1617.4h.01M1776.3 1351.6h.01M1731.1 1462.8h.01M1747.2 1585.7h.01M1658.5 1591.5h.01M1703.1 1403.5h.01M1762.6 1384.6h.01M1591.8 1338.5h.01M1753.1 1484.1h.01M1851.1 1580h.01M1701.9 1524.9h.01M1803.1 1653.8h.01M1833.2 1618h.01M1694.1 1332.4h.01M1839.6 1547.9h.01M1854.1 1571.2h.01M1569.6 1512.9h.01M1675.3 1646.1h.01M1815.7 1599.6h.01M1754.3 1538.1h.01M1847.4 1286.2h.01M1650.9 1338.1h.01M1906.2 1501h.01M1559.4 1547.7h.01M1889.2 1444.6h.01M1579.3 1441.1h.01M1840.3 1509.2h.01M1855.3 1587.9h.01M1950 1443.7h.01M1731 1465.9h.01M1893.2 1474h.01M1652.8 1570.5h.01"/>
<path stroke-width="10" stroke-opacity="0.6" d="M1693.9 1319.7h.01M1842.4 1481.2h.01M1850.1 1311.8h.01M1676.5 1648h.01M1676.7 1657h.01M1831.7 1538.1h.01M1687.5 1497.1h.01M1543 1482.4h.01M1656.6 1642.8h.01M1821.9 1432.6h.01M1649.1 1392.9h.01M1831.6 1516.3h.01M1966.1 1402.6h.01M1573.3 1449.7h.01M1839.7 1485.5h.01M1865.5 1320.6h.01M1704.3 1319.5h.01M1687.3 1475.4h.01M1705.6 1510.2h.01M1615.9 1604.3h.01M1793.2 1362.9h.01M1819.3 1411.1h.01M1608 1398.2h.01M1872 1452.7h.01M1807.4 1542.7h.01M1934.1 1500h.01M1994.9 1485.7h.01M1725.2 1435.7h.01M1547 1502.5h.01M1675.7 1511.3h.01M1877.2 1432.2h.01M1710.3 1446h.01M1668.3 1586.3h.01M1599.5 1421.9h.01M1897.4 1605.7h.01M1686.4 1432.8h.01M1787.6 1372.7h.01M1968 1410h.01M1596.6 1484.6h.01M1716.3 1424.5h.01M1710.1 1458.2h.01M1644.8 1557.2h.01M1731.6 1442.3h.01M1743 1362.1h.01M1809.2 1485.1h.01M1606.2 1449.7h.01M1658.9 1428.1h.01M1802.5 1441.4h.01M1739.6 1579.9h.01M1859.3 1487.8h.01M1609.3 1450.7h.01M1847.4 1296.5h.01M1808.1 1422h.01M1570.9 1509.7h.01M1618.8 1632.5h.01M1813.4 1429.8h.01M1808.8 1418.5h.01M1950.4 1386.2h.01M1681.1 1609.3h.01M1755.7 1338.5h.01M1558.1 1435.7h.01M1797.8 1626.2h.01M1771.3 1558.2h.01M1773 1258.8h.01M1626.5 1446.6h.01M1899.6 1312.6h.01M1968.5 1528.2h.01M1562 1561.8h.01M1814.3 1276.8h.01M1777.9 1557.1h.01M1776.5 1268.7h.01M1543.4 1501.6h.01M1804.3 1494.6h.01M1858 1337.7h.01M1661.7 1384.1h.01M1880.1 1549.9h.01M1658.7 1305.9h.01M1818.4 1344.5h.01"/>
<path stroke-width="10" stroke-opacity="0.8" d="M1812.3 1482.8h.01M1612.4 1338.6h.01M1820.8 1524.9h.01M1881.8 1381.5h.01M1752.3 1441.9h.01M1878.1 1502.6h.01M1678.2 1655.8h.01M1905.8 1400.2h.01M1812.9 1363.1h.01M1607.7 1341.5h.01M1886.9 1567.2h.01M1786 1650.5h.01M1653.5 1570.1h.01M1807.3 1551.9h.01M1686.7 1463.1h.01M1941.9 1485.1h.01M1597.2 1542.9h.01M1688 1348.6h.01M1620.6 1310.2h.01M1768.4 1547.3h.01M1740.8 1587.9h.01M1979.9 1491.3h.01M1837.6 1290.3h.01M1833 1522.1h.01M1705.7 1459.8h.01M1784.7 1558.8h.01M1877.5 1484.2h.01M1589.9 1349.4h.01M1964 1524.5h.01M1679.6 1675.8h.01M1867.4 1419.4h.01M1971 1560.9h.01M1711.5 1564.7h.01M1638.9 1315.3h.01M1722.7 1611.4h.01M1854.8 1340.3h.01M1854.7 1481.1h.01M1849.3 1467.4h.01M1803.8 1497.2h.01M1717.3 1335.8h.01M1776.1 1624.5h.01M1858.9 1587.2h.01M1848 1384.2h.01M1855 1293.8h.01M1878.5 1639.1h.01M1682.3 1472.2h.01M1816.9 1662.7h.01M1837.5 1265.3h.01M1892.9 1397.3h.01M1857.2 1680.2h.01M1701.2 1401h.01M1784.4 1565.9h.01M1594.5 1377.2h.01M1616.9 1440.8h.01M1546 1435.9h.01M1665.4 1435.6h.01M1903.1 1333.4h.01M1973.8 1538.6h.01M1608.8 1573.7h.01M1704.9 1574.7h.01M1906.7 1389h.01M1883.7 1659.8h.01M1777.5 1684.6h.01M1909.2 1382.4h.01M1666.5 1335.1h.01M1665.6 1443.2h.01M1659.2 1426.5h.01M1727.3 1287.4h.01M1687.4 1551.7h.01M1713.3 1572.7h.01M1955.6 1489.9h.01M1680.5 1379.1h.01M1672.9 1502h.01M1709.6 1592.5h.01M1851.8 1469.4h.01"/>
<path stroke-width="10" d="M1838.4 1387.2h.01M1733 1588.2h.01M1757.2 1369.7h.01M1964.2 1403.9h.01M1774 1389.4h.01M1724.2 1263.8h.01M1748.2 1693.9h.01M1881.1 1557.5h.01M1926.5 1317.7h.01M1721.7 1609.5h.01M1722.2 1680.4h.01M1806.5 1470.4h.01M1952.9 1530.6h.01M1570.4 1507.4h.01M1681.7 1317.4h.01M1803 1537.4h.01M1563.5 1480.6h.01M1673.7 1345.5h.01M1681.1 1486h.01M1698.8 1576.2h.01M1832.6 1355.3h.01M1710.1 1268.4h.01M1766.9 1669.7h.01M1835.3 1374.2h.01M1605.2 1514.9h.01M1601.7 1541.6h.01M1729.8 1581h.01M1648.6 1623.8h.01M1766.3 1622.4h.01M1856.2 1572.5h.01M1743.8 1560.1h.01M1931.8 1450.8h.01"/>
<path stroke-width="11" stroke-opacity="0.6" d="M1614.6 1402.9h.01M1682.9 1483.3h.01M1577.8 1591.5h.01M1560.9 1391.8h.01M1760.5 1290.5h.01M1881.4 1646.2h.01M1825.6 1350.8h.01"/>
<path stroke-width="11" stroke-opacity="0.8" d="M1925.3 1426.2h.01M1754 1450.9h.01M1616.5 1416.5h.01M1795.2 1630.6h.01M1953 1453.7h.01M1831.2 1315.8h.01M1885.3 1317.5h.01M1743.7 1318.7h.01M1626.9 1394h.01"/>
<path stroke-width="11" d="M1656.3 1555.9h.01M1679.8 1484h.01M1631.2 1376.6h.01"/>
<path stroke-width="12" stroke-opacity="0.6" d="M1816.7 1484.5h.01M1583.5 1365.3h.01M1650.3 1432.3h.01M1547 1485.3h.01M1724.1 1450.1h.01M1671 1420.8h.01M1918.4 1564.9h.01M1660.8 1363.6h.01"/>
<path stroke-width="12" stroke-opacity="0.8" d="M1648.5 1285.8h.01M1914.4 1590.2h.01M1830.9 1435.9h.01M1917.2 1434h.01M1753.4 1568.2h.01"/>
<path stroke-width="12" d="M1573.7 1503.6h.01"/>
<path stroke-width="13" stroke-opacity="0.6" d="M1984.6 1431.8h.01M1672.8 1462.7h.01M1836.9 1333.4h.01"/>
<path stroke-width="13" stroke-opacity="0.8" d="M1702.4 1324.7h.01M1968.2 1391.2h.01M1623 1461.3h.01"/>
<path stroke-width="13" d="M1634.5 1597.6h.01M1856.1 1306h.01"/>
</g>
<rect x="1539.6" y="1249.8" width="457.4" height="457.4" filter="url(#grain)" opacity="0.14"/>
<rect x="1539.6" y="1249.8" width="457.4" height="457.4" filter="url(#grainw)" opacity="0.12"/>
<circle cx="1768.3" cy="1478.5" r="228.2" fill="none" stroke="#323087" stroke-width="2" stroke-opacity="0.6" filter="url(#bR)"/>
</g>
</svg>
</body></html>
